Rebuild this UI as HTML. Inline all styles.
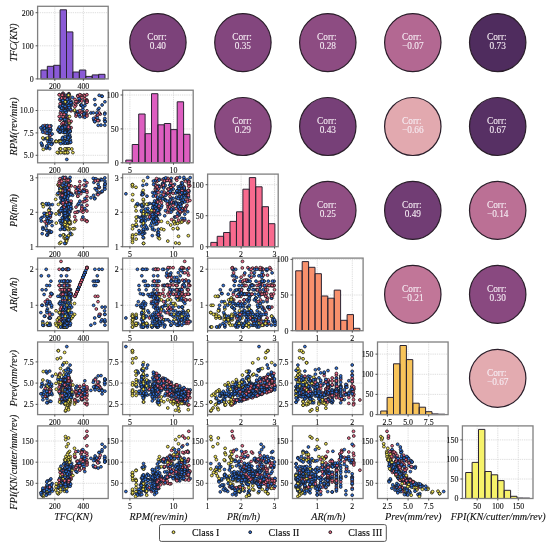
<!DOCTYPE html><html><head><meta charset="utf-8"><style>html,body{margin:0;padding:0;background:#fff}svg{display:block;will-change:transform}</style></head><body><svg width="550" height="548" viewBox="0 0 550 548">
<rect width="550" height="548" fill="#fff"/>
<defs><circle id="a" r="1.42" fill="#f2e655" stroke="#111" stroke-width="0.75"/><circle id="b" r="1.42" fill="#3272dc" stroke="#111" stroke-width="0.75"/><circle id="c" r="1.42" fill="#ec6a8a" stroke="#111" stroke-width="0.75"/></defs>
<style>text{font-family:"Liberation Serif",serif;fill:#111;stroke:#000;stroke-width:.1px}.t{font-size:7.9px}.l{font-size:9.6px;font-style:italic}.c{font-size:9.3px;fill:#f7eef5;stroke:#f7eef5;stroke-width:.08px}circle.p{stroke:#111;stroke-width:.75}</style>
<path d="M54.8 6.3v72.6M83.4 6.3v72.6M37.6 78.9h70.6M37.6 45.8h70.6M37.6 12.7h70.6" stroke="#d6d6d6" stroke-width=".8" stroke-dasharray="1.3 .9" fill="none"/>
<path d="M40.9 78.9h6.4v-8.9h-6.4zM47.3 78.9h6.4v-12.6h-6.4zM53.7 78.9h6.4v-13.6h-6.4zM60.1 78.9h6.4v-69.1h-6.4zM66.5 78.9h6.4v-47h-6.4zM72.9 78.9h6.4v-6.9h-6.4zM79.4 78.9h6.4v-8.9h-6.4zM85.8 78.9h6.4v-2.5h-6.4zM92.2 78.9h6.4v-4h-6.4zM98.6 78.9h6.4v-4.6h-6.4z" fill="#8a5ad6" stroke="#2b2433" stroke-width="1"/>
<rect x="37.6" y="6.3" width="70.6" height="72.6" fill="none" stroke="#808080" stroke-width="1.3"/>
<text class="t" x="54.8" y="89.4" text-anchor="middle">200</text>
<text class="t" x="83.4" y="89.4" text-anchor="middle">400</text>
<text class="t" x="33.6" y="81.7" text-anchor="end">0</text>
<text class="t" x="33.6" y="48.6" text-anchor="end">100</text>
<text class="t" x="33.6" y="15.5" text-anchor="end">200</text>
<path d="M54.8 78.9v2M83.4 78.9v2M37.6 78.9h-2M37.6 45.8h-2M37.6 12.7h-2" stroke="#444" stroke-width=".9"/>
<ellipse cx="157.9" cy="42.6" rx="28.2" ry="29" fill="#7c427a" stroke="#2a1e2a" stroke-width="1.2"/>
<text class="c" x="157" y="40.4" text-anchor="middle">Corr:</text>
<text class="c" x="157.9" y="49.2" text-anchor="middle">0.40</text>
<ellipse cx="242.9" cy="42.6" rx="28.2" ry="29" fill="#83467e" stroke="#2a1e2a" stroke-width="1.2"/>
<text class="c" x="242" y="40.4" text-anchor="middle">Corr:</text>
<text class="c" x="242.9" y="49.2" text-anchor="middle">0.35</text>
<ellipse cx="327.8" cy="42.6" rx="28.2" ry="29" fill="#8d4c82" stroke="#2a1e2a" stroke-width="1.2"/>
<text class="c" x="326.9" y="40.4" text-anchor="middle">Corr:</text>
<text class="c" x="327.8" y="49.2" text-anchor="middle">0.28</text>
<ellipse cx="412.8" cy="42.6" rx="28.2" ry="29" fill="#b36892" stroke="#2a1e2a" stroke-width="1.2"/>
<text class="c" x="411.9" y="40.4" text-anchor="middle">Corr:</text>
<text class="c" x="412.8" y="49.2" text-anchor="middle">−0.07</text>
<ellipse cx="497.7" cy="42.6" rx="28.2" ry="29" fill="#4f2c5e" stroke="#2a1e2a" stroke-width="1.2"/>
<text class="c" x="496.8" y="40.4" text-anchor="middle">Corr:</text>
<text class="c" x="497.7" y="49.2" text-anchor="middle">0.73</text>
<path d="M54.8 90.2v72.6M83.4 90.2v72.6M37.6 155.3h70.6M37.6 132.9h70.6M37.6 110.5h70.6" stroke="#d6d6d6" stroke-width=".8" stroke-dasharray="1.3 .9" fill="none"/>
<clipPath id="c10"><rect x="37.6" y="90.2" width="70.6" height="72.6"/></clipPath>
<g clip-path="url(#c10)"><g transform="translate(37.6 90.2)">
<use href=#b x=39.3 y=22.8 /><use href=#b x=28.2 y=15.6 /><use href=#b x=26.6 y=42.5 /><use href=#b x=57.1 y=9.3 /><use href=#b x=29.7 y=40.9 /><use href=#c x=22.4 y=30 /><use href=#b x=25.2 y=20.7 /><use href=#b x=40.3 y=21.3 /><use href=#b x=40.2 y=5.4 /><use href=#b x=23.3 y=20.6 /><use href=#b x=47.4 y=10.3 /><use href=#c x=11.8 y=36.9 /><use href=#b x=38.3 y=23.5 /><use href=#c x=38.4 y=25.9 /><use href=#a x=28.7 y=51.2 /><use href=#b x=26.4 y=32.3 /><use href=#b x=23.4 y=16.4 /><use href=#c x=46.3 y=4.9 /><use href=#b x=29.2 y=10.9 /><use href=#c x=58.7 y=26.1 /><use href=#b x=27.8 y=35.7 /><use href=#b x=29.2 y=52.6 /><use href=#c x=31.7 y=31.3 /><use href=#b x=32.5 y=41 /><use href=#c x=8.9 y=37.3 /><use href=#c x=62.7 y=23.9 /><use href=#a x=32.2 y=32.8 /><use href=#b x=61.6 y=5.1 /><use href=#a x=24.8 y=51 /><use href=#c x=27.3 y=39 /><use href=#a x=27.9 y=14.5 /><use href=#b x=31.8 y=9.6 /><use href=#b x=24.8 y=49.5 /><use href=#c x=21.6 y=37.9 /><use href=#c x=47.3 y=8.6 /><use href=#c x=21.1 y=38.6 /><use href=#b x=25.9 y=53.2 /><use href=#a x=32.8 y=19 /><use href=#b x=30 y=11.6 /><use href=#a x=29.6 y=58.6 /><use href=#c x=45.4 y=26.4 /><use href=#b x=27.4 y=15.1 /><use href=#a x=32.4 y=19.5 /><use href=#b x=32.5 y=41.5 /><use href=#a x=31.9 y=5.4 /><use href=#c x=41.4 y=11 /><use href=#c x=43.4 y=15 /><use href=#b x=26.8 y=38.8 /><use href=#c x=27.2 y=6.4 /><use href=#c x=30.5 y=36.7 /><use href=#b x=56.3 y=29.7 /><use href=#b x=26.7 y=15.5 /><use href=#b x=32.8 y=49.8 /><use href=#c x=45.4 y=22.3 /><use href=#c x=49.2 y=11.9 /><use href=#c x=49.2 y=9.7 /><use href=#b x=31.4 y=14.4 /><use href=#b x=60.5 y=19.3 /><use href=#a x=21.5 y=51 /><use href=#b x=67.3 y=22.9 /><use href=#b x=31.1 y=52.2 /><use href=#b x=43.4 y=15 /><use href=#b x=27 y=38.1 /><use href=#b x=22.8 y=50.8 /><use href=#b x=28.7 y=13.4 /><use href=#c x=61.7 y=22.8 /><use href=#a x=26.1 y=51.1 /><use href=#b x=10.2 y=51.3 /><use href=#b x=42.4 y=9.7 /><use href=#b x=22.6 y=42.1 /><use href=#b x=28.2 y=32.9 /><use href=#b x=29.2 y=14.6 /><use href=#c x=44.2 y=22.2 /><use href=#a x=27 y=62.4 /><use href=#a x=30.6 y=15.1 /><use href=#c x=30.1 y=36.4 /><use href=#a x=26.4 y=51 /><use href=#a x=28.3 y=59.1 /><use href=#b x=48.2 y=12.5 /><use href=#b x=25 y=14.6 /><use href=#b x=30.3 y=19.7 /><use href=#b x=23.7 y=10.8 /><use href=#b x=40.4 y=5.6 /><use href=#b x=9.4 y=56.5 /><use href=#b x=9.8 y=56.9 /><use href=#c x=33.5 y=31.1 /><use href=#b x=27 y=51.7 /><use href=#b x=26.1 y=29 /><use href=#b x=30.4 y=47.9 /><use href=#b x=27.4 y=38.1 /><use href=#a x=31.4 y=58.6 /><use href=#b x=30 y=44.1 /><use href=#c x=39.3 y=24.3 /><use href=#b x=34.1 y=11.7 /><use href=#b x=26 y=51 /><use href=#c x=42.2 y=23.2 /><use href=#c x=46.3 y=25.1 /><use href=#b x=35 y=7.3 /><use href=#a x=34.2 y=58.8 /><use href=#a x=26.4 y=51.2 /><use href=#b x=24.7 y=36.3 /><use href=#b x=12.2 y=51.2 /><use href=#b x=29.9 y=39.1 /><use href=#b x=26.4 y=28.7 /><use href=#b x=61.4 y=30.3 /><use href=#b x=25.5 y=38.8 /><use href=#b x=27.9 y=22.7 /><use href=#b x=58.2 y=30 /><use href=#b x=22 y=16.6 /><use href=#c x=33.5 y=20.6 /><use href=#b x=53.3 y=22.8 /><use href=#b x=12 y=49.2 /><use href=#b x=63.4 y=34.9 /><use href=#a x=20.6 y=62.5 /><use href=#b x=27.7 y=8.9 /><use href=#b x=30.6 y=41.7 /><use href=#b x=30.4 y=11.8 /><use href=#c x=25.3 y=38.9 /><use href=#b x=27.5 y=28.9 /><use href=#b x=27.3 y=15.6 /><use href=#b x=8.9 y=58 /><use href=#b x=29 y=34.5 /><use href=#b x=25.5 y=35.7 /><use href=#b x=26.6 y=51.2 /><use href=#c x=9.8 y=37 /><use href=#b x=29.3 y=39.6 /><use href=#b x=13.3 y=39.7 /><use href=#c x=31.3 y=7.3 /><use href=#b x=30.7 y=52.9 /><use href=#a x=36.9 y=20.6 /><use href=#c x=30.8 y=37.9 /><use href=#b x=27.6 y=14.6 /><use href=#b x=31.6 y=10.9 /><use href=#c x=46.4 y=25.5 /><use href=#b x=28.7 y=28.1 /><use href=#c x=22.4 y=37.6 /><use href=#c x=12.7 y=44 /><use href=#b x=28.6 y=13.5 /><use href=#a x=27.1 y=35.7 /><use href=#c x=49.4 y=23.9 /><use href=#b x=25.4 y=47.1 /><use href=#b x=26.6 y=33.4 /><use href=#b x=28.7 y=29.7 /><use href=#b x=28.6 y=32.4 /><use href=#c x=40.2 y=6 /><use href=#c x=23.4 y=8.7 /><use href=#a x=26.6 y=51 /><use href=#b x=55.7 y=22.6 /><use href=#b x=41.3 y=24.6 /><use href=#b x=30.3 y=46.1 /><use href=#a x=31.1 y=16 /><use href=#c x=28.1 y=38.7 /><use href=#a x=18.1 y=51.3 /><use href=#b x=12.3 y=36.3 /><use href=#b x=28.4 y=17.1 /><use href=#c x=49.3 y=10.7 /><use href=#b x=45.3 y=19.1 /><use href=#c x=31.4 y=3.5 /><use href=#a x=27.3 y=23.1 /><use href=#c x=46.3 y=23.3 /><use href=#b x=14.7 y=53 /><use href=#b x=12 y=45.7 /><use href=#b x=27.2 y=36.4 /><use href=#c x=57.7 y=29.6 /><use href=#b x=25.9 y=13.9 /><use href=#b x=13.3 y=35.7 /><use href=#b x=44.2 y=14.9 /><use href=#c x=24.2 y=33.6 /><use href=#b x=40.2 y=12.1 /><use href=#b x=32.4 y=38.3 /><use href=#a x=28.1 y=18.1 /><use href=#b x=26.5 y=36.4 /><use href=#c x=27.6 y=5.1 /><use href=#b x=29.4 y=51.7 /><use href=#b x=22.9 y=17.1 /><use href=#b x=27.6 y=37.6 /><use href=#a x=29 y=51.2 /><use href=#b x=28.8 y=20.8 /><use href=#b x=60.6 y=35.1 /><use href=#a x=20.8 y=62.5 /><use href=#b x=26.2 y=40.4 /><use href=#b x=33.4 y=15.6 /><use href=#c x=37.4 y=13.2 /><use href=#b x=27.4 y=12.6 /><use href=#b x=25.1 y=36.9 /><use href=#b x=25.2 y=10.4 /><use href=#b x=30.5 y=8.7 /><use href=#b x=25.4 y=24.9 /><use href=#b x=27.1 y=51.1 /><use href=#b x=29.6 y=5.4 /><use href=#b x=47.2 y=22.9 /><use href=#b x=30.4 y=4.3 /><use href=#c x=7.3 y=35.4 /><use href=#b x=29 y=52.6 /><use href=#c x=49.4 y=20.6 /><use href=#a x=31.4 y=51 /><use href=#b x=30.2 y=38.7 /><use href=#b x=25.9 y=37.5 /><use href=#c x=31.8 y=11.1 /><use href=#b x=27.6 y=41.8 /><use href=#a x=19.7 y=62.2 /><use href=#c x=26.9 y=39.9 /><use href=#b x=64.3 y=6 /><use href=#b x=23.3 y=28.5 /><use href=#b x=30.9 y=38.8 /><use href=#b x=32.5 y=46.8 /><use href=#b x=32.1 y=10.3 /><use href=#b x=26.3 y=41.9 /><use href=#b x=28.5 y=41.4 /><use href=#b x=4.6 y=39.7 /><use href=#b x=9.9 y=35.4 /><use href=#b x=27.4 y=38.5 /><use href=#b x=47.2 y=27.1 /><use href=#b x=26.8 y=39.6 /><use href=#b x=27 y=34.5 /><use href=#b x=28 y=52.8 /><use href=#c x=49.4 y=10.8 /><use href=#a x=30.5 y=15.8 /><use href=#c x=44.3 y=7.5 /><use href=#b x=27.5 y=18.2 /><use href=#c x=43.2 y=5 /><use href=#c x=39.4 y=11.4 /><use href=#b x=23.6 y=13.4 /><use href=#b x=67.1 y=24 /><use href=#c x=22.8 y=22.9 /><use href=#a x=11.2 y=42.8 /><use href=#b x=26.3 y=13.8 /><use href=#a x=27.3 y=58.7 /><use href=#b x=34 y=14 /><use href=#b x=29.8 y=49.3 /><use href=#a x=30.2 y=62.6 /><use href=#b x=67.5 y=31.3 /><use href=#b x=21.6 y=41.7 /><use href=#c x=44.2 y=10.8 /><use href=#c x=37.4 y=9.3 /><use href=#b x=32 y=44.8 /><use href=#a x=30.7 y=30.2 /><use href=#b x=25.3 y=9.9 /><use href=#b x=59.7 y=27.5 /><use href=#b x=28 y=37.4 /><use href=#b x=28.7 y=40.7 /><use href=#c x=38.2 y=15 /><use href=#b x=32.9 y=19.4 /><use href=#b x=28.2 y=51.2 /><use href=#c x=12.8 y=44.9 /><use href=#b x=28.7 y=14.1 /><use href=#c x=26.5 y=26.1 /><use href=#b x=27.7 y=51.8 /><use href=#b x=21.8 y=36.8 /><use href=#b x=29.3 y=11.6 /><use href=#c x=7.7 y=42.6 /><use href=#b x=25.2 y=11.8 /><use href=#a x=28.2 y=34.8 /><use href=#b x=61.4 y=18.1 /><use href=#c x=31.3 y=38.9 /><use href=#a x=29.8 y=16.1 /><use href=#a x=26.4 y=62.4 /><use href=#a x=28.6 y=62.4 /><use href=#b x=11.4 y=42.7 /><use href=#c x=26 y=17.5 /><use href=#c x=30.9 y=35.2 /><use href=#c x=25.2 y=6.1 /><use href=#b x=9.4 y=43 /><use href=#b x=22.8 y=15.7 /><use href=#b x=31.2 y=8.7 /><use href=#c x=29.1 y=13.2 /><use href=#b x=24.9 y=41.7 /><use href=#b x=31.2 y=41.7 /><use href=#b x=8.4 y=48.4 /><use href=#c x=27.6 y=36.7 /><use href=#a x=21.4 y=51.2 /><use href=#c x=47.2 y=5.6 /><use href=#b x=12.1 y=58.4 /><use href=#b x=42.3 y=26.5 /><use href=#b x=26.2 y=36.8 /><use href=#a x=31.5 y=32.7 /><use href=#b x=4.6 y=55.5 /><use href=#c x=22.5 y=13.6 /><use href=#b x=25.6 y=36.8 /><use href=#b x=31.4 y=4.3 /><use href=#c x=25.2 y=7 /><use href=#b x=25.3 y=3.1 /><use href=#b x=14 y=53.8 /><use href=#b x=31.9 y=46.5 /><use href=#b x=5.2 y=42 /><use href=#b x=24.2 y=8.5 /><use href=#c x=27.9 y=36 /><use href=#a x=22.3 y=58.7 /><use href=#b x=29.2 y=69.2 /><use href=#b x=29.3 y=15.1 /><use href=#b x=4.4 y=54.4 /><use href=#b x=67 y=30.4 /><use href=#b x=26.4 y=39.3 /><use href=#a x=29 y=26.1 /><use href=#b x=29.4 y=37.9 /><use href=#c x=23.9 y=24.2 /><use href=#b x=32.8 y=13 /><use href=#c x=27.1 y=35.6 /><use href=#b x=27.5 y=20.5 /><use href=#c x=25.6 y=3.4 /><use href=#b x=64.5 y=6.1 /><use href=#b x=26.9 y=38.3 /><use href=#b x=11 y=40.7 /><use href=#b x=30.1 y=26.3 /><use href=#b x=6 y=48.9 /><use href=#c x=49.4 y=12.1 /><use href=#a x=29 y=13.1 /><use href=#c x=21.6 y=26.3 /><use href=#c x=21.9 y=4.5 /><use href=#b x=6.5 y=38.7 /><use href=#b x=24.8 y=36.6 /><use href=#b x=26.4 y=11.4 /><use href=#b x=27.7 y=41 /><use href=#b x=27.1 y=29.3 /><use href=#b x=6.8 y=37.9 /><use href=#b x=8.6 y=57.4 /><use href=#b x=24.4 y=5.6 /><use href=#a x=5.7 y=59.2 /><use href=#b x=14.5 y=43.8 /><use href=#b x=31.6 y=37.6 /><use href=#b x=31.5 y=52.1 /><use href=#b x=29.6 y=26 /><use href=#b x=12.7 y=38.1 /><use href=#b x=25.3 y=15.4 /><use href=#b x=25 y=39.7 /><use href=#c x=42.2 y=4.5 /><use href=#a x=23 y=58.7 /><use href=#a x=23 y=58.8 /><use href=#b x=67.2 y=35 /><use href=#b x=23.8 y=38.2 /><use href=#b x=29.2 y=8.9 /><use href=#b x=41.4 y=8.5 /><use href=#b x=22.2 y=9.1 /><use href=#b x=67.3 y=11.6 /><use href=#b x=9.9 y=38.5 /><use href=#c x=28.1 y=33.7 /><use href=#c x=33.5 y=37.5 /><use href=#a x=30 y=62.2 /><use href=#b x=22.3 y=41.4 /><use href=#b x=32.6 y=52.4 /><use href=#b x=27.5 y=23.6 /><use href=#a x=20.8 y=51.4 /><use href=#c x=28.6 y=17.7 /><use href=#b x=28.2 y=18.2 /><use href=#c x=24 y=7.9 /><use href=#b x=27.7 y=41.7 /><use href=#b x=28.9 y=36 /><use href=#c x=28.9 y=16.9 /><use href=#b x=28 y=9.5 /><use href=#b x=20.3 y=39.9 /><use href=#b x=27.6 y=42.1 /><use href=#b x=32.5 y=40.9 /><use href=#b x=57.3 y=31.5 /><use href=#a x=5.3 y=47.8 /><use href=#a x=37 y=19.9 /><use href=#b x=29.9 y=52.4 /><use href=#c x=38.4 y=11.5 /><use href=#b x=29 y=8.6 /><use href=#b x=26.4 y=37.5 /><use href=#c x=28.9 y=36.5 /><use href=#b x=30.1 y=46.6 /><use href=#b x=12.4 y=40.7 /><use href=#b x=12.7 y=48.9 /><use href=#b x=64.5 y=14.8 /><use href=#b x=3.7 y=52.9 /><use href=#c x=27.5 y=8 /><use href=#b x=57.1 y=31.3 /><use href=#b x=29.2 y=34.4 /><use href=#b x=9.2 y=35.8 /><use href=#b x=30.3 y=12.1 /><use href=#b x=32.4 y=13.4 /><use href=#b x=14 y=49.4 /><use href=#b x=31.1 y=15.3 /><use href=#b x=27.5 y=46.6 /><use href=#b x=9.4 y=39.8 /><use href=#a x=22 y=51 /><use href=#c x=30.3 y=35.9 /><use href=#b x=24.6 y=37.7 /><use href=#b x=25.3 y=10.3 /><use href=#b x=27.8 y=51.1 /><use href=#b x=24.2 y=17.9 /><use href=#b x=28 y=51.8 /><use href=#b x=30.8 y=47.5 /><use href=#c x=42.2 y=20.5 /><use href=#b x=29.9 y=12.9 /><use href=#b x=57.5 y=14.6 /><use href=#c x=21.6 y=4.6 /><use href=#b x=56 y=28.2 /><use href=#c x=25.5 y=26.6 /><use href=#a x=35.3 y=62.4 /><use href=#b x=33.3 y=12.5 /><use href=#a x=9.7 y=47.9 /><use href=#b x=24.9 y=49.1 /><use href=#c x=60.2 y=24.7 /><use href=#b x=5.3 y=35.8 /><use href=#c x=25.5 y=32.6 /><use href=#c x=30.6 y=26.9 /><use href=#b x=47.3 y=15.4 /><use href=#b x=67.5 y=31.5 /><use href=#a x=18.4 y=51.2 /><use href=#b x=67.2 y=28.3 /><use href=#b x=26 y=4.8 /><use href=#c x=27 y=16.8 /><use href=#b x=26.9 y=51.1 /><use href=#a x=25.7 y=62.3 /><use href=#c x=25.2 y=5 /><use href=#b x=11.3 y=53.6 /><use href=#c x=49.4 y=25.8 /><use href=#c x=60.4 y=30.5 /><use href=#b x=13.9 y=54.3 /><use href=#b x=31.8 y=37.7 /><use href=#c x=26.7 y=24.2 /><use href=#b x=27.7 y=52.8 /><use href=#b x=24.8 y=48 /><use href=#b x=33.1 y=52 /><use href=#b x=29 y=36.4 /><use href=#b x=27.5 y=16.7 /><use href=#b x=3.3 y=37.6 /><use href=#a x=30.9 y=5 /><use href=#b x=27 y=12.1 /><use href=#a x=31.9 y=26.3 /><use href=#c x=30.9 y=37 /><use href=#b x=25.1 y=51.8 /><use href=#c x=12 y=36.1 /><use href=#a x=27.7 y=62.4 /><use href=#b x=59.2 y=22.7 /><use href=#b x=27.5 y=16.2 /><use href=#a x=22.9 y=51.4 /><use href=#b x=28.5 y=22.3 /><use href=#a x=18.7 y=51.2 /><use href=#b x=31.7 y=17.5 /><use href=#c x=49.3 y=4.5 /><use href=#a x=23.2 y=62.5 /><use href=#b x=30.9 y=11.7 /><use href=#b x=23.1 y=53.4 /><use href=#a x=27.7 y=11.6 /><use href=#b x=45.3 y=16.7 /><use href=#c x=37.2 y=16.5 /><use href=#b x=46.4 y=23.8 /><use href=#b x=9.2 y=55.7 /><use href=#b x=29.4 y=51.4 /><use href=#c x=24.6 y=5 /><use href=#c x=31.3 y=30.7 /><use href=#b x=27.4 y=36.7 /><use href=#b x=29.7 y=9.2 />
</g></g>
<rect x="37.6" y="90.2" width="70.6" height="72.6" fill="none" stroke="#808080" stroke-width="1.3"/>
<text class="t" x="54.8" y="173.3" text-anchor="middle">200</text>
<text class="t" x="83.4" y="173.3" text-anchor="middle">400</text>
<text class="t" x="33.6" y="158.1" text-anchor="end">5.0</text>
<text class="t" x="33.6" y="135.7" text-anchor="end">7.5</text>
<text class="t" x="33.6" y="113.3" text-anchor="end">10.0</text>
<path d="M54.8 162.8v2M83.4 162.8v2M37.6 155.3h-2M37.6 132.9h-2M37.6 110.5h-2" stroke="#444" stroke-width=".9"/>
<path d="M129.9 90.2v72.6M173.5 90.2v72.6M122.6 162.8h70.6M122.6 128.9h70.6M122.6 95h70.6" stroke="#d6d6d6" stroke-width=".8" stroke-dasharray="1.3 .9" fill="none"/>
<path d="M125.8 162.8h6.4v-2.7h-6.4zM132.2 162.8h6.4v-18.3h-6.4zM138.7 162.8h6.4v-48.8h-6.4zM145.1 162.8h6.4v-29.1h-6.4zM151.5 162.8h6.4v-69.1h-6.4zM157.9 162.8h6.4v-38h-6.4zM164.3 162.8h6.4v-39.3h-6.4zM170.7 162.8h6.4v-33.2h-6.4zM177.2 162.8h6.4v-61h-6.4zM183.6 162.8h6.4v-28.5h-6.4z" fill="#dd5ec0" stroke="#2b2433" stroke-width="1"/>
<rect x="122.6" y="90.2" width="70.6" height="72.6" fill="none" stroke="#808080" stroke-width="1.3"/>
<text class="t" x="129.9" y="173.3" text-anchor="middle">5</text>
<text class="t" x="173.5" y="173.3" text-anchor="middle">10</text>
<text class="t" x="118.6" y="165.6" text-anchor="end">0</text>
<text class="t" x="118.6" y="131.7" text-anchor="end">50</text>
<text class="t" x="118.6" y="97.8" text-anchor="end">100</text>
<path d="M129.9 162.8v2M173.5 162.8v2M122.6 162.8h-2M122.6 128.9h-2M122.6 95h-2" stroke="#444" stroke-width=".9"/>
<ellipse cx="242.9" cy="126.5" rx="28.2" ry="29" fill="#8a4a81" stroke="#2a1e2a" stroke-width="1.2"/>
<text class="c" x="242" y="124.3" text-anchor="middle">Corr:</text>
<text class="c" x="242.9" y="133.1" text-anchor="middle">0.29</text>
<ellipse cx="327.8" cy="126.5" rx="28.2" ry="29" fill="#774078" stroke="#2a1e2a" stroke-width="1.2"/>
<text class="c" x="326.9" y="124.3" text-anchor="middle">Corr:</text>
<text class="c" x="327.8" y="133.1" text-anchor="middle">0.43</text>
<ellipse cx="412.8" cy="126.5" rx="28.2" ry="29" fill="#e2a9af" stroke="#2a1e2a" stroke-width="1.2"/>
<text class="c" x="411.9" y="124.3" text-anchor="middle">Corr:</text>
<text class="c" x="412.8" y="133.1" text-anchor="middle">−0.66</text>
<ellipse cx="497.7" cy="126.5" rx="28.2" ry="29" fill="#573064" stroke="#2a1e2a" stroke-width="1.2"/>
<text class="c" x="496.8" y="124.3" text-anchor="middle">Corr:</text>
<text class="c" x="497.7" y="133.1" text-anchor="middle">0.67</text>
<path d="M54.8 174.1v72.6M83.4 174.1v72.6M37.6 246.7h70.6M37.6 212.3h70.6M37.6 177.8h70.6" stroke="#d6d6d6" stroke-width=".8" stroke-dasharray="1.3 .9" fill="none"/>
<clipPath id="c20"><rect x="37.6" y="174.1" width="70.6" height="72.6"/></clipPath>
<g clip-path="url(#c20)"><g transform="translate(37.6 174.1)">
<use href=#b x=39.3 y=13.5 /><use href=#b x=28.2 y=23.3 /><use href=#b x=26.6 y=36.5 /><use href=#b x=57.1 y=5.1 /><use href=#b x=29.7 y=43.7 /><use href=#c x=22.4 y=17.9 /><use href=#b x=25.2 y=24.3 /><use href=#b x=40.3 y=30.6 /><use href=#b x=40.2 y=22.1 /><use href=#b x=23.3 y=28.1 /><use href=#b x=47.4 y=16.4 /><use href=#c x=11.8 y=35.1 /><use href=#b x=38.3 y=18.8 /><use href=#c x=38.4 y=33 /><use href=#a x=28.7 y=50.3 /><use href=#b x=26.4 y=31.6 /><use href=#b x=23.4 y=49.1 /><use href=#c x=46.3 y=16 /><use href=#b x=29.2 y=28.4 /><use href=#c x=58.7 y=14.8 /><use href=#b x=27.8 y=11.5 /><use href=#b x=29.2 y=31.8 /><use href=#c x=31.7 y=5.6 /><use href=#b x=32.5 y=32.3 /><use href=#c x=8.9 y=49.9 /><use href=#c x=62.7 y=18.5 /><use href=#a x=32.2 y=54.8 /><use href=#b x=61.6 y=6.8 /><use href=#a x=24.8 y=46.5 /><use href=#c x=27.3 y=10.9 /><use href=#a x=27.9 y=69.3 /><use href=#b x=31.8 y=21 /><use href=#b x=24.8 y=51 /><use href=#c x=21.6 y=7.6 /><use href=#c x=47.3 y=45.9 /><use href=#c x=21.1 y=11.4 /><use href=#b x=25.9 y=52 /><use href=#a x=32.8 y=49.7 /><use href=#b x=30 y=44.2 /><use href=#a x=29.6 y=65 /><use href=#c x=45.4 y=38.2 /><use href=#b x=27.4 y=32.3 /><use href=#a x=32.4 y=47.1 /><use href=#b x=32.5 y=34.9 /><use href=#a x=31.9 y=48.6 /><use href=#c x=41.4 y=13.4 /><use href=#c x=43.4 y=36.7 /><use href=#b x=26.8 y=38.9 /><use href=#c x=27.2 y=31.3 /><use href=#c x=30.5 y=6.6 /><use href=#b x=56.3 y=8.3 /><use href=#b x=26.7 y=12.7 /><use href=#b x=32.8 y=59 /><use href=#c x=45.4 y=27.8 /><use href=#c x=49.2 y=16.8 /><use href=#c x=49.2 y=26.3 /><use href=#b x=31.4 y=41.1 /><use href=#b x=60.5 y=10.2 /><use href=#a x=21.5 y=37 /><use href=#b x=67.3 y=7 /><use href=#b x=31.1 y=18.4 /><use href=#b x=43.4 y=17.8 /><use href=#b x=27 y=47.9 /><use href=#b x=22.8 y=55.4 /><use href=#b x=28.7 y=11.9 /><use href=#c x=61.7 y=13.5 /><use href=#a x=26.1 y=26.2 /><use href=#b x=10.2 y=59.7 /><use href=#b x=42.4 y=18.2 /><use href=#b x=22.6 y=61.5 /><use href=#b x=28.2 y=33.4 /><use href=#b x=29.2 y=23.2 /><use href=#c x=44.2 y=45.5 /><use href=#a x=27 y=12.5 /><use href=#a x=30.6 y=62.2 /><use href=#c x=30.1 y=15.1 /><use href=#a x=26.4 y=19.8 /><use href=#a x=28.3 y=51.8 /><use href=#b x=48.2 y=11.8 /><use href=#b x=25 y=18.9 /><use href=#b x=30.3 y=28.8 /><use href=#b x=23.7 y=14.9 /><use href=#b x=40.4 y=37.6 /><use href=#b x=9.4 y=30.6 /><use href=#b x=9.8 y=42.8 /><use href=#c x=33.5 y=11.8 /><use href=#b x=27 y=32.5 /><use href=#b x=26.1 y=25.7 /><use href=#b x=30.4 y=10.3 /><use href=#b x=27.4 y=39.7 /><use href=#a x=31.4 y=43.1 /><use href=#b x=30 y=41.3 /><use href=#c x=39.3 y=38.1 /><use href=#b x=34.1 y=20.1 /><use href=#b x=26 y=30.6 /><use href=#c x=42.2 y=16.1 /><use href=#c x=46.3 y=15.2 /><use href=#b x=35 y=21.2 /><use href=#a x=34.2 y=60.3 /><use href=#a x=26.4 y=37.8 /><use href=#b x=24.7 y=24.3 /><use href=#b x=12.2 y=56.8 /><use href=#b x=29.9 y=6.5 /><use href=#b x=26.4 y=11.4 /><use href=#b x=61.4 y=12.9 /><use href=#b x=25.5 y=17.9 /><use href=#b x=27.9 y=38 /><use href=#b x=58.2 y=4.7 /><use href=#b x=22 y=18.4 /><use href=#c x=33.5 y=19.3 /><use href=#b x=53.3 y=23.7 /><use href=#b x=12 y=35 /><use href=#b x=63.4 y=5.2 /><use href=#a x=20.6 y=10.5 /><use href=#b x=27.7 y=44.4 /><use href=#b x=30.6 y=45.9 /><use href=#b x=30.4 y=28.3 /><use href=#c x=25.3 y=29.3 /><use href=#b x=27.5 y=25.5 /><use href=#b x=27.3 y=32.9 /><use href=#b x=8.9 y=52 /><use href=#b x=29 y=24.6 /><use href=#b x=25.5 y=38.2 /><use href=#b x=26.6 y=55.2 /><use href=#c x=9.8 y=45.7 /><use href=#b x=29.3 y=50.3 /><use href=#b x=13.3 y=39.1 /><use href=#c x=31.3 y=17.3 /><use href=#b x=30.7 y=20.7 /><use href=#a x=36.9 y=54.6 /><use href=#c x=30.8 y=16 /><use href=#b x=27.6 y=29.6 /><use href=#b x=31.6 y=10.9 /><use href=#c x=46.4 y=35.1 /><use href=#b x=28.7 y=26.7 /><use href=#c x=22.4 y=4.5 /><use href=#c x=12.7 y=41.9 /><use href=#b x=28.6 y=37.6 /><use href=#a x=27.1 y=63.6 /><use href=#c x=49.4 y=22.5 /><use href=#b x=25.4 y=54.8 /><use href=#b x=26.6 y=21.5 /><use href=#b x=28.7 y=21.7 /><use href=#b x=28.6 y=17.8 /><use href=#c x=40.2 y=22.1 /><use href=#c x=23.4 y=36.7 /><use href=#a x=26.6 y=63.9 /><use href=#b x=55.7 y=4.2 /><use href=#b x=41.3 y=29.3 /><use href=#b x=30.3 y=45.2 /><use href=#a x=31.1 y=49.4 /><use href=#c x=28.1 y=21.9 /><use href=#a x=18.1 y=25.2 /><use href=#b x=12.3 y=58.1 /><use href=#b x=28.4 y=24.1 /><use href=#c x=49.3 y=36.9 /><use href=#b x=45.3 y=42.9 /><use href=#c x=31.4 y=11.6 /><use href=#a x=27.3 y=50.9 /><use href=#c x=46.3 y=11 /><use href=#b x=14.7 y=30.5 /><use href=#b x=12 y=38.3 /><use href=#b x=27.2 y=32.9 /><use href=#c x=57.7 y=6.9 /><use href=#b x=25.9 y=3.3 /><use href=#b x=13.3 y=58.2 /><use href=#b x=44.2 y=31.4 /><use href=#c x=24.2 y=12.5 /><use href=#b x=40.2 y=15.3 /><use href=#b x=32.4 y=37.6 /><use href=#a x=28.1 y=68.9 /><use href=#b x=26.5 y=30.5 /><use href=#c x=27.6 y=9.6 /><use href=#b x=29.4 y=41.7 /><use href=#b x=22.9 y=23.1 /><use href=#b x=27.6 y=32.2 /><use href=#a x=29 y=6.7 /><use href=#b x=28.8 y=35.6 /><use href=#b x=60.6 y=6 /><use href=#a x=20.8 y=10.7 /><use href=#b x=26.2 y=39.3 /><use href=#b x=33.4 y=29.2 /><use href=#c x=37.4 y=38.4 /><use href=#b x=27.4 y=21.9 /><use href=#b x=25.1 y=26.9 /><use href=#b x=25.2 y=35.5 /><use href=#b x=30.5 y=40.2 /><use href=#b x=25.4 y=29.9 /><use href=#b x=27.1 y=69.3 /><use href=#b x=29.6 y=21.5 /><use href=#b x=47.2 y=34.4 /><use href=#b x=30.4 y=17.3 /><use href=#c x=7.3 y=47.6 /><use href=#b x=29 y=32.6 /><use href=#c x=49.4 y=31.2 /><use href=#a x=31.4 y=29.7 /><use href=#b x=30.2 y=32 /><use href=#b x=25.9 y=43.3 /><use href=#c x=31.8 y=35.1 /><use href=#b x=27.6 y=55.2 /><use href=#a x=19.7 y=20.5 /><use href=#c x=26.9 y=36.5 /><use href=#b x=64.3 y=5.7 /><use href=#b x=23.3 y=36.6 /><use href=#b x=30.9 y=14.5 /><use href=#b x=32.5 y=3.3 /><use href=#b x=32.1 y=19.1 /><use href=#b x=26.3 y=41.4 /><use href=#b x=28.5 y=40.3 /><use href=#b x=4.6 y=29.7 /><use href=#b x=9.9 y=61 /><use href=#b x=27.4 y=45 /><use href=#b x=47.2 y=6.3 /><use href=#b x=26.8 y=42 /><use href=#b x=27 y=35.7 /><use href=#b x=28 y=37.8 /><use href=#c x=49.4 y=46.9 /><use href=#a x=30.5 y=54.7 /><use href=#c x=44.3 y=33.1 /><use href=#b x=27.5 y=27.8 /><use href=#c x=43.2 y=19.6 /><use href=#c x=39.4 y=18.6 /><use href=#b x=23.6 y=24.8 /><use href=#b x=67.1 y=11.1 /><use href=#c x=22.8 y=9.1 /><use href=#a x=11.2 y=36.3 /><use href=#b x=26.3 y=24.4 /><use href=#a x=27.3 y=50.3 /><use href=#b x=34 y=34.7 /><use href=#b x=29.8 y=44.3 /><use href=#a x=30.2 y=63.8 /><use href=#b x=67.5 y=9.4 /><use href=#b x=21.6 y=18.5 /><use href=#c x=44.2 y=34.8 /><use href=#c x=37.4 y=12.7 /><use href=#b x=32 y=29.4 /><use href=#a x=30.7 y=55.6 /><use href=#b x=25.3 y=15.3 /><use href=#b x=59.7 y=19.9 /><use href=#b x=28 y=19 /><use href=#b x=28.7 y=10.4 /><use href=#c x=38.2 y=46.1 /><use href=#b x=32.9 y=34.7 /><use href=#b x=28.2 y=45.3 /><use href=#c x=12.8 y=42.9 /><use href=#b x=28.7 y=22.5 /><use href=#c x=26.5 y=4.3 /><use href=#b x=27.7 y=41.7 /><use href=#b x=21.8 y=40.3 /><use href=#b x=29.3 y=29 /><use href=#c x=7.7 y=39.5 /><use href=#b x=25.2 y=36.4 /><use href=#a x=28.2 y=64.6 /><use href=#b x=61.4 y=19 /><use href=#c x=31.3 y=15.6 /><use href=#a x=29.8 y=54.1 /><use href=#a x=26.4 y=26.2 /><use href=#a x=28.6 y=66.5 /><use href=#b x=11.4 y=48.9 /><use href=#c x=26 y=34.4 /><use href=#c x=30.9 y=32 /><use href=#c x=25.2 y=25.6 /><use href=#b x=9.4 y=44.7 /><use href=#b x=22.8 y=15.7 /><use href=#b x=31.2 y=19.2 /><use href=#c x=29.1 y=19.8 /><use href=#b x=24.9 y=33.5 /><use href=#b x=31.2 y=29.8 /><use href=#b x=8.4 y=39.6 /><use href=#c x=27.6 y=15.3 /><use href=#a x=21.4 y=37.3 /><use href=#c x=47.2 y=27.4 /><use href=#b x=12.1 y=30.9 /><use href=#b x=42.3 y=27.1 /><use href=#b x=26.2 y=60.7 /><use href=#a x=31.5 y=47.2 /><use href=#b x=4.6 y=59.6 /><use href=#c x=22.5 y=37.6 /><use href=#b x=25.6 y=16.1 /><use href=#b x=31.4 y=7.4 /><use href=#c x=25.2 y=18.2 /><use href=#b x=25.3 y=3.5 /><use href=#b x=14 y=47.4 /><use href=#b x=31.9 y=30.2 /><use href=#b x=5.2 y=53.5 /><use href=#b x=24.2 y=34 /><use href=#c x=27.9 y=35.1 /><use href=#a x=22.3 y=36.8 /><use href=#b x=29.2 y=19.7 /><use href=#b x=29.3 y=40.3 /><use href=#b x=4.4 y=43.4 /><use href=#b x=67 y=14 /><use href=#b x=26.4 y=32.8 /><use href=#a x=29 y=67 /><use href=#b x=29.4 y=30.7 /><use href=#c x=23.9 y=6.5 /><use href=#b x=32.8 y=30.3 /><use href=#c x=27.1 y=14.6 /><use href=#b x=27.5 y=15 /><use href=#c x=25.6 y=26.4 /><use href=#b x=64.5 y=17.6 /><use href=#b x=26.9 y=34.8 /><use href=#b x=11 y=29.6 /><use href=#b x=30.1 y=19.2 /><use href=#b x=6 y=54.8 /><use href=#c x=49.4 y=8.6 /><use href=#a x=29 y=48.3 /><use href=#c x=21.6 y=19.4 /><use href=#c x=21.9 y=12.2 /><use href=#b x=6.5 y=39.2 /><use href=#b x=24.8 y=23 /><use href=#b x=26.4 y=8.8 /><use href=#b x=27.7 y=22.1 /><use href=#b x=27.1 y=41.7 /><use href=#b x=6.8 y=41.9 /><use href=#b x=8.6 y=29.6 /><use href=#b x=24.4 y=21.4 /><use href=#a x=5.7 y=32.6 /><use href=#b x=14.5 y=51.5 /><use href=#b x=31.6 y=49.2 /><use href=#b x=31.5 y=47.6 /><use href=#b x=29.6 y=30.2 /><use href=#b x=12.7 y=40.2 /><use href=#b x=25.3 y=17.5 /><use href=#b x=25 y=26.9 /><use href=#c x=42.2 y=7.6 /><use href=#a x=23 y=46.8 /><use href=#a x=23 y=13.2 /><use href=#b x=67.2 y=12.5 /><use href=#b x=23.8 y=34.4 /><use href=#b x=29.2 y=23.3 /><use href=#b x=41.4 y=18.5 /><use href=#b x=22.2 y=14.8 /><use href=#b x=67.3 y=15.1 /><use href=#b x=9.9 y=47 /><use href=#c x=28.1 y=26.9 /><use href=#c x=33.5 y=27 /><use href=#a x=30 y=51.4 /><use href=#b x=22.3 y=46.6 /><use href=#b x=32.6 y=60.4 /><use href=#b x=27.5 y=25.9 /><use href=#a x=20.8 y=30.3 /><use href=#c x=28.6 y=4.8 /><use href=#b x=28.2 y=42.9 /><use href=#c x=24 y=7.2 /><use href=#b x=27.7 y=42.4 /><use href=#b x=28.9 y=36.2 /><use href=#c x=28.9 y=6.2 /><use href=#b x=28 y=3.3 /><use href=#b x=20.3 y=19.2 /><use href=#b x=27.6 y=40.3 /><use href=#b x=32.5 y=7 /><use href=#b x=57.3 y=24.1 /><use href=#a x=5.3 y=30.1 /><use href=#a x=37 y=47.7 /><use href=#b x=29.9 y=46.3 /><use href=#c x=38.4 y=16.6 /><use href=#b x=29 y=27.8 /><use href=#b x=26.4 y=27.2 /><use href=#c x=28.9 y=27.9 /><use href=#b x=30.1 y=34.3 /><use href=#b x=12.4 y=47.7 /><use href=#b x=12.7 y=41.2 /><use href=#b x=64.5 y=17.1 /><use href=#b x=3.7 y=47 /><use href=#c x=27.5 y=34.9 /><use href=#b x=57.1 y=24.7 /><use href=#b x=29.2 y=40.4 /><use href=#b x=9.2 y=60.9 /><use href=#b x=30.3 y=26 /><use href=#b x=32.4 y=30.1 /><use href=#b x=14 y=39 /><use href=#b x=31.1 y=32.9 /><use href=#b x=27.5 y=37.3 /><use href=#b x=9.4 y=56 /><use href=#a x=22 y=69.3 /><use href=#c x=30.3 y=18.4 /><use href=#b x=24.6 y=43.8 /><use href=#b x=25.3 y=25.9 /><use href=#b x=27.8 y=41.2 /><use href=#b x=24.2 y=28.9 /><use href=#b x=28 y=19.9 /><use href=#b x=30.8 y=22.1 /><use href=#c x=42.2 y=11.6 /><use href=#b x=29.9 y=24 /><use href=#b x=57.5 y=14.5 /><use href=#c x=21.6 y=9.3 /><use href=#b x=56 y=21.2 /><use href=#c x=25.5 y=30.1 /><use href=#a x=35.3 y=54.7 /><use href=#b x=33.3 y=32.2 /><use href=#a x=9.7 y=40.2 /><use href=#b x=24.9 y=46.9 /><use href=#c x=60.2 y=6.4 /><use href=#b x=5.3 y=55.1 /><use href=#c x=25.5 y=28.6 /><use href=#c x=30.6 y=6.3 /><use href=#b x=47.3 y=24.5 /><use href=#b x=67.5 y=9.9 /><use href=#a x=18.4 y=39.8 /><use href=#b x=67.2 y=3.8 /><use href=#b x=26 y=22.9 /><use href=#c x=27 y=3.8 /><use href=#b x=26.9 y=55.1 /><use href=#a x=25.7 y=60.9 /><use href=#c x=25.2 y=16.6 /><use href=#b x=11.3 y=44.2 /><use href=#c x=49.4 y=18.5 /><use href=#c x=60.4 y=20.6 /><use href=#b x=13.9 y=57.8 /><use href=#b x=31.8 y=37.9 /><use href=#c x=26.7 y=32.9 /><use href=#b x=27.7 y=31 /><use href=#b x=24.8 y=53 /><use href=#b x=33.1 y=20.5 /><use href=#b x=29 y=45.3 /><use href=#b x=27.5 y=17 /><use href=#b x=3.3 y=44.5 /><use href=#a x=30.9 y=61.6 /><use href=#b x=27 y=22.9 /><use href=#a x=31.9 y=48.4 /><use href=#c x=30.9 y=12.8 /><use href=#b x=25.1 y=11.3 /><use href=#c x=12 y=39.2 /><use href=#a x=27.7 y=62.5 /><use href=#b x=59.2 y=16.3 /><use href=#b x=27.5 y=39.1 /><use href=#a x=22.9 y=16.3 /><use href=#b x=28.5 y=34.9 /><use href=#a x=18.7 y=49 /><use href=#b x=31.7 y=30 /><use href=#c x=49.3 y=47.4 /><use href=#a x=23.2 y=68.3 /><use href=#b x=30.9 y=18.8 /><use href=#b x=23.1 y=36.5 /><use href=#a x=27.7 y=47.9 /><use href=#b x=45.3 y=16.7 /><use href=#c x=37.2 y=42.6 /><use href=#b x=46.4 y=17.3 /><use href=#b x=9.2 y=56.5 /><use href=#b x=29.4 y=63.4 /><use href=#c x=24.6 y=21.3 /><use href=#c x=31.3 y=11 /><use href=#b x=27.4 y=36.1 /><use href=#b x=29.7 y=13.9 />
</g></g>
<rect x="37.6" y="174.1" width="70.6" height="72.6" fill="none" stroke="#808080" stroke-width="1.3"/>
<text class="t" x="54.8" y="257.2" text-anchor="middle">200</text>
<text class="t" x="83.4" y="257.2" text-anchor="middle">400</text>
<text class="t" x="33.6" y="249.5" text-anchor="end">1</text>
<text class="t" x="33.6" y="215.1" text-anchor="end">2</text>
<text class="t" x="33.6" y="180.6" text-anchor="end">3</text>
<path d="M54.8 246.7v2M83.4 246.7v2M37.6 246.7h-2M37.6 212.3h-2M37.6 177.8h-2" stroke="#444" stroke-width=".9"/>
<path d="M129.9 174.1v72.6M173.5 174.1v72.6M122.6 246.7h70.6M122.6 212.3h70.6M122.6 177.8h70.6" stroke="#d6d6d6" stroke-width=".8" stroke-dasharray="1.3 .9" fill="none"/>
<clipPath id="c21"><rect x="122.6" y="174.1" width="70.6" height="72.6"/></clipPath>
<g clip-path="url(#c21)"><g transform="translate(122.6 174.1)">
<use href=#b x=48.4 y=13.5 /><use href=#b x=55.4 y=23.3 /><use href=#b x=29.3 y=36.5 /><use href=#b x=61.5 y=5.1 /><use href=#b x=30.9 y=43.7 /><use href=#c x=41.4 y=17.9 /><use href=#b x=50.5 y=24.3 /><use href=#b x=49.9 y=30.6 /><use href=#b x=65.4 y=22.1 /><use href=#b x=50.5 y=28.1 /><use href=#b x=60.6 y=16.4 /><use href=#c x=34.7 y=35.1 /><use href=#b x=47.7 y=18.8 /><use href=#c x=45.4 y=33 /><use href=#a x=20.8 y=50.3 /><use href=#b x=39.2 y=31.6 /><use href=#b x=54.6 y=49.1 /><use href=#c x=65.9 y=16 /><use href=#b x=60 y=28.4 /><use href=#c x=45.2 y=14.8 /><use href=#b x=35.9 y=11.5 /><use href=#b x=19.5 y=31.8 /><use href=#c x=40.1 y=5.6 /><use href=#b x=30.7 y=32.3 /><use href=#c x=34.3 y=49.9 /><use href=#c x=47.4 y=18.5 /><use href=#a x=38.7 y=54.8 /><use href=#b x=65.7 y=6.8 /><use href=#a x=21 y=46.5 /><use href=#c x=32.6 y=10.9 /><use href=#a x=56.5 y=69.3 /><use href=#b x=61.3 y=21 /><use href=#b x=22.5 y=51 /><use href=#c x=33.8 y=7.6 /><use href=#c x=62.2 y=45.9 /><use href=#c x=33 y=11.4 /><use href=#b x=18.9 y=52 /><use href=#a x=52.1 y=49.7 /><use href=#b x=59.3 y=44.2 /><use href=#a x=13.6 y=65 /><use href=#c x=44.9 y=38.2 /><use href=#b x=55.9 y=32.3 /><use href=#a x=51.6 y=47.1 /><use href=#b x=30.3 y=34.9 /><use href=#a x=65.3 y=48.6 /><use href=#c x=59.9 y=13.4 /><use href=#c x=56 y=36.7 /><use href=#b x=32.9 y=38.9 /><use href=#c x=64.4 y=31.3 /><use href=#c x=35 y=6.6 /><use href=#b x=41.7 y=8.3 /><use href=#b x=55.6 y=12.7 /><use href=#b x=22.1 y=59 /><use href=#c x=48.9 y=27.8 /><use href=#c x=59 y=16.8 /><use href=#c x=61.2 y=26.3 /><use href=#b x=56.6 y=41.1 /><use href=#b x=51.9 y=10.2 /><use href=#a x=21 y=37 /><use href=#b x=48.3 y=7 /><use href=#b x=19.8 y=18.4 /><use href=#b x=56 y=17.8 /><use href=#b x=33.6 y=47.9 /><use href=#b x=21.2 y=55.4 /><use href=#b x=57.6 y=11.9 /><use href=#c x=48.4 y=13.5 /><use href=#a x=20.9 y=26.2 /><use href=#b x=20.7 y=59.7 /><use href=#b x=61.1 y=18.2 /><use href=#b x=29.7 y=61.5 /><use href=#b x=38.6 y=33.4 /><use href=#b x=56.4 y=23.2 /><use href=#c x=49 y=45.5 /><use href=#a x=9.9 y=12.5 /><use href=#a x=55.9 y=62.2 /><use href=#c x=35.2 y=15.1 /><use href=#a x=21 y=19.8 /><use href=#a x=13.2 y=51.8 /><use href=#b x=58.5 y=11.8 /><use href=#b x=56.4 y=18.9 /><use href=#b x=51.4 y=28.8 /><use href=#b x=60.1 y=14.9 /><use href=#b x=65.1 y=37.6 /><use href=#b x=15.7 y=30.6 /><use href=#b x=15.2 y=42.8 /><use href=#c x=40.3 y=11.8 /><use href=#b x=20.3 y=32.5 /><use href=#b x=42.4 y=25.7 /><use href=#b x=24 y=10.3 /><use href=#b x=33.6 y=39.7 /><use href=#a x=13.6 y=43.1 /><use href=#b x=27.8 y=41.3 /><use href=#c x=47 y=38.1 /><use href=#b x=59.2 y=20.1 /><use href=#b x=21 y=30.6 /><use href=#c x=48.1 y=16.1 /><use href=#c x=46.2 y=15.2 /><use href=#b x=63.5 y=21.2 /><use href=#a x=13.4 y=60.3 /><use href=#a x=20.8 y=37.8 /><use href=#b x=35.3 y=24.3 /><use href=#b x=20.8 y=56.8 /><use href=#b x=32.5 y=6.5 /><use href=#b x=42.7 y=11.4 /><use href=#b x=41.2 y=12.9 /><use href=#b x=32.9 y=17.9 /><use href=#b x=48.5 y=38 /><use href=#b x=41.4 y=4.7 /><use href=#b x=54.5 y=18.4 /><use href=#c x=50.6 y=19.3 /><use href=#b x=48.4 y=23.7 /><use href=#b x=22.7 y=35 /><use href=#b x=36.6 y=5.2 /><use href=#a x=9.8 y=10.5 /><use href=#b x=61.9 y=44.4 /><use href=#b x=30.1 y=45.9 /><use href=#b x=59.2 y=28.3 /><use href=#c x=32.8 y=29.3 /><use href=#b x=42.5 y=25.5 /><use href=#b x=55.4 y=32.9 /><use href=#b x=14.2 y=52 /><use href=#b x=37.1 y=24.6 /><use href=#b x=35.9 y=38.2 /><use href=#b x=20.8 y=55.2 /><use href=#c x=34.6 y=45.7 /><use href=#b x=32.1 y=50.3 /><use href=#b x=32 y=39.1 /><use href=#c x=63.5 y=17.3 /><use href=#b x=19.2 y=20.7 /><use href=#a x=50.5 y=54.6 /><use href=#c x=33.8 y=16 /><use href=#b x=56.4 y=29.6 /><use href=#b x=60 y=10.9 /><use href=#c x=45.8 y=35.1 /><use href=#b x=43.2 y=26.7 /><use href=#c x=34 y=4.5 /><use href=#c x=27.8 y=41.9 /><use href=#b x=57.5 y=37.6 /><use href=#a x=35.8 y=63.6 /><use href=#c x=47.4 y=22.5 /><use href=#b x=24.8 y=54.8 /><use href=#b x=38.1 y=21.5 /><use href=#b x=41.8 y=21.7 /><use href=#b x=39.1 y=17.8 /><use href=#c x=64.8 y=22.1 /><use href=#c x=62.1 y=36.7 /><use href=#a x=21 y=63.9 /><use href=#b x=48.6 y=4.2 /><use href=#b x=46.7 y=29.3 /><use href=#b x=25.8 y=45.2 /><use href=#a x=55 y=49.4 /><use href=#c x=33 y=21.9 /><use href=#a x=20.7 y=25.2 /><use href=#b x=35.3 y=58.1 /><use href=#b x=54 y=24.1 /><use href=#c x=60.2 y=36.9 /><use href=#b x=52 y=42.9 /><use href=#c x=67.2 y=11.6 /><use href=#a x=48.1 y=50.9 /><use href=#c x=47.9 y=11 /><use href=#b x=19.1 y=30.5 /><use href=#b x=26.2 y=38.3 /><use href=#b x=35.2 y=32.9 /><use href=#c x=41.8 y=6.9 /><use href=#b x=57.1 y=3.3 /><use href=#b x=35.9 y=58.2 /><use href=#b x=56.1 y=31.4 /><use href=#c x=37.9 y=12.5 /><use href=#b x=58.8 y=15.3 /><use href=#b x=33.3 y=37.6 /><use href=#a x=53 y=68.9 /><use href=#b x=35.2 y=30.5 /><use href=#c x=65.7 y=9.6 /><use href=#b x=20.3 y=41.7 /><use href=#b x=54 y=23.1 /><use href=#b x=34 y=32.2 /><use href=#a x=20.8 y=6.7 /><use href=#b x=50.4 y=35.6 /><use href=#b x=36.5 y=6 /><use href=#a x=9.9 y=10.7 /><use href=#b x=31.3 y=39.3 /><use href=#b x=55.4 y=29.2 /><use href=#c x=57.8 y=38.4 /><use href=#b x=58.4 y=21.9 /><use href=#b x=34.7 y=26.9 /><use href=#b x=60.5 y=35.5 /><use href=#b x=62.2 y=40.2 /><use href=#b x=46.4 y=29.9 /><use href=#b x=20.9 y=69.3 /><use href=#b x=65.3 y=21.5 /><use href=#b x=48.3 y=34.4 /><use href=#b x=66.4 y=17.3 /><use href=#c x=36.2 y=47.6 /><use href=#b x=19.5 y=32.6 /><use href=#c x=50.5 y=31.2 /><use href=#a x=21 y=29.7 /><use href=#b x=33 y=32 /><use href=#b x=34.1 y=43.3 /><use href=#c x=59.8 y=35.1 /><use href=#b x=29.9 y=55.2 /><use href=#a x=10.1 y=20.5 /><use href=#c x=31.8 y=36.5 /><use href=#b x=64.8 y=5.7 /><use href=#b x=42.9 y=36.6 /><use href=#b x=32.9 y=14.5 /><use href=#b x=25.1 y=3.3 /><use href=#b x=60.6 y=19.1 /><use href=#b x=29.8 y=41.4 /><use href=#b x=30.3 y=40.3 /><use href=#b x=32 y=29.7 /><use href=#b x=36.2 y=61 /><use href=#b x=33.2 y=45 /><use href=#b x=44.2 y=6.3 /><use href=#b x=32.1 y=42 /><use href=#b x=37 y=35.7 /><use href=#b x=19.3 y=37.8 /><use href=#c x=60.1 y=46.9 /><use href=#a x=55.3 y=54.7 /><use href=#c x=63.3 y=33.1 /><use href=#b x=52.9 y=27.8 /><use href=#c x=65.7 y=19.6 /><use href=#c x=59.5 y=18.6 /><use href=#b x=57.6 y=24.8 /><use href=#b x=47.3 y=11.1 /><use href=#c x=48.3 y=9.1 /><use href=#a x=29 y=36.3 /><use href=#b x=57.2 y=24.4 /><use href=#a x=13.5 y=50.3 /><use href=#b x=57 y=34.7 /><use href=#b x=22.7 y=44.3 /><use href=#a x=9.8 y=63.8 /><use href=#b x=40.1 y=9.4 /><use href=#b x=30.1 y=18.5 /><use href=#c x=60.1 y=34.8 /><use href=#c x=61.6 y=12.7 /><use href=#b x=27.1 y=29.4 /><use href=#a x=41.2 y=55.6 /><use href=#b x=61 y=15.3 /><use href=#b x=43.8 y=19.9 /><use href=#b x=34.3 y=19 /><use href=#b x=31 y=10.4 /><use href=#c x=56 y=46.1 /><use href=#b x=51.7 y=34.7 /><use href=#b x=20.8 y=45.3 /><use href=#c x=26.9 y=42.9 /><use href=#b x=56.9 y=22.5 /><use href=#c x=45.3 y=4.3 /><use href=#b x=20.2 y=41.7 /><use href=#b x=34.8 y=40.3 /><use href=#b x=59.3 y=29 /><use href=#c x=29.1 y=39.5 /><use href=#b x=59.1 y=36.4 /><use href=#a x=36.8 y=64.6 /><use href=#b x=53 y=19 /><use href=#c x=32.8 y=15.6 /><use href=#a x=54.9 y=54.1 /><use href=#a x=9.9 y=26.2 /><use href=#a x=9.9 y=66.5 /><use href=#b x=29.1 y=48.9 /><use href=#c x=53.6 y=34.4 /><use href=#c x=36.4 y=32 /><use href=#c x=64.7 y=25.6 /><use href=#b x=28.8 y=44.7 /><use href=#b x=55.4 y=15.7 /><use href=#b x=62.2 y=19.2 /><use href=#c x=57.8 y=19.8 /><use href=#b x=30.1 y=33.5 /><use href=#b x=30 y=29.8 /><use href=#b x=23.6 y=39.6 /><use href=#c x=34.9 y=15.3 /><use href=#a x=20.8 y=37.3 /><use href=#c x=65.1 y=27.4 /><use href=#b x=13.8 y=30.9 /><use href=#b x=44.8 y=27.1 /><use href=#b x=34.8 y=60.7 /><use href=#a x=38.8 y=47.2 /><use href=#b x=16.6 y=59.6 /><use href=#c x=57.4 y=37.6 /><use href=#b x=34.8 y=16.1 /><use href=#b x=66.5 y=7.4 /><use href=#c x=63.8 y=18.2 /><use href=#b x=67.6 y=3.5 /><use href=#b x=18.3 y=47.4 /><use href=#b x=25.4 y=30.2 /><use href=#b x=29.8 y=53.5 /><use href=#b x=62.3 y=34 /><use href=#c x=35.6 y=35.1 /><use href=#a x=13.5 y=36.8 /><use href=#b x=3.3 y=19.7 /><use href=#b x=55.9 y=40.3 /><use href=#b x=17.7 y=43.4 /><use href=#b x=41.1 y=14 /><use href=#b x=32.4 y=32.8 /><use href=#a x=45.2 y=67 /><use href=#b x=33.7 y=30.7 /><use href=#c x=47.1 y=6.5 /><use href=#b x=57.9 y=30.3 /><use href=#c x=36 y=14.6 /><use href=#b x=50.6 y=15 /><use href=#c x=67.3 y=26.4 /><use href=#b x=64.7 y=17.6 /><use href=#b x=33.3 y=34.8 /><use href=#b x=31 y=29.6 /><use href=#b x=45 y=19.2 /><use href=#b x=23 y=54.8 /><use href=#c x=58.9 y=8.6 /><use href=#a x=57.9 y=48.3 /><use href=#c x=45 y=19.4 /><use href=#c x=66.2 y=12.2 /><use href=#b x=33 y=39.2 /><use href=#b x=35 y=23 /><use href=#b x=59.6 y=8.8 /><use href=#b x=30.7 y=22.1 /><use href=#b x=42.1 y=41.7 /><use href=#b x=33.7 y=41.9 /><use href=#b x=14.8 y=29.6 /><use href=#b x=65.1 y=21.4 /><use href=#a x=13 y=32.6 /><use href=#b x=28 y=51.5 /><use href=#b x=34 y=49.2 /><use href=#b x=19.9 y=47.6 /><use href=#b x=45.4 y=30.2 /><use href=#b x=33.6 y=40.2 /><use href=#b x=55.6 y=17.5 /><use href=#b x=32 y=26.9 /><use href=#c x=66.2 y=7.6 /><use href=#a x=13.6 y=46.8 /><use href=#a x=13.4 y=13.2 /><use href=#b x=36.5 y=12.5 /><use href=#b x=33.4 y=34.4 /><use href=#b x=61.9 y=23.3 /><use href=#b x=62.3 y=18.5 /><use href=#b x=61.7 y=14.8 /><use href=#b x=59.3 y=15.1 /><use href=#b x=33.1 y=47 /><use href=#c x=37.8 y=26.9 /><use href=#c x=34.2 y=27 /><use href=#a x=10.1 y=51.4 /><use href=#b x=30.4 y=46.6 /><use href=#b x=19.6 y=60.4 /><use href=#b x=47.6 y=25.9 /><use href=#a x=20.7 y=30.3 /><use href=#c x=53.4 y=4.8 /><use href=#b x=52.9 y=42.9 /><use href=#c x=62.9 y=7.2 /><use href=#b x=30.1 y=42.4 /><use href=#b x=35.6 y=36.2 /><use href=#c x=54.2 y=6.2 /><use href=#b x=61.3 y=3.3 /><use href=#b x=31.8 y=19.2 /><use href=#b x=29.7 y=40.3 /><use href=#b x=30.8 y=7 /><use href=#b x=40 y=24.1 /><use href=#a x=24.1 y=30.1 /><use href=#a x=51.2 y=47.7 /><use href=#b x=19.7 y=46.3 /><use href=#c x=59.4 y=16.6 /><use href=#b x=62.2 y=27.8 /><use href=#b x=34.1 y=27.2 /><use href=#c x=35.1 y=27.9 /><use href=#b x=25.2 y=34.3 /><use href=#b x=31 y=47.7 /><use href=#b x=23.1 y=41.2 /><use href=#b x=56.2 y=17.1 /><use href=#b x=19.2 y=47 /><use href=#c x=62.8 y=34.9 /><use href=#b x=40.2 y=24.7 /><use href=#b x=37.1 y=40.4 /><use href=#b x=35.8 y=60.9 /><use href=#b x=58.8 y=26 /><use href=#b x=57.6 y=30.1 /><use href=#b x=22.6 y=39 /><use href=#b x=55.7 y=32.9 /><use href=#b x=25.3 y=37.3 /><use href=#b x=31.9 y=56 /><use href=#a x=21 y=69.3 /><use href=#c x=35.7 y=18.4 /><use href=#b x=33.9 y=43.8 /><use href=#b x=60.6 y=25.9 /><use href=#b x=20.9 y=41.2 /><use href=#b x=53.2 y=28.9 /><use href=#b x=20.2 y=19.9 /><use href=#b x=24.4 y=22.1 /><use href=#c x=50.6 y=11.6 /><use href=#b x=58 y=24 /><use href=#b x=56.4 y=14.5 /><use href=#c x=66.1 y=9.3 /><use href=#b x=43.1 y=21.2 /><use href=#c x=44.7 y=30.1 /><use href=#a x=9.9 y=54.7 /><use href=#b x=58.4 y=32.2 /><use href=#a x=24 y=40.2 /><use href=#b x=22.8 y=46.9 /><use href=#c x=46.6 y=6.4 /><use href=#b x=35.7 y=55.1 /><use href=#c x=38.9 y=28.6 /><use href=#c x=44.5 y=6.3 /><use href=#b x=55.7 y=24.5 /><use href=#b x=40 y=9.9 /><use href=#a x=20.8 y=39.8 /><use href=#b x=43.1 y=3.8 /><use href=#b x=65.9 y=22.9 /><use href=#c x=54.3 y=3.8 /><use href=#b x=20.9 y=55.1 /><use href=#a x=10 y=60.9 /><use href=#c x=65.7 y=16.6 /><use href=#b x=18.5 y=44.2 /><use href=#c x=45.5 y=18.5 /><use href=#c x=41 y=20.6 /><use href=#b x=17.8 y=57.8 /><use href=#b x=34 y=37.9 /><use href=#c x=47.1 y=32.9 /><use href=#b x=19.3 y=31 /><use href=#b x=23.9 y=53 /><use href=#b x=20.1 y=20.5 /><use href=#b x=35.2 y=45.3 /><use href=#b x=54.3 y=17 /><use href=#b x=34 y=44.5 /><use href=#a x=65.7 y=61.6 /><use href=#b x=58.9 y=22.9 /><use href=#a x=45.1 y=48.4 /><use href=#c x=34.6 y=12.8 /><use href=#b x=20.3 y=11.3 /><use href=#c x=35.5 y=39.2 /><use href=#a x=9.9 y=62.5 /><use href=#b x=48.5 y=16.3 /><use href=#b x=54.9 y=39.1 /><use href=#a x=20.6 y=16.3 /><use href=#b x=48.9 y=34.9 /><use href=#a x=20.8 y=49 /><use href=#b x=53.6 y=30 /><use href=#c x=66.2 y=47.4 /><use href=#a x=9.9 y=68.3 /><use href=#b x=59.2 y=18.8 /><use href=#b x=18.7 y=36.5 /><use href=#a x=59.3 y=47.9 /><use href=#b x=54.3 y=16.7 /><use href=#c x=54.5 y=42.6 /><use href=#b x=47.5 y=17.3 /><use href=#b x=16.4 y=56.5 /><use href=#b x=20.6 y=63.4 /><use href=#c x=65.7 y=21.3 /><use href=#c x=40.8 y=11 /><use href=#b x=34.9 y=36.1 /><use href=#b x=61.7 y=13.9 />
</g></g>
<rect x="122.6" y="174.1" width="70.6" height="72.6" fill="none" stroke="#808080" stroke-width="1.3"/>
<text class="t" x="129.9" y="257.2" text-anchor="middle">5</text>
<text class="t" x="173.5" y="257.2" text-anchor="middle">10</text>
<text class="t" x="118.6" y="249.5" text-anchor="end">1</text>
<text class="t" x="118.6" y="215.1" text-anchor="end">2</text>
<text class="t" x="118.6" y="180.6" text-anchor="end">3</text>
<path d="M129.9 246.7v2M173.5 246.7v2M122.6 246.7h-2M122.6 212.3h-2M122.6 177.8h-2" stroke="#444" stroke-width=".9"/>
<path d="M207.6 174.1v72.6M241.1 174.1v72.6M274.6 174.1v72.6M207.6 246.7h70.6M207.6 215.7h70.6M207.6 184.7h70.6" stroke="#d6d6d6" stroke-width=".8" stroke-dasharray="1.3 .9" fill="none"/>
<path d="M210.8 246.7h6.4v-4.3h-6.4zM217.2 246.7h6.4v-10.4h-6.4zM223.6 246.7h6.4v-14.2h-6.4zM230 246.7h6.4v-25.3h-6.4zM236.5 246.7h6.4v-34.9h-6.4zM242.9 246.7h6.4v-57.5h-6.4zM249.3 246.7h6.4v-69.1h-6.4zM255.7 246.7h6.4v-59.9h-6.4zM262.1 246.7h6.4v-40h-6.4zM268.5 246.7h6.4v-23h-6.4z" fill="#f86a8e" stroke="#2b2433" stroke-width="1"/>
<rect x="207.6" y="174.1" width="70.6" height="72.6" fill="none" stroke="#808080" stroke-width="1.3"/>
<text class="t" x="207.6" y="257.2" text-anchor="middle">1</text>
<text class="t" x="241.1" y="257.2" text-anchor="middle">2</text>
<text class="t" x="274.6" y="257.2" text-anchor="middle">3</text>
<text class="t" x="203.6" y="249.5" text-anchor="end">0</text>
<text class="t" x="203.6" y="218.5" text-anchor="end">50</text>
<text class="t" x="203.6" y="187.5" text-anchor="end">100</text>
<path d="M207.6 246.7v2M241.1 246.7v2M274.6 246.7v2M207.6 246.7h-2M207.6 215.7h-2M207.6 184.7h-2" stroke="#444" stroke-width=".9"/>
<ellipse cx="327.8" cy="210.4" rx="28.2" ry="29" fill="#904e83" stroke="#2a1e2a" stroke-width="1.2"/>
<text class="c" x="326.9" y="208.2" text-anchor="middle">Corr:</text>
<text class="c" x="327.8" y="217" text-anchor="middle">0.25</text>
<ellipse cx="412.8" cy="210.4" rx="28.2" ry="29" fill="#713d74" stroke="#2a1e2a" stroke-width="1.2"/>
<text class="c" x="411.9" y="208.2" text-anchor="middle">Corr:</text>
<text class="c" x="412.8" y="217" text-anchor="middle">0.49</text>
<ellipse cx="497.7" cy="210.4" rx="28.2" ry="29" fill="#bb7095" stroke="#2a1e2a" stroke-width="1.2"/>
<text class="c" x="496.8" y="208.2" text-anchor="middle">Corr:</text>
<text class="c" x="497.7" y="217" text-anchor="middle">−0.14</text>
<path d="M54.8 258.1v72.6M83.4 258.1v72.6M37.6 305.3h70.6M37.6 269.2h70.6" stroke="#d6d6d6" stroke-width=".8" stroke-dasharray="1.3 .9" fill="none"/>
<clipPath id="c30"><rect x="37.6" y="258.1" width="70.6" height="72.6"/></clipPath>
<g clip-path="url(#c30)"><g transform="translate(37.6 258.1)">
<use href=#b x=39.3 y=33.8 /><use href=#b x=28.2 y=65.3 /><use href=#b x=26.6 y=68.9 /><use href=#b x=57.1 y=59.9 /><use href=#b x=29.7 y=11.2 /><use href=#c x=22.4 y=61.7 /><use href=#b x=25.2 y=58.1 /><use href=#b x=40.3 y=31.6 /><use href=#b x=40.2 y=31.7 /><use href=#b x=23.3 y=52.7 /><use href=#b x=47.4 y=14.4 /><use href=#c x=11.8 y=45.4 /><use href=#b x=38.3 y=36.3 /><use href=#c x=38.4 y=36 /><use href=#a x=28.7 y=65.3 /><use href=#b x=26.4 y=49 /><use href=#b x=23.4 y=31.7 /><use href=#c x=46.3 y=17.1 /><use href=#b x=29.2 y=27.4 /><use href=#c x=58.7 y=50.9 /><use href=#b x=27.8 y=67.1 /><use href=#b x=29.2 y=59.9 /><use href=#c x=31.7 y=27.4 /><use href=#b x=32.5 y=23.1 /><use href=#c x=8.9 y=45.4 /><use href=#c x=62.7 y=56.3 /><use href=#a x=32.2 y=50.9 /><use href=#b x=61.6 y=58.1 /><use href=#a x=24.8 y=58.1 /><use href=#c x=27.3 y=40 /><use href=#a x=27.9 y=54.5 /><use href=#b x=31.8 y=63.5 /><use href=#b x=24.8 y=58.1 /><use href=#c x=21.6 y=11.2 /><use href=#c x=47.3 y=14.7 /><use href=#c x=21.1 y=59.9 /><use href=#b x=25.9 y=61.7 /><use href=#a x=32.8 y=45.4 /><use href=#b x=30 y=32.4 /><use href=#a x=29.6 y=56.3 /><use href=#c x=45.4 y=19.1 /><use href=#b x=27.4 y=67.1 /><use href=#a x=32.4 y=61.7 /><use href=#b x=32.5 y=36.3 /><use href=#a x=31.9 y=61.7 /><use href=#c x=41.4 y=28.9 /><use href=#c x=43.4 y=23.9 /><use href=#b x=26.8 y=49 /><use href=#c x=27.2 y=36.1 /><use href=#c x=30.5 y=27.4 /><use href=#b x=56.3 y=27.4 /><use href=#b x=26.7 y=38.2 /><use href=#b x=32.8 y=59.9 /><use href=#c x=45.4 y=19.2 /><use href=#c x=49.2 y=10.1 /><use href=#c x=49.2 y=10 /><use href=#b x=31.4 y=31.7 /><use href=#b x=60.5 y=23.1 /><use href=#a x=21.5 y=54.5 /><use href=#b x=67.3 y=67.1 /><use href=#b x=31.1 y=45.4 /><use href=#b x=43.4 y=24.1 /><use href=#b x=27 y=40 /><use href=#b x=22.8 y=43.6 /><use href=#b x=28.7 y=11.2 /><use href=#c x=61.7 y=56.3 /><use href=#a x=26.1 y=67.1 /><use href=#b x=10.2 y=67.1 /><use href=#b x=42.4 y=26.4 /><use href=#b x=22.6 y=38.2 /><use href=#b x=28.2 y=63.5 /><use href=#b x=29.2 y=40 /><use href=#c x=44.2 y=22.1 /><use href=#a x=27 y=61.7 /><use href=#a x=30.6 y=38.2 /><use href=#c x=30.1 y=23.1 /><use href=#a x=26.4 y=65.3 /><use href=#a x=28.3 y=59.9 /><use href=#b x=48.2 y=12.4 /><use href=#b x=25 y=34.4 /><use href=#b x=30.3 y=36.4 /><use href=#b x=23.7 y=35.8 /><use href=#b x=40.4 y=31.1 /><use href=#b x=9.4 y=43.6 /><use href=#b x=9.8 y=65.3 /><use href=#c x=33.5 y=35.2 /><use href=#b x=27 y=63.5 /><use href=#b x=26.1 y=67.1 /><use href=#b x=30.4 y=27.4 /><use href=#b x=27.4 y=61.7 /><use href=#a x=31.4 y=58.1 /><use href=#b x=30 y=58.1 /><use href=#c x=39.3 y=33.8 /><use href=#b x=34.1 y=49 /><use href=#b x=26 y=23.1 /><use href=#c x=42.2 y=26.9 /><use href=#c x=46.3 y=17 /><use href=#b x=35 y=58.1 /><use href=#a x=34.2 y=59.9 /><use href=#a x=26.4 y=65.3 /><use href=#b x=24.7 y=61.7 /><use href=#b x=12.2 y=65.3 /><use href=#b x=29.9 y=40 /><use href=#b x=26.4 y=43.6 /><use href=#b x=61.4 y=11.2 /><use href=#b x=25.5 y=11.2 /><use href=#b x=27.9 y=45.4 /><use href=#b x=58.2 y=27.4 /><use href=#b x=22 y=27.4 /><use href=#c x=33.5 y=36.1 /><use href=#b x=53.3 y=67.1 /><use href=#b x=12 y=27.4 /><use href=#b x=63.4 y=63.5 /><use href=#a x=20.6 y=65.3 /><use href=#b x=27.7 y=23.1 /><use href=#b x=30.6 y=34.8 /><use href=#b x=30.4 y=67.1 /><use href=#c x=25.3 y=36.1 /><use href=#b x=27.5 y=27.4 /><use href=#b x=27.3 y=54.5 /><use href=#b x=8.9 y=47.2 /><use href=#b x=29 y=41.8 /><use href=#b x=25.5 y=65.3 /><use href=#b x=26.6 y=56.3 /><use href=#c x=9.8 y=41.8 /><use href=#b x=29.3 y=61.7 /><use href=#b x=13.3 y=23.1 /><use href=#c x=31.3 y=65.3 /><use href=#b x=30.7 y=49 /><use href=#a x=36.9 y=45.4 /><use href=#c x=30.8 y=49 /><use href=#b x=27.6 y=41.8 /><use href=#b x=31.6 y=49 /><use href=#c x=46.4 y=16.7 /><use href=#b x=28.7 y=54.5 /><use href=#c x=22.4 y=27.4 /><use href=#c x=12.7 y=38.2 /><use href=#b x=28.6 y=54.5 /><use href=#a x=27.1 y=56.3 /><use href=#c x=49.4 y=9.6 /><use href=#b x=25.4 y=68.9 /><use href=#b x=26.6 y=67.1 /><use href=#b x=28.7 y=68.9 /><use href=#b x=28.6 y=58.1 /><use href=#c x=40.2 y=31.7 /><use href=#c x=23.4 y=3.3 /><use href=#a x=26.6 y=59.9 /><use href=#b x=55.7 y=23.1 /><use href=#b x=41.3 y=29.1 /><use href=#b x=30.3 y=27.4 /><use href=#a x=31.1 y=41.8 /><use href=#c x=28.1 y=27.4 /><use href=#a x=18.1 y=65.3 /><use href=#b x=12.3 y=43.6 /><use href=#b x=28.4 y=36.1 /><use href=#c x=49.3 y=9.8 /><use href=#b x=45.3 y=19.3 /><use href=#c x=31.4 y=41.8 /><use href=#a x=27.3 y=41.8 /><use href=#c x=46.3 y=17.1 /><use href=#b x=14.7 y=56.3 /><use href=#b x=12 y=54.5 /><use href=#b x=27.2 y=58.1 /><use href=#c x=57.7 y=38.2 /><use href=#b x=25.9 y=63.5 /><use href=#b x=13.3 y=35.2 /><use href=#b x=44.2 y=22 /><use href=#c x=24.2 y=54.5 /><use href=#b x=40.2 y=31.7 /><use href=#b x=32.4 y=58.1 /><use href=#a x=28.1 y=47.2 /><use href=#b x=26.5 y=49 /><use href=#c x=27.6 y=65.3 /><use href=#b x=29.4 y=58.1 /><use href=#b x=22.9 y=56.3 /><use href=#b x=27.6 y=23.1 /><use href=#a x=29 y=58.1 /><use href=#b x=28.8 y=49 /><use href=#b x=60.6 y=23.1 /><use href=#a x=20.8 y=63.5 /><use href=#b x=26.2 y=31.7 /><use href=#b x=33.4 y=38.2 /><use href=#c x=37.4 y=38.2 /><use href=#b x=27.4 y=61.7 /><use href=#b x=25.1 y=59.9 /><use href=#b x=25.2 y=52.7 /><use href=#b x=30.5 y=54.5 /><use href=#b x=25.4 y=52.7 /><use href=#b x=27.1 y=68.9 /><use href=#b x=29.6 y=52.7 /><use href=#b x=47.2 y=14.9 /><use href=#b x=30.4 y=23.1 /><use href=#c x=7.3 y=58.1 /><use href=#b x=29 y=67.1 /><use href=#c x=49.4 y=9.6 /><use href=#a x=31.4 y=50.9 /><use href=#b x=30.2 y=36.4 /><use href=#b x=25.9 y=68.9 /><use href=#c x=31.8 y=41.8 /><use href=#b x=27.6 y=58.1 /><use href=#a x=19.7 y=61.7 /><use href=#c x=26.9 y=23.1 /><use href=#b x=64.3 y=61.7 /><use href=#b x=23.3 y=47.2 /><use href=#b x=30.9 y=63.5 /><use href=#b x=32.5 y=67.1 /><use href=#b x=32.1 y=54.5 /><use href=#b x=26.3 y=68.9 /><use href=#b x=28.5 y=36.1 /><use href=#b x=4.6 y=47.2 /><use href=#b x=9.9 y=50.9 /><use href=#b x=27.4 y=50.9 /><use href=#b x=47.2 y=14.8 /><use href=#b x=26.8 y=63.5 /><use href=#b x=27 y=36.1 /><use href=#b x=28 y=54.5 /><use href=#c x=49.4 y=9.6 /><use href=#a x=30.5 y=61.7 /><use href=#c x=44.3 y=21.9 /><use href=#b x=27.5 y=52.7 /><use href=#c x=43.2 y=24.3 /><use href=#c x=39.4 y=33.5 /><use href=#b x=23.6 y=17.7 /><use href=#b x=67.1 y=63.5 /><use href=#c x=22.8 y=50.9 /><use href=#a x=11.2 y=67.1 /><use href=#b x=26.3 y=31.7 /><use href=#a x=27.3 y=65.3 /><use href=#b x=34 y=54.5 /><use href=#b x=29.8 y=23.1 /><use href=#a x=30.2 y=58.1 /><use href=#b x=67.5 y=49 /><use href=#b x=21.6 y=45.4 /><use href=#c x=44.2 y=22.1 /><use href=#c x=37.4 y=38.2 /><use href=#b x=32 y=38.2 /><use href=#a x=30.7 y=61.7 /><use href=#b x=25.3 y=43.6 /><use href=#b x=59.7 y=17.7 /><use href=#b x=28 y=61.7 /><use href=#b x=28.7 y=49 /><use href=#c x=38.2 y=36.4 /><use href=#b x=32.9 y=65.3 /><use href=#b x=28.2 y=50.9 /><use href=#c x=12.8 y=59.9 /><use href=#b x=28.7 y=65.3 /><use href=#c x=26.5 y=27.4 /><use href=#b x=27.7 y=63.5 /><use href=#b x=21.8 y=38.2 /><use href=#b x=29.3 y=56.3 /><use href=#c x=7.7 y=43.6 /><use href=#b x=25.2 y=36.1 /><use href=#a x=28.2 y=38.2 /><use href=#b x=61.4 y=58.1 /><use href=#c x=31.3 y=11.2 /><use href=#a x=29.8 y=58.1 /><use href=#a x=26.4 y=58.1 /><use href=#a x=28.6 y=56.3 /><use href=#b x=11.4 y=59.9 /><use href=#c x=26 y=27.4 /><use href=#c x=30.9 y=35.7 /><use href=#c x=25.2 y=63.5 /><use href=#b x=9.4 y=45.4 /><use href=#b x=22.8 y=67.1 /><use href=#b x=31.2 y=59.9 /><use href=#c x=29.1 y=61.7 /><use href=#b x=24.9 y=56.3 /><use href=#b x=31.2 y=36.1 /><use href=#b x=8.4 y=31.7 /><use href=#c x=27.6 y=67.1 /><use href=#a x=21.4 y=59.9 /><use href=#c x=47.2 y=14.7 /><use href=#b x=12.1 y=59.9 /><use href=#b x=42.3 y=26.6 /><use href=#b x=26.2 y=68.9 /><use href=#a x=31.5 y=41.8 /><use href=#b x=4.6 y=31.7 /><use href=#c x=22.5 y=31.7 /><use href=#b x=25.6 y=50.9 /><use href=#b x=31.4 y=36.2 /><use href=#c x=25.2 y=41.8 /><use href=#b x=25.3 y=63.5 /><use href=#b x=14 y=49 /><use href=#b x=31.9 y=36.4 /><use href=#b x=5.2 y=63.5 /><use href=#b x=24.2 y=45.4 /><use href=#c x=27.9 y=27.4 /><use href=#a x=22.3 y=67.1 /><use href=#b x=29.2 y=59.9 /><use href=#b x=29.3 y=36.1 /><use href=#b x=4.4 y=47.2 /><use href=#b x=67 y=52.7 /><use href=#b x=26.4 y=67.1 /><use href=#a x=29 y=47.2 /><use href=#b x=29.4 y=56.3 /><use href=#c x=23.9 y=49 /><use href=#b x=32.8 y=31.7 /><use href=#c x=27.1 y=35.8 /><use href=#b x=27.5 y=63.5 /><use href=#c x=25.6 y=27.4 /><use href=#b x=64.5 y=11.2 /><use href=#b x=26.9 y=35.7 /><use href=#b x=11 y=17.7 /><use href=#b x=30.1 y=11.2 /><use href=#b x=6 y=67.1 /><use href=#c x=49.4 y=9.5 /><use href=#a x=29 y=40 /><use href=#c x=21.6 y=27.4 /><use href=#c x=21.9 y=63.5 /><use href=#b x=6.5 y=36.4 /><use href=#b x=24.8 y=40 /><use href=#b x=26.4 y=49 /><use href=#b x=27.7 y=43.6 /><use href=#b x=27.1 y=47.2 /><use href=#b x=6.8 y=58.1 /><use href=#b x=8.6 y=11.2 /><use href=#b x=24.4 y=56.3 /><use href=#a x=5.7 y=67.1 /><use href=#b x=14.5 y=36.1 /><use href=#b x=31.6 y=43.6 /><use href=#b x=31.5 y=49 /><use href=#b x=29.6 y=61.7 /><use href=#b x=12.7 y=67.1 /><use href=#b x=25.3 y=56.3 /><use href=#b x=25 y=27.4 /><use href=#c x=42.2 y=26.8 /><use href=#a x=23 y=67.1 /><use href=#a x=23 y=65.3 /><use href=#b x=67.2 y=56.3 /><use href=#b x=23.8 y=36.1 /><use href=#b x=29.2 y=61.7 /><use href=#b x=41.4 y=28.7 /><use href=#b x=22.2 y=23.1 /><use href=#b x=67.3 y=56.3 /><use href=#b x=9.9 y=43.6 /><use href=#c x=28.1 y=36.1 /><use href=#c x=33.5 y=36.1 /><use href=#a x=30 y=61.7 /><use href=#b x=22.3 y=45.4 /><use href=#b x=32.6 y=47.2 /><use href=#b x=27.5 y=31.7 /><use href=#a x=20.8 y=68.9 /><use href=#c x=28.6 y=35.8 /><use href=#b x=28.2 y=31.9 /><use href=#c x=24 y=36.4 /><use href=#b x=27.7 y=65.3 /><use href=#b x=28.9 y=68.9 /><use href=#c x=28.9 y=27.4 /><use href=#b x=28 y=65.3 /><use href=#b x=20.3 y=38.2 /><use href=#b x=27.6 y=27.4 /><use href=#b x=32.5 y=40 /><use href=#b x=57.3 y=11.2 /><use href=#a x=5.3 y=65.3 /><use href=#a x=37 y=56.3 /><use href=#b x=29.9 y=11.2 /><use href=#c x=38.4 y=35.9 /><use href=#b x=29 y=59.9 /><use href=#b x=26.4 y=61.7 /><use href=#c x=28.9 y=11.2 /><use href=#b x=30.1 y=52.7 /><use href=#b x=12.4 y=59.9 /><use href=#b x=12.7 y=45.4 /><use href=#b x=64.5 y=49 /><use href=#b x=3.7 y=17.7 /><use href=#c x=27.5 y=41.8 /><use href=#b x=57.1 y=65.3 /><use href=#b x=29.2 y=65.3 /><use href=#b x=9.2 y=52.7 /><use href=#b x=30.3 y=61.7 /><use href=#b x=32.4 y=31.3 /><use href=#b x=14 y=47.2 /><use href=#b x=31.1 y=61.7 /><use href=#b x=27.5 y=27.4 /><use href=#b x=9.4 y=54.5 /><use href=#a x=22 y=54.5 /><use href=#c x=30.3 y=11.2 /><use href=#b x=24.6 y=56.3 /><use href=#b x=25.3 y=56.3 /><use href=#b x=27.8 y=36.4 /><use href=#b x=24.2 y=23.1 /><use href=#b x=28 y=68.9 /><use href=#b x=30.8 y=11.2 /><use href=#c x=42.2 y=26.9 /><use href=#b x=29.9 y=58.1 /><use href=#b x=57.5 y=23.1 /><use href=#c x=21.6 y=27.4 /><use href=#b x=56 y=47.2 /><use href=#c x=25.5 y=54.5 /><use href=#a x=35.3 y=58.1 /><use href=#b x=33.3 y=41.8 /><use href=#a x=9.7 y=65.3 /><use href=#b x=24.9 y=11.2 /><use href=#c x=60.2 y=38.2 /><use href=#b x=5.3 y=67.1 /><use href=#c x=25.5 y=59.9 /><use href=#c x=30.6 y=27.4 /><use href=#b x=47.3 y=14.6 /><use href=#b x=67.5 y=63.5 /><use href=#a x=18.4 y=52.7 /><use href=#b x=67.2 y=61.7 /><use href=#b x=26 y=23.1 /><use href=#c x=27 y=31.7 /><use href=#b x=26.9 y=49 /><use href=#a x=25.7 y=58.1 /><use href=#c x=25.2 y=36.1 /><use href=#b x=11.3 y=67.1 /><use href=#c x=49.4 y=9.5 /><use href=#c x=60.4 y=43.6 /><use href=#b x=13.9 y=35.6 /><use href=#b x=31.8 y=35 /><use href=#c x=26.7 y=27.4 /><use href=#b x=27.7 y=54.5 /><use href=#b x=24.8 y=58.1 /><use href=#b x=33.1 y=36.1 /><use href=#b x=29 y=17.7 /><use href=#b x=27.5 y=67.1 /><use href=#b x=3.3 y=54.5 /><use href=#a x=30.9 y=52.7 /><use href=#b x=27 y=40 /><use href=#a x=31.9 y=41.8 /><use href=#c x=30.9 y=31.7 /><use href=#b x=25.1 y=11.2 /><use href=#c x=12 y=56.3 /><use href=#a x=27.7 y=68.9 /><use href=#b x=59.2 y=23.1 /><use href=#b x=27.5 y=59.9 /><use href=#a x=22.9 y=67.1 /><use href=#b x=28.5 y=56.3 /><use href=#a x=18.7 y=67.1 /><use href=#b x=31.7 y=40 /><use href=#c x=49.3 y=9.9 /><use href=#a x=23.2 y=68.9 /><use href=#b x=30.9 y=31.7 /><use href=#b x=23.1 y=68.9 /><use href=#a x=27.7 y=58.1 /><use href=#b x=45.3 y=19.3 /><use href=#c x=37.2 y=38.2 /><use href=#b x=46.4 y=16.8 /><use href=#b x=9.2 y=27.4 /><use href=#b x=29.4 y=68.9 /><use href=#c x=24.6 y=31.7 /><use href=#c x=31.3 y=31.7 /><use href=#b x=27.4 y=67.1 /><use href=#b x=29.7 y=27.4 />
</g></g>
<rect x="37.6" y="258.1" width="70.6" height="72.6" fill="none" stroke="#808080" stroke-width="1.3"/>
<text class="t" x="54.8" y="341.2" text-anchor="middle">200</text>
<text class="t" x="83.4" y="341.2" text-anchor="middle">400</text>
<text class="t" x="33.6" y="308.1" text-anchor="end">1</text>
<text class="t" x="33.6" y="272" text-anchor="end">2</text>
<path d="M54.8 330.7v2M83.4 330.7v2M37.6 305.3h-2M37.6 269.2h-2" stroke="#444" stroke-width=".9"/>
<path d="M129.9 258.1v72.6M173.5 258.1v72.6M122.6 305.3h70.6M122.6 269.2h70.6" stroke="#d6d6d6" stroke-width=".8" stroke-dasharray="1.3 .9" fill="none"/>
<clipPath id="c31"><rect x="122.6" y="258.1" width="70.6" height="72.6"/></clipPath>
<g clip-path="url(#c31)"><g transform="translate(122.6 258.1)">
<use href=#b x=48.4 y=33.8 /><use href=#b x=55.4 y=65.3 /><use href=#b x=29.3 y=68.9 /><use href=#b x=61.5 y=59.9 /><use href=#b x=30.9 y=11.2 /><use href=#c x=41.4 y=61.7 /><use href=#b x=50.5 y=58.1 /><use href=#b x=49.9 y=31.6 /><use href=#b x=65.4 y=31.7 /><use href=#b x=50.5 y=52.7 /><use href=#b x=60.6 y=14.4 /><use href=#c x=34.7 y=45.4 /><use href=#b x=47.7 y=36.3 /><use href=#c x=45.4 y=36 /><use href=#a x=20.8 y=65.3 /><use href=#b x=39.2 y=49 /><use href=#b x=54.6 y=31.7 /><use href=#c x=65.9 y=17.1 /><use href=#b x=60 y=27.4 /><use href=#c x=45.2 y=50.9 /><use href=#b x=35.9 y=67.1 /><use href=#b x=19.5 y=59.9 /><use href=#c x=40.1 y=27.4 /><use href=#b x=30.7 y=23.1 /><use href=#c x=34.3 y=45.4 /><use href=#c x=47.4 y=56.3 /><use href=#a x=38.7 y=50.9 /><use href=#b x=65.7 y=58.1 /><use href=#a x=21 y=58.1 /><use href=#c x=32.6 y=40 /><use href=#a x=56.5 y=54.5 /><use href=#b x=61.3 y=63.5 /><use href=#b x=22.5 y=58.1 /><use href=#c x=33.8 y=11.2 /><use href=#c x=62.2 y=14.7 /><use href=#c x=33 y=59.9 /><use href=#b x=18.9 y=61.7 /><use href=#a x=52.1 y=45.4 /><use href=#b x=59.3 y=32.4 /><use href=#a x=13.6 y=56.3 /><use href=#c x=44.9 y=19.1 /><use href=#b x=55.9 y=67.1 /><use href=#a x=51.6 y=61.7 /><use href=#b x=30.3 y=36.3 /><use href=#a x=65.3 y=61.7 /><use href=#c x=59.9 y=28.9 /><use href=#c x=56 y=23.9 /><use href=#b x=32.9 y=49 /><use href=#c x=64.4 y=36.1 /><use href=#c x=35 y=27.4 /><use href=#b x=41.7 y=27.4 /><use href=#b x=55.6 y=38.2 /><use href=#b x=22.1 y=59.9 /><use href=#c x=48.9 y=19.2 /><use href=#c x=59 y=10.1 /><use href=#c x=61.2 y=10 /><use href=#b x=56.6 y=31.7 /><use href=#b x=51.9 y=23.1 /><use href=#a x=21 y=54.5 /><use href=#b x=48.3 y=67.1 /><use href=#b x=19.8 y=45.4 /><use href=#b x=56 y=24.1 /><use href=#b x=33.6 y=40 /><use href=#b x=21.2 y=43.6 /><use href=#b x=57.6 y=11.2 /><use href=#c x=48.4 y=56.3 /><use href=#a x=20.9 y=67.1 /><use href=#b x=20.7 y=67.1 /><use href=#b x=61.1 y=26.4 /><use href=#b x=29.7 y=38.2 /><use href=#b x=38.6 y=63.5 /><use href=#b x=56.4 y=40 /><use href=#c x=49 y=22.1 /><use href=#a x=9.9 y=61.7 /><use href=#a x=55.9 y=38.2 /><use href=#c x=35.2 y=23.1 /><use href=#a x=21 y=65.3 /><use href=#a x=13.2 y=59.9 /><use href=#b x=58.5 y=12.4 /><use href=#b x=56.4 y=34.4 /><use href=#b x=51.4 y=36.4 /><use href=#b x=60.1 y=35.8 /><use href=#b x=65.1 y=31.1 /><use href=#b x=15.7 y=43.6 /><use href=#b x=15.2 y=65.3 /><use href=#c x=40.3 y=35.2 /><use href=#b x=20.3 y=63.5 /><use href=#b x=42.4 y=67.1 /><use href=#b x=24 y=27.4 /><use href=#b x=33.6 y=61.7 /><use href=#a x=13.6 y=58.1 /><use href=#b x=27.8 y=58.1 /><use href=#c x=47 y=33.8 /><use href=#b x=59.2 y=49 /><use href=#b x=21 y=23.1 /><use href=#c x=48.1 y=26.9 /><use href=#c x=46.2 y=17 /><use href=#b x=63.5 y=58.1 /><use href=#a x=13.4 y=59.9 /><use href=#a x=20.8 y=65.3 /><use href=#b x=35.3 y=61.7 /><use href=#b x=20.8 y=65.3 /><use href=#b x=32.5 y=40 /><use href=#b x=42.7 y=43.6 /><use href=#b x=41.2 y=11.2 /><use href=#b x=32.9 y=11.2 /><use href=#b x=48.5 y=45.4 /><use href=#b x=41.4 y=27.4 /><use href=#b x=54.5 y=27.4 /><use href=#c x=50.6 y=36.1 /><use href=#b x=48.4 y=67.1 /><use href=#b x=22.7 y=27.4 /><use href=#b x=36.6 y=63.5 /><use href=#a x=9.8 y=65.3 /><use href=#b x=61.9 y=23.1 /><use href=#b x=30.1 y=34.8 /><use href=#b x=59.2 y=67.1 /><use href=#c x=32.8 y=36.1 /><use href=#b x=42.5 y=27.4 /><use href=#b x=55.4 y=54.5 /><use href=#b x=14.2 y=47.2 /><use href=#b x=37.1 y=41.8 /><use href=#b x=35.9 y=65.3 /><use href=#b x=20.8 y=56.3 /><use href=#c x=34.6 y=41.8 /><use href=#b x=32.1 y=61.7 /><use href=#b x=32 y=23.1 /><use href=#c x=63.5 y=65.3 /><use href=#b x=19.2 y=49 /><use href=#a x=50.5 y=45.4 /><use href=#c x=33.8 y=49 /><use href=#b x=56.4 y=41.8 /><use href=#b x=60 y=49 /><use href=#c x=45.8 y=16.7 /><use href=#b x=43.2 y=54.5 /><use href=#c x=34 y=27.4 /><use href=#c x=27.8 y=38.2 /><use href=#b x=57.5 y=54.5 /><use href=#a x=35.8 y=56.3 /><use href=#c x=47.4 y=9.6 /><use href=#b x=24.8 y=68.9 /><use href=#b x=38.1 y=67.1 /><use href=#b x=41.8 y=68.9 /><use href=#b x=39.1 y=58.1 /><use href=#c x=64.8 y=31.7 /><use href=#c x=62.1 y=3.3 /><use href=#a x=21 y=59.9 /><use href=#b x=48.6 y=23.1 /><use href=#b x=46.7 y=29.1 /><use href=#b x=25.8 y=27.4 /><use href=#a x=55 y=41.8 /><use href=#c x=33 y=27.4 /><use href=#a x=20.7 y=65.3 /><use href=#b x=35.3 y=43.6 /><use href=#b x=54 y=36.1 /><use href=#c x=60.2 y=9.8 /><use href=#b x=52 y=19.3 /><use href=#c x=67.2 y=41.8 /><use href=#a x=48.1 y=41.8 /><use href=#c x=47.9 y=17.1 /><use href=#b x=19.1 y=56.3 /><use href=#b x=26.2 y=54.5 /><use href=#b x=35.2 y=58.1 /><use href=#c x=41.8 y=38.2 /><use href=#b x=57.1 y=63.5 /><use href=#b x=35.9 y=35.2 /><use href=#b x=56.1 y=22 /><use href=#c x=37.9 y=54.5 /><use href=#b x=58.8 y=31.7 /><use href=#b x=33.3 y=58.1 /><use href=#a x=53 y=47.2 /><use href=#b x=35.2 y=49 /><use href=#c x=65.7 y=65.3 /><use href=#b x=20.3 y=58.1 /><use href=#b x=54 y=56.3 /><use href=#b x=34 y=23.1 /><use href=#a x=20.8 y=58.1 /><use href=#b x=50.4 y=49 /><use href=#b x=36.5 y=23.1 /><use href=#a x=9.9 y=63.5 /><use href=#b x=31.3 y=31.7 /><use href=#b x=55.4 y=38.2 /><use href=#c x=57.8 y=38.2 /><use href=#b x=58.4 y=61.7 /><use href=#b x=34.7 y=59.9 /><use href=#b x=60.5 y=52.7 /><use href=#b x=62.2 y=54.5 /><use href=#b x=46.4 y=52.7 /><use href=#b x=20.9 y=68.9 /><use href=#b x=65.3 y=52.7 /><use href=#b x=48.3 y=14.9 /><use href=#b x=66.4 y=23.1 /><use href=#c x=36.2 y=58.1 /><use href=#b x=19.5 y=67.1 /><use href=#c x=50.5 y=9.6 /><use href=#a x=21 y=50.9 /><use href=#b x=33 y=36.4 /><use href=#b x=34.1 y=68.9 /><use href=#c x=59.8 y=41.8 /><use href=#b x=29.9 y=58.1 /><use href=#a x=10.1 y=61.7 /><use href=#c x=31.8 y=23.1 /><use href=#b x=64.8 y=61.7 /><use href=#b x=42.9 y=47.2 /><use href=#b x=32.9 y=63.5 /><use href=#b x=25.1 y=67.1 /><use href=#b x=60.6 y=54.5 /><use href=#b x=29.8 y=68.9 /><use href=#b x=30.3 y=36.1 /><use href=#b x=32 y=47.2 /><use href=#b x=36.2 y=50.9 /><use href=#b x=33.2 y=50.9 /><use href=#b x=44.2 y=14.8 /><use href=#b x=32.1 y=63.5 /><use href=#b x=37 y=36.1 /><use href=#b x=19.3 y=54.5 /><use href=#c x=60.1 y=9.6 /><use href=#a x=55.3 y=61.7 /><use href=#c x=63.3 y=21.9 /><use href=#b x=52.9 y=52.7 /><use href=#c x=65.7 y=24.3 /><use href=#c x=59.5 y=33.5 /><use href=#b x=57.6 y=17.7 /><use href=#b x=47.3 y=63.5 /><use href=#c x=48.3 y=50.9 /><use href=#a x=29 y=67.1 /><use href=#b x=57.2 y=31.7 /><use href=#a x=13.5 y=65.3 /><use href=#b x=57 y=54.5 /><use href=#b x=22.7 y=23.1 /><use href=#a x=9.8 y=58.1 /><use href=#b x=40.1 y=49 /><use href=#b x=30.1 y=45.4 /><use href=#c x=60.1 y=22.1 /><use href=#c x=61.6 y=38.2 /><use href=#b x=27.1 y=38.2 /><use href=#a x=41.2 y=61.7 /><use href=#b x=61 y=43.6 /><use href=#b x=43.8 y=17.7 /><use href=#b x=34.3 y=61.7 /><use href=#b x=31 y=49 /><use href=#c x=56 y=36.4 /><use href=#b x=51.7 y=65.3 /><use href=#b x=20.8 y=50.9 /><use href=#c x=26.9 y=59.9 /><use href=#b x=56.9 y=65.3 /><use href=#c x=45.3 y=27.4 /><use href=#b x=20.2 y=63.5 /><use href=#b x=34.8 y=38.2 /><use href=#b x=59.3 y=56.3 /><use href=#c x=29.1 y=43.6 /><use href=#b x=59.1 y=36.1 /><use href=#a x=36.8 y=38.2 /><use href=#b x=53 y=58.1 /><use href=#c x=32.8 y=11.2 /><use href=#a x=54.9 y=58.1 /><use href=#a x=9.9 y=58.1 /><use href=#a x=9.9 y=56.3 /><use href=#b x=29.1 y=59.9 /><use href=#c x=53.6 y=27.4 /><use href=#c x=36.4 y=35.7 /><use href=#c x=64.7 y=63.5 /><use href=#b x=28.8 y=45.4 /><use href=#b x=55.4 y=67.1 /><use href=#b x=62.2 y=59.9 /><use href=#c x=57.8 y=61.7 /><use href=#b x=30.1 y=56.3 /><use href=#b x=30 y=36.1 /><use href=#b x=23.6 y=31.7 /><use href=#c x=34.9 y=67.1 /><use href=#a x=20.8 y=59.9 /><use href=#c x=65.1 y=14.7 /><use href=#b x=13.8 y=59.9 /><use href=#b x=44.8 y=26.6 /><use href=#b x=34.8 y=68.9 /><use href=#a x=38.8 y=41.8 /><use href=#b x=16.6 y=31.7 /><use href=#c x=57.4 y=31.7 /><use href=#b x=34.8 y=50.9 /><use href=#b x=66.5 y=36.2 /><use href=#c x=63.8 y=41.8 /><use href=#b x=67.6 y=63.5 /><use href=#b x=18.3 y=49 /><use href=#b x=25.4 y=36.4 /><use href=#b x=29.8 y=63.5 /><use href=#b x=62.3 y=45.4 /><use href=#c x=35.6 y=27.4 /><use href=#a x=13.5 y=67.1 /><use href=#b x=3.3 y=59.9 /><use href=#b x=55.9 y=36.1 /><use href=#b x=17.7 y=47.2 /><use href=#b x=41.1 y=52.7 /><use href=#b x=32.4 y=67.1 /><use href=#a x=45.2 y=47.2 /><use href=#b x=33.7 y=56.3 /><use href=#c x=47.1 y=49 /><use href=#b x=57.9 y=31.7 /><use href=#c x=36 y=35.8 /><use href=#b x=50.6 y=63.5 /><use href=#c x=67.3 y=27.4 /><use href=#b x=64.7 y=11.2 /><use href=#b x=33.3 y=35.7 /><use href=#b x=31 y=17.7 /><use href=#b x=45 y=11.2 /><use href=#b x=23 y=67.1 /><use href=#c x=58.9 y=9.5 /><use href=#a x=57.9 y=40 /><use href=#c x=45 y=27.4 /><use href=#c x=66.2 y=63.5 /><use href=#b x=33 y=36.4 /><use href=#b x=35 y=40 /><use href=#b x=59.6 y=49 /><use href=#b x=30.7 y=43.6 /><use href=#b x=42.1 y=47.2 /><use href=#b x=33.7 y=58.1 /><use href=#b x=14.8 y=11.2 /><use href=#b x=65.1 y=56.3 /><use href=#a x=13 y=67.1 /><use href=#b x=28 y=36.1 /><use href=#b x=34 y=43.6 /><use href=#b x=19.9 y=49 /><use href=#b x=45.4 y=61.7 /><use href=#b x=33.6 y=67.1 /><use href=#b x=55.6 y=56.3 /><use href=#b x=32 y=27.4 /><use href=#c x=66.2 y=26.8 /><use href=#a x=13.6 y=67.1 /><use href=#a x=13.4 y=65.3 /><use href=#b x=36.5 y=56.3 /><use href=#b x=33.4 y=36.1 /><use href=#b x=61.9 y=61.7 /><use href=#b x=62.3 y=28.7 /><use href=#b x=61.7 y=23.1 /><use href=#b x=59.3 y=56.3 /><use href=#b x=33.1 y=43.6 /><use href=#c x=37.8 y=36.1 /><use href=#c x=34.2 y=36.1 /><use href=#a x=10.1 y=61.7 /><use href=#b x=30.4 y=45.4 /><use href=#b x=19.6 y=47.2 /><use href=#b x=47.6 y=31.7 /><use href=#a x=20.7 y=68.9 /><use href=#c x=53.4 y=35.8 /><use href=#b x=52.9 y=31.9 /><use href=#c x=62.9 y=36.4 /><use href=#b x=30.1 y=65.3 /><use href=#b x=35.6 y=68.9 /><use href=#c x=54.2 y=27.4 /><use href=#b x=61.3 y=65.3 /><use href=#b x=31.8 y=38.2 /><use href=#b x=29.7 y=27.4 /><use href=#b x=30.8 y=40 /><use href=#b x=40 y=11.2 /><use href=#a x=24.1 y=65.3 /><use href=#a x=51.2 y=56.3 /><use href=#b x=19.7 y=11.2 /><use href=#c x=59.4 y=35.9 /><use href=#b x=62.2 y=59.9 /><use href=#b x=34.1 y=61.7 /><use href=#c x=35.1 y=11.2 /><use href=#b x=25.2 y=52.7 /><use href=#b x=31 y=59.9 /><use href=#b x=23.1 y=45.4 /><use href=#b x=56.2 y=49 /><use href=#b x=19.2 y=17.7 /><use href=#c x=62.8 y=41.8 /><use href=#b x=40.2 y=65.3 /><use href=#b x=37.1 y=65.3 /><use href=#b x=35.8 y=52.7 /><use href=#b x=58.8 y=61.7 /><use href=#b x=57.6 y=31.3 /><use href=#b x=22.6 y=47.2 /><use href=#b x=55.7 y=61.7 /><use href=#b x=25.3 y=27.4 /><use href=#b x=31.9 y=54.5 /><use href=#a x=21 y=54.5 /><use href=#c x=35.7 y=11.2 /><use href=#b x=33.9 y=56.3 /><use href=#b x=60.6 y=56.3 /><use href=#b x=20.9 y=36.4 /><use href=#b x=53.2 y=23.1 /><use href=#b x=20.2 y=68.9 /><use href=#b x=24.4 y=11.2 /><use href=#c x=50.6 y=26.9 /><use href=#b x=58 y=58.1 /><use href=#b x=56.4 y=23.1 /><use href=#c x=66.1 y=27.4 /><use href=#b x=43.1 y=47.2 /><use href=#c x=44.7 y=54.5 /><use href=#a x=9.9 y=58.1 /><use href=#b x=58.4 y=41.8 /><use href=#a x=24 y=65.3 /><use href=#b x=22.8 y=11.2 /><use href=#c x=46.6 y=38.2 /><use href=#b x=35.7 y=67.1 /><use href=#c x=38.9 y=59.9 /><use href=#c x=44.5 y=27.4 /><use href=#b x=55.7 y=14.6 /><use href=#b x=40 y=63.5 /><use href=#a x=20.8 y=52.7 /><use href=#b x=43.1 y=61.7 /><use href=#b x=65.9 y=23.1 /><use href=#c x=54.3 y=31.7 /><use href=#b x=20.9 y=49 /><use href=#a x=10 y=58.1 /><use href=#c x=65.7 y=36.1 /><use href=#b x=18.5 y=67.1 /><use href=#c x=45.5 y=9.5 /><use href=#c x=41 y=43.6 /><use href=#b x=17.8 y=35.6 /><use href=#b x=34 y=35 /><use href=#c x=47.1 y=27.4 /><use href=#b x=19.3 y=54.5 /><use href=#b x=23.9 y=58.1 /><use href=#b x=20.1 y=36.1 /><use href=#b x=35.2 y=17.7 /><use href=#b x=54.3 y=67.1 /><use href=#b x=34 y=54.5 /><use href=#a x=65.7 y=52.7 /><use href=#b x=58.9 y=40 /><use href=#a x=45.1 y=41.8 /><use href=#c x=34.6 y=31.7 /><use href=#b x=20.3 y=11.2 /><use href=#c x=35.5 y=56.3 /><use href=#a x=9.9 y=68.9 /><use href=#b x=48.5 y=23.1 /><use href=#b x=54.9 y=59.9 /><use href=#a x=20.6 y=67.1 /><use href=#b x=48.9 y=56.3 /><use href=#a x=20.8 y=67.1 /><use href=#b x=53.6 y=40 /><use href=#c x=66.2 y=9.9 /><use href=#a x=9.9 y=68.9 /><use href=#b x=59.2 y=31.7 /><use href=#b x=18.7 y=68.9 /><use href=#a x=59.3 y=58.1 /><use href=#b x=54.3 y=19.3 /><use href=#c x=54.5 y=38.2 /><use href=#b x=47.5 y=16.8 /><use href=#b x=16.4 y=27.4 /><use href=#b x=20.6 y=68.9 /><use href=#c x=65.7 y=31.7 /><use href=#c x=40.8 y=31.7 /><use href=#b x=34.9 y=67.1 /><use href=#b x=61.7 y=27.4 />
</g></g>
<rect x="122.6" y="258.1" width="70.6" height="72.6" fill="none" stroke="#808080" stroke-width="1.3"/>
<text class="t" x="129.9" y="341.2" text-anchor="middle">5</text>
<text class="t" x="173.5" y="341.2" text-anchor="middle">10</text>
<text class="t" x="118.6" y="308.1" text-anchor="end">1</text>
<text class="t" x="118.6" y="272" text-anchor="end">2</text>
<path d="M129.9 330.7v2M173.5 330.7v2M122.6 305.3h-2M122.6 269.2h-2" stroke="#444" stroke-width=".9"/>
<path d="M207.6 258.1v72.6M241.1 258.1v72.6M274.6 258.1v72.6M207.6 305.3h70.6M207.6 269.2h70.6" stroke="#d6d6d6" stroke-width=".8" stroke-dasharray="1.3 .9" fill="none"/>
<clipPath id="c32"><rect x="207.6" y="258.1" width="70.6" height="72.6"/></clipPath>
<g clip-path="url(#c32)"><g transform="translate(207.6 258.1)">
<use href=#b x=57.5 y=33.8 /><use href=#b x=47.9 y=65.3 /><use href=#b x=35.1 y=68.9 /><use href=#b x=65.6 y=59.9 /><use href=#b x=28.1 y=11.2 /><use href=#c x=53.2 y=61.7 /><use href=#b x=46.9 y=58.1 /><use href=#b x=40.9 y=31.6 /><use href=#b x=49.1 y=31.7 /><use href=#b x=43.3 y=52.7 /><use href=#b x=54.7 y=14.4 /><use href=#c x=36.5 y=45.4 /><use href=#b x=52.4 y=36.3 /><use href=#c x=38.5 y=36 /><use href=#a x=21.7 y=65.3 /><use href=#b x=39.8 y=49 /><use href=#b x=22.9 y=31.7 /><use href=#c x=55.1 y=17.1 /><use href=#b x=42.9 y=27.4 /><use href=#c x=56.2 y=50.9 /><use href=#b x=59.4 y=67.1 /><use href=#b x=39.7 y=59.9 /><use href=#c x=65.1 y=27.4 /><use href=#b x=39.2 y=23.1 /><use href=#c x=22 y=45.4 /><use href=#c x=52.6 y=56.3 /><use href=#a x=17.3 y=50.9 /><use href=#b x=64 y=58.1 /><use href=#a x=25.3 y=58.1 /><use href=#c x=60 y=40 /><use href=#a x=3.2 y=54.5 /><use href=#b x=50.2 y=63.5 /><use href=#b x=21 y=58.1 /><use href=#c x=63.2 y=11.2 /><use href=#c x=26 y=14.7 /><use href=#c x=59.5 y=59.9 /><use href=#b x=20 y=61.7 /><use href=#a x=22.3 y=45.4 /><use href=#b x=27.6 y=32.4 /><use href=#a x=7.4 y=56.3 /><use href=#c x=33.5 y=19.1 /><use href=#b x=39.2 y=67.1 /><use href=#a x=24.8 y=61.7 /><use href=#b x=36.7 y=36.3 /><use href=#a x=23.3 y=61.7 /><use href=#c x=57.6 y=28.9 /><use href=#c x=34.9 y=23.9 /><use href=#b x=32.8 y=49 /><use href=#c x=40.2 y=36.1 /><use href=#c x=64.1 y=27.4 /><use href=#b x=62.6 y=27.4 /><use href=#b x=58.3 y=38.2 /><use href=#b x=13.2 y=59.9 /><use href=#c x=43.5 y=19.2 /><use href=#c x=54.3 y=10.1 /><use href=#c x=45 y=10 /><use href=#b x=30.6 y=31.7 /><use href=#b x=60.7 y=23.1 /><use href=#a x=34.7 y=54.5 /><use href=#b x=63.8 y=67.1 /><use href=#b x=52.7 y=45.4 /><use href=#b x=53.3 y=24.1 /><use href=#b x=24 y=40 /><use href=#b x=16.7 y=43.6 /><use href=#b x=59 y=11.2 /><use href=#c x=57.4 y=56.3 /><use href=#a x=45.1 y=67.1 /><use href=#b x=12.5 y=67.1 /><use href=#b x=52.9 y=26.4 /><use href=#b x=10.8 y=38.2 /><use href=#b x=38.1 y=63.5 /><use href=#b x=48.1 y=40 /><use href=#c x=26.3 y=22.1 /><use href=#a x=58.4 y=61.7 /><use href=#a x=10.1 y=38.2 /><use href=#c x=55.9 y=23.1 /><use href=#a x=51.3 y=65.3 /><use href=#a x=20.2 y=59.9 /><use href=#b x=59.2 y=12.4 /><use href=#b x=52.2 y=34.4 /><use href=#b x=42.6 y=36.4 /><use href=#b x=56.2 y=35.8 /><use href=#b x=34 y=31.1 /><use href=#b x=40.8 y=43.6 /><use href=#b x=29 y=65.3 /><use href=#c x=59.1 y=35.2 /><use href=#b x=39 y=63.5 /><use href=#b x=45.6 y=67.1 /><use href=#b x=60.6 y=27.4 /><use href=#b x=32 y=61.7 /><use href=#a x=28.7 y=58.1 /><use href=#b x=30.4 y=58.1 /><use href=#c x=33.5 y=33.8 /><use href=#b x=51 y=49 /><use href=#b x=40.8 y=23.1 /><use href=#c x=54.9 y=26.9 /><use href=#c x=55.8 y=17 /><use href=#b x=50 y=58.1 /><use href=#a x=12 y=59.9 /><use href=#a x=33.8 y=65.3 /><use href=#b x=47 y=61.7 /><use href=#b x=15.4 y=65.3 /><use href=#b x=64.2 y=40 /><use href=#b x=59.5 y=43.6 /><use href=#b x=58.1 y=11.2 /><use href=#b x=53.2 y=11.2 /><use href=#b x=33.6 y=45.4 /><use href=#b x=66.1 y=27.4 /><use href=#b x=52.7 y=27.4 /><use href=#c x=51.8 y=36.1 /><use href=#b x=47.6 y=67.1 /><use href=#b x=36.5 y=27.4 /><use href=#b x=65.6 y=63.5 /><use href=#a x=60.4 y=65.3 /><use href=#b x=27.4 y=23.1 /><use href=#b x=25.9 y=34.8 /><use href=#b x=43.1 y=67.1 /><use href=#c x=42.1 y=36.1 /><use href=#b x=45.8 y=27.4 /><use href=#b x=38.6 y=54.5 /><use href=#b x=20.1 y=47.2 /><use href=#b x=46.7 y=41.8 /><use href=#b x=33.5 y=65.3 /><use href=#b x=16.9 y=56.3 /><use href=#c x=26.1 y=41.8 /><use href=#b x=21.7 y=61.7 /><use href=#b x=32.6 y=23.1 /><use href=#c x=53.8 y=65.3 /><use href=#b x=50.5 y=49 /><use href=#a x=17.5 y=45.4 /><use href=#c x=55 y=49 /><use href=#b x=41.8 y=41.8 /><use href=#b x=60 y=49 /><use href=#c x=36.5 y=16.7 /><use href=#b x=44.6 y=54.5 /><use href=#c x=66.3 y=27.4 /><use href=#c x=29.8 y=38.2 /><use href=#b x=34 y=54.5 /><use href=#a x=8.8 y=56.3 /><use href=#c x=48.7 y=9.6 /><use href=#b x=17.3 y=68.9 /><use href=#b x=49.7 y=67.1 /><use href=#b x=49.5 y=68.9 /><use href=#b x=53.3 y=58.1 /><use href=#c x=49.1 y=31.7 /><use href=#c x=34.9 y=3.3 /><use href=#a x=8.4 y=59.9 /><use href=#b x=66.5 y=23.1 /><use href=#b x=42.1 y=29.1 /><use href=#b x=26.6 y=27.4 /><use href=#a x=22.6 y=41.8 /><use href=#c x=49.3 y=27.4 /><use href=#a x=46.1 y=65.3 /><use href=#b x=14.1 y=43.6 /><use href=#b x=47.2 y=36.1 /><use href=#c x=34.7 y=9.8 /><use href=#b x=28.9 y=19.3 /><use href=#c x=59.4 y=41.8 /><use href=#a x=21.1 y=41.8 /><use href=#c x=59.9 y=17.1 /><use href=#b x=41 y=56.3 /><use href=#b x=33.3 y=54.5 /><use href=#b x=38.6 y=58.1 /><use href=#c x=63.9 y=38.2 /><use href=#b x=67.4 y=63.5 /><use href=#b x=14 y=35.2 /><use href=#b x=40.1 y=22 /><use href=#c x=58.4 y=54.5 /><use href=#b x=55.7 y=31.7 /><use href=#b x=34.1 y=58.1 /><use href=#a x=3.6 y=47.2 /><use href=#b x=40.9 y=49 /><use href=#c x=61.3 y=65.3 /><use href=#b x=30 y=58.1 /><use href=#b x=48.1 y=56.3 /><use href=#b x=39.3 y=23.1 /><use href=#a x=64.1 y=58.1 /><use href=#b x=36 y=49 /><use href=#b x=64.8 y=23.1 /><use href=#a x=60.2 y=63.5 /><use href=#b x=32.4 y=31.7 /><use href=#b x=42.2 y=38.2 /><use href=#c x=33.3 y=38.2 /><use href=#b x=49.3 y=61.7 /><use href=#b x=44.4 y=59.9 /><use href=#b x=36 y=52.7 /><use href=#b x=31.5 y=54.5 /><use href=#b x=41.5 y=52.7 /><use href=#b x=3.2 y=68.9 /><use href=#b x=49.6 y=52.7 /><use href=#b x=37.2 y=14.9 /><use href=#b x=53.8 y=23.1 /><use href=#c x=24.3 y=58.1 /><use href=#b x=38.9 y=67.1 /><use href=#c x=40.3 y=9.6 /><use href=#a x=41.7 y=50.9 /><use href=#b x=39.5 y=36.4 /><use href=#b x=28.5 y=68.9 /><use href=#c x=36.5 y=41.8 /><use href=#b x=16.9 y=58.1 /><use href=#a x=50.7 y=61.7 /><use href=#c x=35.1 y=23.1 /><use href=#b x=65.1 y=61.7 /><use href=#b x=35 y=47.2 /><use href=#b x=56.5 y=63.5 /><use href=#b x=67.4 y=67.1 /><use href=#b x=52 y=54.5 /><use href=#b x=30.3 y=68.9 /><use href=#b x=31.4 y=36.1 /><use href=#b x=41.7 y=47.2 /><use href=#b x=11.3 y=50.9 /><use href=#b x=26.9 y=50.9 /><use href=#b x=64.5 y=14.8 /><use href=#b x=29.8 y=63.5 /><use href=#b x=35.9 y=36.1 /><use href=#b x=33.9 y=54.5 /><use href=#c x=24.9 y=9.6 /><use href=#a x=17.4 y=61.7 /><use href=#c x=38.4 y=21.9 /><use href=#b x=43.5 y=52.7 /><use href=#c x=51.5 y=24.3 /><use href=#c x=52.5 y=33.5 /><use href=#b x=46.5 y=17.7 /><use href=#b x=59.8 y=63.5 /><use href=#c x=61.7 y=50.9 /><use href=#a x=35.3 y=67.1 /><use href=#b x=46.9 y=31.7 /><use href=#a x=21.7 y=65.3 /><use href=#b x=36.8 y=54.5 /><use href=#b x=27.5 y=23.1 /><use href=#a x=8.5 y=58.1 /><use href=#b x=61.5 y=49 /><use href=#b x=52.6 y=45.4 /><use href=#c x=36.7 y=22.1 /><use href=#c x=58.2 y=38.2 /><use href=#b x=42 y=38.2 /><use href=#a x=16.6 y=61.7 /><use href=#b x=55.7 y=43.6 /><use href=#b x=51.3 y=17.7 /><use href=#b x=52.1 y=61.7 /><use href=#b x=60.5 y=49 /><use href=#c x=25.7 y=36.4 /><use href=#b x=36.9 y=65.3 /><use href=#b x=26.5 y=50.9 /><use href=#c x=28.9 y=59.9 /><use href=#b x=48.7 y=65.3 /><use href=#c x=66.4 y=27.4 /><use href=#b x=30.1 y=63.5 /><use href=#b x=31.4 y=38.2 /><use href=#b x=42.4 y=56.3 /><use href=#c x=32.2 y=43.6 /><use href=#b x=35.2 y=36.1 /><use href=#a x=7.8 y=38.2 /><use href=#b x=52.1 y=58.1 /><use href=#c x=55.5 y=11.2 /><use href=#a x=18 y=58.1 /><use href=#a x=45.1 y=58.1 /><use href=#a x=5.9 y=56.3 /><use href=#b x=23 y=59.9 /><use href=#c x=37.2 y=27.4 /><use href=#c x=39.5 y=35.7 /><use href=#c x=45.7 y=63.5 /><use href=#b x=27.1 y=45.4 /><use href=#b x=55.4 y=67.1 /><use href=#b x=51.9 y=59.9 /><use href=#c x=51.3 y=61.7 /><use href=#b x=38.1 y=56.3 /><use href=#b x=41.6 y=36.1 /><use href=#b x=32.1 y=31.7 /><use href=#c x=55.7 y=67.1 /><use href=#a x=34.3 y=59.9 /><use href=#c x=43.9 y=14.7 /><use href=#b x=40.6 y=59.9 /><use href=#b x=44.3 y=26.6 /><use href=#b x=11.6 y=68.9 /><use href=#a x=24.7 y=41.8 /><use href=#b x=12.7 y=31.7 /><use href=#c x=34 y=31.7 /><use href=#b x=54.9 y=50.9 /><use href=#b x=63.4 y=36.2 /><use href=#c x=52.9 y=41.8 /><use href=#b x=67.2 y=63.5 /><use href=#b x=24.5 y=49 /><use href=#b x=41.3 y=36.4 /><use href=#b x=18.5 y=63.5 /><use href=#b x=37.5 y=45.4 /><use href=#c x=36.5 y=27.4 /><use href=#a x=34.8 y=67.1 /><use href=#b x=51.4 y=59.9 /><use href=#b x=31.4 y=36.1 /><use href=#b x=28.4 y=47.2 /><use href=#b x=57 y=52.7 /><use href=#b x=38.7 y=67.1 /><use href=#a x=5.4 y=47.2 /><use href=#b x=40.7 y=56.3 /><use href=#c x=64.3 y=49 /><use href=#b x=41.1 y=31.7 /><use href=#c x=56.4 y=35.8 /><use href=#b x=56 y=63.5 /><use href=#c x=44.9 y=27.4 /><use href=#b x=53.5 y=11.2 /><use href=#b x=36.8 y=35.7 /><use href=#b x=41.8 y=17.7 /><use href=#b x=51.9 y=11.2 /><use href=#b x=17.3 y=67.1 /><use href=#c x=62.2 y=9.5 /><use href=#a x=23.6 y=40 /><use href=#c x=51.8 y=27.4 /><use href=#c x=58.7 y=63.5 /><use href=#b x=32.5 y=36.4 /><use href=#b x=48.3 y=40 /><use href=#b x=62.1 y=49 /><use href=#b x=49.1 y=43.6 /><use href=#b x=30 y=47.2 /><use href=#b x=29.8 y=58.1 /><use href=#b x=41.8 y=11.2 /><use href=#b x=49.8 y=56.3 /><use href=#a x=38.9 y=67.1 /><use href=#b x=20.6 y=36.1 /><use href=#b x=22.8 y=43.6 /><use href=#b x=24.3 y=49 /><use href=#b x=41.2 y=61.7 /><use href=#b x=31.5 y=67.1 /><use href=#b x=53.6 y=56.3 /><use href=#b x=44.5 y=27.4 /><use href=#c x=63.3 y=26.8 /><use href=#a x=25.1 y=67.1 /><use href=#a x=57.8 y=65.3 /><use href=#b x=58.5 y=56.3 /><use href=#b x=37.1 y=36.1 /><use href=#b x=48 y=61.7 /><use href=#b x=52.6 y=28.7 /><use href=#b x=56.2 y=23.1 /><use href=#b x=55.9 y=56.3 /><use href=#b x=24.9 y=43.6 /><use href=#c x=44.4 y=36.1 /><use href=#c x=44.4 y=36.1 /><use href=#a x=20.6 y=61.7 /><use href=#b x=25.3 y=45.4 /><use href=#b x=11.9 y=47.2 /><use href=#b x=45.4 y=31.7 /><use href=#a x=41.1 y=68.9 /><use href=#c x=66 y=35.8 /><use href=#b x=28.9 y=31.9 /><use href=#c x=63.6 y=36.4 /><use href=#b x=29.4 y=65.3 /><use href=#b x=35.4 y=68.9 /><use href=#c x=64.6 y=27.4 /><use href=#b x=67.4 y=65.3 /><use href=#b x=51.9 y=38.2 /><use href=#b x=31.4 y=27.4 /><use href=#b x=63.8 y=40 /><use href=#b x=47.2 y=11.2 /><use href=#a x=41.3 y=65.3 /><use href=#a x=24.2 y=56.3 /><use href=#b x=25.6 y=11.2 /><use href=#c x=54.4 y=35.9 /><use href=#b x=43.5 y=59.9 /><use href=#b x=44.2 y=61.7 /><use href=#c x=43.5 y=11.2 /><use href=#b x=37.2 y=52.7 /><use href=#b x=24.2 y=59.9 /><use href=#b x=30.5 y=45.4 /><use href=#b x=54 y=49 /><use href=#b x=24.9 y=17.7 /><use href=#c x=36.6 y=41.8 /><use href=#b x=46.6 y=65.3 /><use href=#b x=31.3 y=65.3 /><use href=#b x=11.4 y=52.7 /><use href=#b x=45.3 y=61.7 /><use href=#b x=41.3 y=31.3 /><use href=#b x=32.7 y=47.2 /><use href=#b x=38.6 y=61.7 /><use href=#b x=34.3 y=27.4 /><use href=#b x=16.1 y=54.5 /><use href=#a x=3.2 y=54.5 /><use href=#c x=52.7 y=11.2 /><use href=#b x=28 y=56.3 /><use href=#b x=45.4 y=56.3 /><use href=#b x=30.5 y=36.4 /><use href=#b x=42.5 y=23.1 /><use href=#b x=51.3 y=68.9 /><use href=#b x=49.2 y=11.2 /><use href=#c x=59.3 y=26.9 /><use href=#b x=47.3 y=58.1 /><use href=#b x=56.5 y=23.1 /><use href=#c x=61.5 y=27.4 /><use href=#b x=49.9 y=47.2 /><use href=#c x=41.3 y=54.5 /><use href=#a x=17.4 y=58.1 /><use href=#b x=39.3 y=41.8 /><use href=#a x=31.5 y=65.3 /><use href=#b x=25 y=11.2 /><use href=#c x=64.4 y=38.2 /><use href=#b x=17 y=67.1 /><use href=#c x=42.8 y=59.9 /><use href=#c x=64.5 y=27.4 /><use href=#b x=46.8 y=14.6 /><use href=#b x=60.9 y=63.5 /><use href=#a x=31.9 y=52.7 /><use href=#b x=66.9 y=61.7 /><use href=#b x=48.4 y=23.1 /><use href=#c x=66.9 y=31.7 /><use href=#b x=17 y=49 /><use href=#a x=11.4 y=58.1 /><use href=#c x=54.4 y=36.1 /><use href=#b x=27.6 y=67.1 /><use href=#c x=52.6 y=9.5 /><use href=#c x=50.6 y=43.6 /><use href=#b x=14.4 y=35.6 /><use href=#b x=33.8 y=35 /><use href=#c x=38.6 y=27.4 /><use href=#b x=40.4 y=54.5 /><use href=#b x=19 y=58.1 /><use href=#b x=50.6 y=36.1 /><use href=#b x=26.6 y=17.7 /><use href=#b x=54 y=67.1 /><use href=#b x=27.3 y=54.5 /><use href=#a x=10.7 y=52.7 /><use href=#b x=48.4 y=40 /><use href=#a x=23.5 y=41.8 /><use href=#c x=58.2 y=31.7 /><use href=#b x=59.6 y=11.2 /><use href=#c x=32.5 y=56.3 /><use href=#a x=9.8 y=68.9 /><use href=#b x=54.7 y=23.1 /><use href=#b x=32.6 y=59.9 /><use href=#a x=54.7 y=67.1 /><use href=#b x=36.7 y=56.3 /><use href=#a x=22.9 y=67.1 /><use href=#b x=41.4 y=40 /><use href=#c x=24.5 y=9.9 /><use href=#a x=4.2 y=68.9 /><use href=#b x=52.3 y=31.7 /><use href=#b x=35.1 y=68.9 /><use href=#a x=24 y=58.1 /><use href=#b x=54.3 y=19.3 /><use href=#c x=29.2 y=38.2 /><use href=#b x=53.8 y=16.8 /><use href=#b x=15.7 y=27.4 /><use href=#b x=9 y=68.9 /><use href=#c x=49.9 y=31.7 /><use href=#c x=59.9 y=31.7 /><use href=#b x=35.5 y=67.1 /><use href=#b x=57 y=27.4 />
</g></g>
<rect x="207.6" y="258.1" width="70.6" height="72.6" fill="none" stroke="#808080" stroke-width="1.3"/>
<text class="t" x="207.6" y="341.2" text-anchor="middle">1</text>
<text class="t" x="241.1" y="341.2" text-anchor="middle">2</text>
<text class="t" x="274.6" y="341.2" text-anchor="middle">3</text>
<text class="t" x="203.6" y="308.1" text-anchor="end">1</text>
<text class="t" x="203.6" y="272" text-anchor="end">2</text>
<path d="M207.6 330.7v2M241.1 330.7v2M274.6 330.7v2M207.6 305.3h-2M207.6 269.2h-2" stroke="#444" stroke-width=".9"/>
<path d="M317.2 258.1v72.6M352.3 258.1v72.6M292.5 330.7h70.6M292.5 295h70.6M292.5 259.4h70.6" stroke="#d6d6d6" stroke-width=".8" stroke-dasharray="1.3 .9" fill="none"/>
<path d="M295.7 330.7h6.4v-59.9h-6.4zM302.2 330.7h6.4v-69.1h-6.4zM308.6 330.7h6.4v-63.4h-6.4zM315 330.7h6.4v-57h-6.4zM321.4 330.7h6.4v-34.7h-6.4zM327.8 330.7h6.4v-32.5h-6.4zM334.2 330.7h6.4v-40.6h-6.4zM340.7 330.7h6.4v-10.4h-6.4zM347.1 330.7h6.4v-16.1h-6.4zM353.5 330.7h6.4v-2.4h-6.4z" fill="#f8906c" stroke="#2b2433" stroke-width="1"/>
<rect x="292.5" y="258.1" width="70.6" height="72.6" fill="none" stroke="#808080" stroke-width="1.3"/>
<text class="t" x="317.2" y="341.2" text-anchor="middle">1</text>
<text class="t" x="352.3" y="341.2" text-anchor="middle">2</text>
<text class="t" x="288.5" y="333.5" text-anchor="end">0</text>
<text class="t" x="288.5" y="297.8" text-anchor="end">50</text>
<text class="t" x="288.5" y="262.2" text-anchor="end">100</text>
<path d="M317.2 330.7v2M352.3 330.7v2M292.5 330.7h-2M292.5 295h-2M292.5 259.4h-2" stroke="#444" stroke-width=".9"/>
<ellipse cx="412.8" cy="294.4" rx="28.2" ry="29" fill="#c17698" stroke="#2a1e2a" stroke-width="1.2"/>
<text class="c" x="411.9" y="292.2" text-anchor="middle">Corr:</text>
<text class="c" x="412.8" y="301" text-anchor="middle">−0.21</text>
<ellipse cx="497.7" cy="294.4" rx="28.2" ry="29" fill="#894980" stroke="#2a1e2a" stroke-width="1.2"/>
<text class="c" x="496.8" y="292.2" text-anchor="middle">Corr:</text>
<text class="c" x="497.7" y="301" text-anchor="middle">0.30</text>
<path d="M54.8 342v72.6M83.4 342v72.6M37.6 404.4h70.6M37.6 383.1h70.6M37.6 361.9h70.6" stroke="#d6d6d6" stroke-width=".8" stroke-dasharray="1.3 .9" fill="none"/>
<clipPath id="c40"><rect x="37.6" y="342" width="70.6" height="72.6"/></clipPath>
<g clip-path="url(#c40)"><g transform="translate(37.6 342)">
<use href=#b x=39.3 y=44.1 /><use href=#b x=28.2 y=50.9 /><use href=#b x=26.6 y=45.1 /><use href=#b x=57.1 y=46.3 /><use href=#b x=29.7 y=49.9 /><use href=#c x=22.4 y=42.5 /><use href=#b x=25.2 y=49.5 /><use href=#b x=40.3 y=51.9 /><use href=#b x=40.2 y=53.7 /><use href=#b x=23.3 y=51 /><use href=#b x=47.4 y=50.1 /><use href=#c x=11.8 y=47.3 /><use href=#b x=38.3 y=46 /><use href=#c x=38.4 y=51.2 /><use href=#a x=28.7 y=48 /><use href=#b x=26.4 y=47.9 /><use href=#b x=23.4 y=60.8 /><use href=#c x=46.3 y=51.7 /><use href=#b x=29.2 y=54.4 /><use href=#c x=58.7 y=43.1 /><use href=#b x=27.8 y=36.2 /><use href=#b x=29.2 y=35.3 /><use href=#c x=31.7 y=36.1 /><use href=#b x=32.5 y=43.7 /><use href=#c x=8.9 y=54.6 /><use href=#c x=62.7 y=45.7 /><use href=#a x=32.2 y=58.7 /><use href=#b x=61.6 y=48.4 /><use href=#a x=24.8 y=45.8 /><use href=#c x=27.3 y=33.6 /><use href=#a x=27.9 y=69.1 /><use href=#b x=31.8 y=52 /><use href=#b x=24.8 y=49.5 /><use href=#c x=21.6 y=32.8 /><use href=#c x=47.3 y=61.4 /><use href=#c x=21.1 y=34.2 /><use href=#b x=25.9 y=47.9 /><use href=#a x=32.8 y=60.4 /><use href=#b x=30 y=60.1 /><use href=#a x=29.6 y=53.4 /><use href=#c x=45.4 y=53.3 /><use href=#b x=27.4 y=54.6 /><use href=#a x=32.4 y=59.2 /><use href=#b x=32.5 y=44.8 /><use href=#a x=31.9 y=63 /><use href=#c x=41.4 y=48.7 /><use href=#c x=43.4 y=56.3 /><use href=#b x=26.8 y=48.3 /><use href=#c x=27.2 y=56.7 /><use href=#c x=30.5 y=33.2 /><use href=#b x=56.3 y=38.3 /><use href=#b x=26.7 y=46.8 /><use href=#b x=32.8 y=54.2 /><use href=#c x=45.4 y=50.3 /><use href=#c x=49.2 y=49.7 /><use href=#c x=49.2 y=54 /><use href=#b x=31.4 y=58.2 /><use href=#b x=60.5 y=44.3 /><use href=#a x=21.5 y=39.8 /><use href=#b x=67.3 y=41.3 /><use href=#b x=31.1 y=27 /><use href=#b x=43.4 y=49 /><use href=#b x=27 y=53.3 /><use href=#b x=22.8 y=51.5 /><use href=#b x=28.7 y=47.3 /><use href=#c x=61.7 y=44.1 /><use href=#a x=26.1 y=33 /><use href=#b x=10.2 y=53.9 /><use href=#b x=42.4 y=51 /><use href=#b x=22.6 y=58.9 /><use href=#b x=28.2 y=48.4 /><use href=#b x=29.2 y=51.2 /><use href=#c x=44.2 y=57.8 /><use href=#a x=27 y=10.4 /><use href=#a x=30.6 y=66.2 /><use href=#c x=30.1 y=37.5 /><use href=#a x=26.4 y=29.1 /><use href=#a x=28.3 y=43.6 /><use href=#b x=48.2 y=47.6 /><use href=#b x=25 y=49.6 /><use href=#b x=30.3 y=51.7 /><use href=#b x=23.7 y=49.4 /><use href=#b x=40.4 y=59.1 /><use href=#b x=9.4 y=30.9 /><use href=#b x=9.8 y=39 /><use href=#c x=33.5 y=39.1 /><use href=#b x=27 y=36.4 /><use href=#b x=26.1 y=46.6 /><use href=#b x=30.4 y=26.2 /><use href=#b x=27.4 y=49.1 /><use href=#a x=31.4 y=37.7 /><use href=#b x=30 y=46.9 /><use href=#c x=39.3 y=54 /><use href=#b x=34.1 y=51 /><use href=#b x=26 y=35.9 /><use href=#c x=42.2 y=45 /><use href=#c x=46.3 y=43.7 /><use href=#b x=35 y=52.8 /><use href=#a x=34.2 y=49.9 /><use href=#a x=26.4 y=40.2 /><use href=#b x=24.7 y=42.2 /><use href=#b x=12.2 y=52.1 /><use href=#b x=29.9 y=31.3 /><use href=#b x=26.4 y=40.2 /><use href=#b x=61.4 y=40.1 /><use href=#b x=25.5 y=37.5 /><use href=#b x=27.9 y=54.5 /><use href=#b x=58.2 y=36.4 /><use href=#b x=22 y=48.7 /><use href=#c x=33.5 y=47.5 /><use href=#b x=53.3 y=48.4 /><use href=#b x=12 y=39.9 /><use href=#b x=63.4 y=33.6 /><use href=#a x=20.6 y=8.6 /><use href=#b x=27.7 y=60.8 /><use href=#b x=30.6 y=50.6 /><use href=#b x=30.4 y=54.1 /><use href=#c x=25.3 y=43.3 /><use href=#b x=27.5 y=46.6 /><use href=#b x=27.3 y=54.7 /><use href=#b x=8.9 y=44.6 /><use href=#b x=29 y=43.4 /><use href=#b x=25.5 y=49.5 /><use href=#b x=26.6 y=51.1 /><use href=#c x=9.8 y=52.7 /><use href=#b x=29.3 y=53.9 /><use href=#b x=13.3 y=48 /><use href=#c x=31.3 y=51.4 /><use href=#b x=30.7 y=27.8 /><use href=#a x=36.9 y=62 /><use href=#c x=30.8 y=37.1 /><use href=#b x=27.6 y=53.7 /><use href=#b x=31.6 y=47.9 /><use href=#c x=46.4 y=52.2 /><use href=#b x=28.7 y=47.5 /><use href=#c x=22.4 y=31.4 /><use href=#c x=12.7 y=47.2 /><use href=#b x=28.6 y=57.1 /><use href=#a x=27.1 y=62 /><use href=#c x=49.4 y=47.4 /><use href=#b x=25.4 y=53 /><use href=#b x=26.6 y=42.4 /><use href=#b x=28.7 y=44.4 /><use href=#b x=28.6 y=41.2 /><use href=#c x=40.2 y=53.5 /><use href=#c x=23.4 y=58 /><use href=#a x=26.6 y=56.6 /><use href=#b x=55.7 y=40.3 /><use href=#b x=41.3 y=50 /><use href=#b x=30.3 y=48 /><use href=#a x=31.1 y=61 /><use href=#c x=28.1 y=39.6 /><use href=#a x=18.1 y=32.2 /><use href=#b x=12.3 y=59.2 /><use href=#b x=28.4 y=50.7 /><use href=#c x=49.3 y=57.6 /><use href=#b x=45.3 y=57.6 /><use href=#c x=31.4 y=50.6 /><use href=#a x=27.3 y=59.8 /><use href=#c x=46.3 y=42.8 /><use href=#b x=14.7 y=34.1 /><use href=#b x=12 y=44.2 /><use href=#b x=27.2 y=46.5 /><use href=#c x=57.7 y=37.7 /><use href=#b x=25.9 y=43.9 /><use href=#b x=13.3 y=59.4 /><use href=#b x=44.2 y=54.3 /><use href=#c x=24.2 y=38 /><use href=#b x=40.2 y=49.1 /><use href=#b x=32.4 y=47.9 /><use href=#a x=28.1 y=68.3 /><use href=#b x=26.5 y=45.3 /><use href=#c x=27.6 y=49.4 /><use href=#b x=29.4 y=42.3 /><use href=#b x=22.9 y=50.3 /><use href=#b x=27.6 y=45.5 /><use href=#a x=29 y=20.6 /><use href=#b x=28.8 y=54.1 /><use href=#b x=60.6 y=33.9 /><use href=#a x=20.8 y=8.8 /><use href=#b x=26.2 y=47.7 /><use href=#b x=33.4 y=53.2 /><use href=#c x=37.4 y=57.5 /><use href=#b x=27.4 y=51.4 /><use href=#b x=25.1 y=43.2 /><use href=#b x=25.2 y=57.2 /><use href=#b x=30.5 y=59.3 /><use href=#b x=25.4 y=50.2 /><use href=#b x=27.1 y=60 /><use href=#b x=29.6 y=53.5 /><use href=#b x=47.2 y=52.9 /><use href=#b x=30.4 y=52.3 /><use href=#c x=7.3 y=54.3 /><use href=#b x=29 y=35.8 /><use href=#c x=49.4 y=52.3 /><use href=#a x=31.4 y=35.3 /><use href=#b x=30.2 y=44.8 /><use href=#b x=25.9 y=51.2 /><use href=#c x=31.8 y=56.8 /><use href=#b x=27.6 y=55.6 /><use href=#a x=19.7 y=16.8 /><use href=#c x=26.9 y=46.5 /><use href=#b x=64.3 y=47.7 /><use href=#b x=23.3 y=51.8 /><use href=#b x=30.9 y=35.7 /><use href=#b x=32.5 y=23.1 /><use href=#b x=32.1 y=51.1 /><use href=#b x=26.3 y=48.1 /><use href=#b x=28.5 y=47.7 /><use href=#b x=4.6 y=43.1 /><use href=#b x=9.9 y=60.8 /><use href=#b x=27.4 y=51.6 /><use href=#b x=47.2 y=38.8 /><use href=#b x=26.8 y=49.5 /><use href=#b x=27 y=48.8 /><use href=#b x=28 y=39 /><use href=#c x=49.4 y=61.3 /><use href=#a x=30.5 y=63.2 /><use href=#c x=44.3 y=57.1 /><use href=#b x=27.5 y=51.8 /><use href=#c x=43.2 y=52.9 /><use href=#c x=39.4 y=50.6 /><use href=#b x=23.6 y=52.3 /><use href=#b x=67.1 y=42.5 /><use href=#c x=22.8 y=42.2 /><use href=#a x=11.2 y=44.8 /><use href=#b x=26.3 y=52 /><use href=#a x=27.3 y=42.8 /><use href=#b x=34 y=55.9 /><use href=#b x=29.8 y=45.5 /><use href=#a x=30.2 y=50 /><use href=#b x=67.5 y=37.8 /><use href=#b x=21.6 y=35.8 /><use href=#c x=44.2 y=56.8 /><use href=#c x=37.4 y=49.1 /><use href=#b x=32 y=39.7 /><use href=#a x=30.7 y=59.8 /><use href=#b x=25.3 y=49.9 /><use href=#b x=59.7 y=44.7 /><use href=#b x=28 y=38.9 /><use href=#b x=28.7 y=32.2 /><use href=#c x=38.2 y=60 /><use href=#b x=32.9 y=54.2 /><use href=#b x=28.2 y=44.9 /><use href=#c x=12.8 y=47.3 /><use href=#b x=28.7 y=51.2 /><use href=#c x=26.5 y=38.5 /><use href=#b x=27.7 y=42.2 /><use href=#b x=21.8 y=50 /><use href=#b x=29.3 y=54.4 /><use href=#c x=7.7 y=46.6 /><use href=#b x=25.2 y=57.1 /><use href=#a x=28.2 y=62.8 /><use href=#b x=61.4 y=48.3 /><use href=#c x=31.3 y=36.2 /><use href=#a x=29.8 y=62.8 /><use href=#a x=26.4 y=20.9 /><use href=#a x=28.6 y=52.1 /><use href=#b x=11.4 y=51.8 /><use href=#c x=26 y=54.7 /><use href=#c x=30.9 y=46.6 /><use href=#c x=25.2 y=54.7 /><use href=#b x=9.4 y=49.3 /><use href=#b x=22.8 y=47.9 /><use href=#b x=31.2 y=51.7 /><use href=#c x=29.1 y=50.4 /><use href=#b x=24.9 y=43.9 /><use href=#b x=31.2 y=41.9 /><use href=#b x=8.4 y=43.2 /><use href=#c x=27.6 y=37.5 /><use href=#a x=21.4 y=39.9 /><use href=#c x=47.2 y=55.5 /><use href=#b x=12.1 y=29.1 /><use href=#b x=42.3 y=48.3 /><use href=#b x=26.2 y=60.3 /><use href=#a x=31.5 y=55 /><use href=#b x=4.6 y=51.5 /><use href=#c x=22.5 y=57.1 /><use href=#b x=25.6 y=37.8 /><use href=#b x=31.4 y=48.9 /><use href=#c x=25.2 y=51.9 /><use href=#b x=25.3 y=47.9 /><use href=#b x=14 y=44.4 /><use href=#b x=31.9 y=39 /><use href=#b x=5.2 y=54.6 /><use href=#b x=24.2 y=57.1 /><use href=#c x=27.9 y=47.8 /><use href=#a x=22.3 y=33.1 /><use href=#b x=29.2 y=4.6 /><use href=#b x=29.3 y=57.7 /><use href=#b x=4.4 y=41.4 /><use href=#b x=67 y=40.5 /><use href=#b x=26.4 y=44.9 /><use href=#a x=29 y=66 /><use href=#b x=29.4 y=44.6 /><use href=#c x=23.9 y=40.4 /><use href=#b x=32.8 y=54.5 /><use href=#c x=27.1 y=37.8 /><use href=#b x=27.5 y=45.7 /><use href=#c x=25.6 y=55.7 /><use href=#b x=64.5 y=51.9 /><use href=#b x=26.9 y=46.4 /><use href=#b x=11 y=42.4 /><use href=#b x=30.1 y=44.9 /><use href=#b x=6 y=52.1 /><use href=#c x=49.4 y=46.6 /><use href=#a x=29 y=61.3 /><use href=#c x=21.6 y=45 /><use href=#c x=21.9 y=50.5 /><use href=#b x=6.5 y=48.6 /><use href=#b x=24.8 y=41.4 /><use href=#b x=26.4 y=46.9 /><use href=#b x=27.7 y=38.2 /><use href=#b x=27.1 y=53.8 /><use href=#b x=6.8 y=50.3 /><use href=#b x=8.6 y=29.3 /><use href=#b x=24.4 y=53.4 /><use href=#a x=5.7 y=29.5 /><use href=#b x=14.5 y=52.6 /><use href=#b x=31.6 y=54.2 /><use href=#b x=31.5 y=45.7 /><use href=#b x=29.6 y=49.9 /><use href=#b x=12.7 y=49.3 /><use href=#b x=25.3 y=48.7 /><use href=#b x=25 y=41.6 /><use href=#c x=42.2 y=48.9 /><use href=#a x=23 y=40.3 /><use href=#a x=23 y=15.9 /><use href=#b x=67.2 y=37.1 /><use href=#b x=23.8 y=46.3 /><use href=#b x=29.2 y=53.1 /><use href=#b x=41.4 y=51.5 /><use href=#b x=22.2 y=49.9 /><use href=#b x=67.3 y=49.2 /><use href=#b x=9.9 y=52.6 /><use href=#c x=28.1 y=44.9 /><use href=#c x=33.5 y=42.9 /><use href=#a x=30 y=40.7 /><use href=#b x=22.3 y=51.2 /><use href=#b x=32.6 y=53.7 /><use href=#b x=27.5 y=49 /><use href=#a x=20.8 y=35.4 /><use href=#c x=28.6 y=42.8 /><use href=#b x=28.2 y=57.9 /><use href=#c x=24 y=47.6 /><use href=#b x=27.7 y=48.7 /><use href=#b x=28.9 y=48.3 /><use href=#c x=28.9 y=43.7 /><use href=#b x=28 y=45.6 /><use href=#b x=20.3 y=37.4 /><use href=#b x=27.6 y=47.4 /><use href=#b x=32.5 y=30.2 /><use href=#b x=57.3 y=44.7 /><use href=#a x=5.3 y=38 /><use href=#a x=37 y=59.3 /><use href=#b x=29.9 y=44.7 /><use href=#c x=38.4 y=49.8 /><use href=#b x=29 y=54.8 /><use href=#b x=26.4 y=43 /><use href=#c x=28.9 y=43.9 /><use href=#b x=30.1 y=41.3 /><use href=#b x=12.4 y=52 /><use href=#b x=12.7 y=43.9 /><use href=#b x=64.5 y=48.8 /><use href=#b x=3.7 y=44.9 /><use href=#c x=27.5 y=57.6 /><use href=#b x=57.1 y=45.1 /><use href=#b x=29.2 y=51.1 /><use href=#b x=9.2 y=60.7 /><use href=#b x=30.3 y=53.1 /><use href=#b x=32.4 y=54.3 /><use href=#b x=14 y=42.2 /><use href=#b x=31.1 y=54.8 /><use href=#b x=27.5 y=43.1 /><use href=#b x=9.4 y=56.8 /><use href=#a x=22 y=60 /><use href=#c x=30.3 y=39.5 /><use href=#b x=24.6 y=51.4 /><use href=#b x=25.3 y=53.6 /><use href=#b x=27.8 y=42.4 /><use href=#b x=24.2 y=52.3 /><use href=#b x=28 y=28.3 /><use href=#b x=30.8 y=33.5 /><use href=#c x=42.2 y=44.3 /><use href=#b x=29.9 y=52.1 /><use href=#b x=57.5 y=47.9 /><use href=#c x=21.6 y=49.5 /><use href=#b x=56 y=44.9 /><use href=#c x=25.5 y=49.6 /><use href=#a x=35.3 y=43 /><use href=#b x=33.3 y=55.3 /><use href=#a x=9.7 y=43.9 /><use href=#b x=24.9 y=47.2 /><use href=#c x=60.2 y=40.1 /><use href=#b x=5.3 y=57.8 /><use href=#c x=25.5 y=46.3 /><use href=#c x=30.6 y=38.9 /><use href=#b x=47.3 y=51.5 /><use href=#b x=67.5 y=38 /><use href=#a x=18.4 y=41.4 /><use href=#b x=67.2 y=37 /><use href=#b x=26 y=54.1 /><use href=#c x=27 y=42.8 /><use href=#b x=26.9 y=51.1 /><use href=#a x=25.7 y=47.9 /><use href=#c x=25.2 y=51.9 /><use href=#b x=11.3 y=42.5 /><use href=#c x=49.4 y=44.9 /><use href=#c x=60.4 y=43.5 /><use href=#b x=13.9 y=51 /><use href=#b x=31.8 y=48.4 /><use href=#c x=26.7 y=51.8 /><use href=#b x=27.7 y=34.6 /><use href=#b x=24.8 y=51.5 /><use href=#b x=33.1 y=28.6 /><use href=#b x=29 y=52.7 /><use href=#b x=27.5 y=48.1 /><use href=#b x=3.3 y=51.8 /><use href=#a x=30.9 y=67.7 /><use href=#b x=27 y=51.9 /><use href=#a x=31.9 y=57.8 /><use href=#c x=30.9 y=36 /><use href=#b x=25.1 y=23 /><use href=#c x=12 y=49.8 /><use href=#a x=27.7 y=49.1 /><use href=#b x=59.2 y=45.3 /><use href=#b x=27.5 y=56.9 /><use href=#a x=22.9 y=26.5 /><use href=#b x=28.5 y=53.3 /><use href=#a x=18.7 y=47.2 /><use href=#b x=31.7 y=52.9 /><use href=#c x=49.3 y=62.8 /><use href=#a x=23.2 y=53.6 /><use href=#b x=30.9 y=50.6 /><use href=#b x=23.1 y=37.7 /><use href=#a x=27.7 y=61.5 /><use href=#b x=45.3 y=47.9 /><use href=#c x=37.2 y=58.2 /><use href=#b x=46.4 y=45.3 /><use href=#b x=9.2 y=49.3 /><use href=#b x=29.4 y=56.1 /><use href=#c x=24.6 y=53.5 /><use href=#c x=31.3 y=39 /><use href=#b x=27.4 y=47.9 /><use href=#b x=29.7 y=49.6 />
</g></g>
<rect x="37.6" y="342" width="70.6" height="72.6" fill="none" stroke="#808080" stroke-width="1.3"/>
<text class="t" x="54.8" y="425.1" text-anchor="middle">200</text>
<text class="t" x="83.4" y="425.1" text-anchor="middle">400</text>
<text class="t" x="33.6" y="407.2" text-anchor="end">2.5</text>
<text class="t" x="33.6" y="385.9" text-anchor="end">5.0</text>
<text class="t" x="33.6" y="364.7" text-anchor="end">7.5</text>
<path d="M54.8 414.6v2M83.4 414.6v2M37.6 404.4h-2M37.6 383.1h-2M37.6 361.9h-2" stroke="#444" stroke-width=".9"/>
<path d="M129.9 342v72.6M173.5 342v72.6M122.6 404.4h70.6M122.6 383.1h70.6M122.6 361.9h70.6" stroke="#d6d6d6" stroke-width=".8" stroke-dasharray="1.3 .9" fill="none"/>
<clipPath id="c41"><rect x="122.6" y="342" width="70.6" height="72.6"/></clipPath>
<g clip-path="url(#c41)"><g transform="translate(122.6 342)">
<use href=#b x=48.4 y=44.1 /><use href=#b x=55.4 y=50.9 /><use href=#b x=29.3 y=45.1 /><use href=#b x=61.5 y=46.3 /><use href=#b x=30.9 y=49.9 /><use href=#c x=41.4 y=42.5 /><use href=#b x=50.5 y=49.5 /><use href=#b x=49.9 y=51.9 /><use href=#b x=65.4 y=53.7 /><use href=#b x=50.5 y=51 /><use href=#b x=60.6 y=50.1 /><use href=#c x=34.7 y=47.3 /><use href=#b x=47.7 y=46 /><use href=#c x=45.4 y=51.2 /><use href=#a x=20.8 y=48 /><use href=#b x=39.2 y=47.9 /><use href=#b x=54.6 y=60.8 /><use href=#c x=65.9 y=51.7 /><use href=#b x=60 y=54.4 /><use href=#c x=45.2 y=43.1 /><use href=#b x=35.9 y=36.2 /><use href=#b x=19.5 y=35.3 /><use href=#c x=40.1 y=36.1 /><use href=#b x=30.7 y=43.7 /><use href=#c x=34.3 y=54.6 /><use href=#c x=47.4 y=45.7 /><use href=#a x=38.7 y=58.7 /><use href=#b x=65.7 y=48.4 /><use href=#a x=21 y=45.8 /><use href=#c x=32.6 y=33.6 /><use href=#a x=56.5 y=69.1 /><use href=#b x=61.3 y=52 /><use href=#b x=22.5 y=49.5 /><use href=#c x=33.8 y=32.8 /><use href=#c x=62.2 y=61.4 /><use href=#c x=33 y=34.2 /><use href=#b x=18.9 y=47.9 /><use href=#a x=52.1 y=60.4 /><use href=#b x=59.3 y=60.1 /><use href=#a x=13.6 y=53.4 /><use href=#c x=44.9 y=53.3 /><use href=#b x=55.9 y=54.6 /><use href=#a x=51.6 y=59.2 /><use href=#b x=30.3 y=44.8 /><use href=#a x=65.3 y=63 /><use href=#c x=59.9 y=48.7 /><use href=#c x=56 y=56.3 /><use href=#b x=32.9 y=48.3 /><use href=#c x=64.4 y=56.7 /><use href=#c x=35 y=33.2 /><use href=#b x=41.7 y=38.3 /><use href=#b x=55.6 y=46.8 /><use href=#b x=22.1 y=54.2 /><use href=#c x=48.9 y=50.3 /><use href=#c x=59 y=49.7 /><use href=#c x=61.2 y=54 /><use href=#b x=56.6 y=58.2 /><use href=#b x=51.9 y=44.3 /><use href=#a x=21 y=39.8 /><use href=#b x=48.3 y=41.3 /><use href=#b x=19.8 y=27 /><use href=#b x=56 y=49 /><use href=#b x=33.6 y=53.3 /><use href=#b x=21.2 y=51.5 /><use href=#b x=57.6 y=47.3 /><use href=#c x=48.4 y=44.1 /><use href=#a x=20.9 y=33 /><use href=#b x=20.7 y=53.9 /><use href=#b x=61.1 y=51 /><use href=#b x=29.7 y=58.9 /><use href=#b x=38.6 y=48.4 /><use href=#b x=56.4 y=51.2 /><use href=#c x=49 y=57.8 /><use href=#a x=9.9 y=10.4 /><use href=#a x=55.9 y=66.2 /><use href=#c x=35.2 y=37.5 /><use href=#a x=21 y=29.1 /><use href=#a x=13.2 y=43.6 /><use href=#b x=58.5 y=47.6 /><use href=#b x=56.4 y=49.6 /><use href=#b x=51.4 y=51.7 /><use href=#b x=60.1 y=49.4 /><use href=#b x=65.1 y=59.1 /><use href=#b x=15.7 y=30.9 /><use href=#b x=15.2 y=39 /><use href=#c x=40.3 y=39.1 /><use href=#b x=20.3 y=36.4 /><use href=#b x=42.4 y=46.6 /><use href=#b x=24 y=26.2 /><use href=#b x=33.6 y=49.1 /><use href=#a x=13.6 y=37.7 /><use href=#b x=27.8 y=46.9 /><use href=#c x=47 y=54 /><use href=#b x=59.2 y=51 /><use href=#b x=21 y=35.9 /><use href=#c x=48.1 y=45 /><use href=#c x=46.2 y=43.7 /><use href=#b x=63.5 y=52.8 /><use href=#a x=13.4 y=49.9 /><use href=#a x=20.8 y=40.2 /><use href=#b x=35.3 y=42.2 /><use href=#b x=20.8 y=52.1 /><use href=#b x=32.5 y=31.3 /><use href=#b x=42.7 y=40.2 /><use href=#b x=41.2 y=40.1 /><use href=#b x=32.9 y=37.5 /><use href=#b x=48.5 y=54.5 /><use href=#b x=41.4 y=36.4 /><use href=#b x=54.5 y=48.7 /><use href=#c x=50.6 y=47.5 /><use href=#b x=48.4 y=48.4 /><use href=#b x=22.7 y=39.9 /><use href=#b x=36.6 y=33.6 /><use href=#a x=9.8 y=8.6 /><use href=#b x=61.9 y=60.8 /><use href=#b x=30.1 y=50.6 /><use href=#b x=59.2 y=54.1 /><use href=#c x=32.8 y=43.3 /><use href=#b x=42.5 y=46.6 /><use href=#b x=55.4 y=54.7 /><use href=#b x=14.2 y=44.6 /><use href=#b x=37.1 y=43.4 /><use href=#b x=35.9 y=49.5 /><use href=#b x=20.8 y=51.1 /><use href=#c x=34.6 y=52.7 /><use href=#b x=32.1 y=53.9 /><use href=#b x=32 y=48 /><use href=#c x=63.5 y=51.4 /><use href=#b x=19.2 y=27.8 /><use href=#a x=50.5 y=62 /><use href=#c x=33.8 y=37.1 /><use href=#b x=56.4 y=53.7 /><use href=#b x=60 y=47.9 /><use href=#c x=45.8 y=52.2 /><use href=#b x=43.2 y=47.5 /><use href=#c x=34 y=31.4 /><use href=#c x=27.8 y=47.2 /><use href=#b x=57.5 y=57.1 /><use href=#a x=35.8 y=62 /><use href=#c x=47.4 y=47.4 /><use href=#b x=24.8 y=53 /><use href=#b x=38.1 y=42.4 /><use href=#b x=41.8 y=44.4 /><use href=#b x=39.1 y=41.2 /><use href=#c x=64.8 y=53.5 /><use href=#c x=62.1 y=58 /><use href=#a x=21 y=56.6 /><use href=#b x=48.6 y=40.3 /><use href=#b x=46.7 y=50 /><use href=#b x=25.8 y=48 /><use href=#a x=55 y=61 /><use href=#c x=33 y=39.6 /><use href=#a x=20.7 y=32.2 /><use href=#b x=35.3 y=59.2 /><use href=#b x=54 y=50.7 /><use href=#c x=60.2 y=57.6 /><use href=#b x=52 y=57.6 /><use href=#c x=67.2 y=50.6 /><use href=#a x=48.1 y=59.8 /><use href=#c x=47.9 y=42.8 /><use href=#b x=19.1 y=34.1 /><use href=#b x=26.2 y=44.2 /><use href=#b x=35.2 y=46.5 /><use href=#c x=41.8 y=37.7 /><use href=#b x=57.1 y=43.9 /><use href=#b x=35.9 y=59.4 /><use href=#b x=56.1 y=54.3 /><use href=#c x=37.9 y=38 /><use href=#b x=58.8 y=49.1 /><use href=#b x=33.3 y=47.9 /><use href=#a x=53 y=68.3 /><use href=#b x=35.2 y=45.3 /><use href=#c x=65.7 y=49.4 /><use href=#b x=20.3 y=42.3 /><use href=#b x=54 y=50.3 /><use href=#b x=34 y=45.5 /><use href=#a x=20.8 y=20.6 /><use href=#b x=50.4 y=54.1 /><use href=#b x=36.5 y=33.9 /><use href=#a x=9.9 y=8.8 /><use href=#b x=31.3 y=47.7 /><use href=#b x=55.4 y=53.2 /><use href=#c x=57.8 y=57.5 /><use href=#b x=58.4 y=51.4 /><use href=#b x=34.7 y=43.2 /><use href=#b x=60.5 y=57.2 /><use href=#b x=62.2 y=59.3 /><use href=#b x=46.4 y=50.2 /><use href=#b x=20.9 y=60 /><use href=#b x=65.3 y=53.5 /><use href=#b x=48.3 y=52.9 /><use href=#b x=66.4 y=52.3 /><use href=#c x=36.2 y=54.3 /><use href=#b x=19.5 y=35.8 /><use href=#c x=50.5 y=52.3 /><use href=#a x=21 y=35.3 /><use href=#b x=33 y=44.8 /><use href=#b x=34.1 y=51.2 /><use href=#c x=59.8 y=56.8 /><use href=#b x=29.9 y=55.6 /><use href=#a x=10.1 y=16.8 /><use href=#c x=31.8 y=46.5 /><use href=#b x=64.8 y=47.7 /><use href=#b x=42.9 y=51.8 /><use href=#b x=32.9 y=35.7 /><use href=#b x=25.1 y=23.1 /><use href=#b x=60.6 y=51.1 /><use href=#b x=29.8 y=48.1 /><use href=#b x=30.3 y=47.7 /><use href=#b x=32 y=43.1 /><use href=#b x=36.2 y=60.8 /><use href=#b x=33.2 y=51.6 /><use href=#b x=44.2 y=38.8 /><use href=#b x=32.1 y=49.5 /><use href=#b x=37 y=48.8 /><use href=#b x=19.3 y=39 /><use href=#c x=60.1 y=61.3 /><use href=#a x=55.3 y=63.2 /><use href=#c x=63.3 y=57.1 /><use href=#b x=52.9 y=51.8 /><use href=#c x=65.7 y=52.9 /><use href=#c x=59.5 y=50.6 /><use href=#b x=57.6 y=52.3 /><use href=#b x=47.3 y=42.5 /><use href=#c x=48.3 y=42.2 /><use href=#a x=29 y=44.8 /><use href=#b x=57.2 y=52 /><use href=#a x=13.5 y=42.8 /><use href=#b x=57 y=55.9 /><use href=#b x=22.7 y=45.5 /><use href=#a x=9.8 y=50 /><use href=#b x=40.1 y=37.8 /><use href=#b x=30.1 y=35.8 /><use href=#c x=60.1 y=56.8 /><use href=#c x=61.6 y=49.1 /><use href=#b x=27.1 y=39.7 /><use href=#a x=41.2 y=59.8 /><use href=#b x=61 y=49.9 /><use href=#b x=43.8 y=44.7 /><use href=#b x=34.3 y=38.9 /><use href=#b x=31 y=32.2 /><use href=#c x=56 y=60 /><use href=#b x=51.7 y=54.2 /><use href=#b x=20.8 y=44.9 /><use href=#c x=26.9 y=47.3 /><use href=#b x=56.9 y=51.2 /><use href=#c x=45.3 y=38.5 /><use href=#b x=20.2 y=42.2 /><use href=#b x=34.8 y=50 /><use href=#b x=59.3 y=54.4 /><use href=#c x=29.1 y=46.6 /><use href=#b x=59.1 y=57.1 /><use href=#a x=36.8 y=62.8 /><use href=#b x=53 y=48.3 /><use href=#c x=32.8 y=36.2 /><use href=#a x=54.9 y=62.8 /><use href=#a x=9.9 y=20.9 /><use href=#a x=9.9 y=52.1 /><use href=#b x=29.1 y=51.8 /><use href=#c x=53.6 y=54.7 /><use href=#c x=36.4 y=46.6 /><use href=#c x=64.7 y=54.7 /><use href=#b x=28.8 y=49.3 /><use href=#b x=55.4 y=47.9 /><use href=#b x=62.2 y=51.7 /><use href=#c x=57.8 y=50.4 /><use href=#b x=30.1 y=43.9 /><use href=#b x=30 y=41.9 /><use href=#b x=23.6 y=43.2 /><use href=#c x=34.9 y=37.5 /><use href=#a x=20.8 y=39.9 /><use href=#c x=65.1 y=55.5 /><use href=#b x=13.8 y=29.1 /><use href=#b x=44.8 y=48.3 /><use href=#b x=34.8 y=60.3 /><use href=#a x=38.8 y=55 /><use href=#b x=16.6 y=51.5 /><use href=#c x=57.4 y=57.1 /><use href=#b x=34.8 y=37.8 /><use href=#b x=66.5 y=48.9 /><use href=#c x=63.8 y=51.9 /><use href=#b x=67.6 y=47.9 /><use href=#b x=18.3 y=44.4 /><use href=#b x=25.4 y=39 /><use href=#b x=29.8 y=54.6 /><use href=#b x=62.3 y=57.1 /><use href=#c x=35.6 y=47.8 /><use href=#a x=13.5 y=33.1 /><use href=#b x=3.3 y=4.6 /><use href=#b x=55.9 y=57.7 /><use href=#b x=17.7 y=41.4 /><use href=#b x=41.1 y=40.5 /><use href=#b x=32.4 y=44.9 /><use href=#a x=45.2 y=66 /><use href=#b x=33.7 y=44.6 /><use href=#c x=47.1 y=40.4 /><use href=#b x=57.9 y=54.5 /><use href=#c x=36 y=37.8 /><use href=#b x=50.6 y=45.7 /><use href=#c x=67.3 y=55.7 /><use href=#b x=64.7 y=51.9 /><use href=#b x=33.3 y=46.4 /><use href=#b x=31 y=42.4 /><use href=#b x=45 y=44.9 /><use href=#b x=23 y=52.1 /><use href=#c x=58.9 y=46.6 /><use href=#a x=57.9 y=61.3 /><use href=#c x=45 y=45 /><use href=#c x=66.2 y=50.5 /><use href=#b x=33 y=48.6 /><use href=#b x=35 y=41.4 /><use href=#b x=59.6 y=46.9 /><use href=#b x=30.7 y=38.2 /><use href=#b x=42.1 y=53.8 /><use href=#b x=33.7 y=50.3 /><use href=#b x=14.8 y=29.3 /><use href=#b x=65.1 y=53.4 /><use href=#a x=13 y=29.5 /><use href=#b x=28 y=52.6 /><use href=#b x=34 y=54.2 /><use href=#b x=19.9 y=45.7 /><use href=#b x=45.4 y=49.9 /><use href=#b x=33.6 y=49.3 /><use href=#b x=55.6 y=48.7 /><use href=#b x=32 y=41.6 /><use href=#c x=66.2 y=48.9 /><use href=#a x=13.6 y=40.3 /><use href=#a x=13.4 y=15.9 /><use href=#b x=36.5 y=37.1 /><use href=#b x=33.4 y=46.3 /><use href=#b x=61.9 y=53.1 /><use href=#b x=62.3 y=51.5 /><use href=#b x=61.7 y=49.9 /><use href=#b x=59.3 y=49.2 /><use href=#b x=33.1 y=52.6 /><use href=#c x=37.8 y=44.9 /><use href=#c x=34.2 y=42.9 /><use href=#a x=10.1 y=40.7 /><use href=#b x=30.4 y=51.2 /><use href=#b x=19.6 y=53.7 /><use href=#b x=47.6 y=49 /><use href=#a x=20.7 y=35.4 /><use href=#c x=53.4 y=42.8 /><use href=#b x=52.9 y=57.9 /><use href=#c x=62.9 y=47.6 /><use href=#b x=30.1 y=48.7 /><use href=#b x=35.6 y=48.3 /><use href=#c x=54.2 y=43.7 /><use href=#b x=61.3 y=45.6 /><use href=#b x=31.8 y=37.4 /><use href=#b x=29.7 y=47.4 /><use href=#b x=30.8 y=30.2 /><use href=#b x=40 y=44.7 /><use href=#a x=24.1 y=38 /><use href=#a x=51.2 y=59.3 /><use href=#b x=19.7 y=44.7 /><use href=#c x=59.4 y=49.8 /><use href=#b x=62.2 y=54.8 /><use href=#b x=34.1 y=43 /><use href=#c x=35.1 y=43.9 /><use href=#b x=25.2 y=41.3 /><use href=#b x=31 y=52 /><use href=#b x=23.1 y=43.9 /><use href=#b x=56.2 y=48.8 /><use href=#b x=19.2 y=44.9 /><use href=#c x=62.8 y=57.6 /><use href=#b x=40.2 y=45.1 /><use href=#b x=37.1 y=51.1 /><use href=#b x=35.8 y=60.7 /><use href=#b x=58.8 y=53.1 /><use href=#b x=57.6 y=54.3 /><use href=#b x=22.6 y=42.2 /><use href=#b x=55.7 y=54.8 /><use href=#b x=25.3 y=43.1 /><use href=#b x=31.9 y=56.8 /><use href=#a x=21 y=60 /><use href=#c x=35.7 y=39.5 /><use href=#b x=33.9 y=51.4 /><use href=#b x=60.6 y=53.6 /><use href=#b x=20.9 y=42.4 /><use href=#b x=53.2 y=52.3 /><use href=#b x=20.2 y=28.3 /><use href=#b x=24.4 y=33.5 /><use href=#c x=50.6 y=44.3 /><use href=#b x=58 y=52.1 /><use href=#b x=56.4 y=47.9 /><use href=#c x=66.1 y=49.5 /><use href=#b x=43.1 y=44.9 /><use href=#c x=44.7 y=49.6 /><use href=#a x=9.9 y=43 /><use href=#b x=58.4 y=55.3 /><use href=#a x=24 y=43.9 /><use href=#b x=22.8 y=47.2 /><use href=#c x=46.6 y=40.1 /><use href=#b x=35.7 y=57.8 /><use href=#c x=38.9 y=46.3 /><use href=#c x=44.5 y=38.9 /><use href=#b x=55.7 y=51.5 /><use href=#b x=40 y=38 /><use href=#a x=20.8 y=41.4 /><use href=#b x=43.1 y=37 /><use href=#b x=65.9 y=54.1 /><use href=#c x=54.3 y=42.8 /><use href=#b x=20.9 y=51.1 /><use href=#a x=10 y=47.9 /><use href=#c x=65.7 y=51.9 /><use href=#b x=18.5 y=42.5 /><use href=#c x=45.5 y=44.9 /><use href=#c x=41 y=43.5 /><use href=#b x=17.8 y=51 /><use href=#b x=34 y=48.4 /><use href=#c x=47.1 y=51.8 /><use href=#b x=19.3 y=34.6 /><use href=#b x=23.9 y=51.5 /><use href=#b x=20.1 y=28.6 /><use href=#b x=35.2 y=52.7 /><use href=#b x=54.3 y=48.1 /><use href=#b x=34 y=51.8 /><use href=#a x=65.7 y=67.7 /><use href=#b x=58.9 y=51.9 /><use href=#a x=45.1 y=57.8 /><use href=#c x=34.6 y=36 /><use href=#b x=20.3 y=23 /><use href=#c x=35.5 y=49.8 /><use href=#a x=9.9 y=49.1 /><use href=#b x=48.5 y=45.3 /><use href=#b x=54.9 y=56.9 /><use href=#a x=20.6 y=26.5 /><use href=#b x=48.9 y=53.3 /><use href=#a x=20.8 y=47.2 /><use href=#b x=53.6 y=52.9 /><use href=#c x=66.2 y=62.8 /><use href=#a x=9.9 y=53.6 /><use href=#b x=59.2 y=50.6 /><use href=#b x=18.7 y=37.7 /><use href=#a x=59.3 y=61.5 /><use href=#b x=54.3 y=47.9 /><use href=#c x=54.5 y=58.2 /><use href=#b x=47.5 y=45.3 /><use href=#b x=16.4 y=49.3 /><use href=#b x=20.6 y=56.1 /><use href=#c x=65.7 y=53.5 /><use href=#c x=40.8 y=39 /><use href=#b x=34.9 y=47.9 /><use href=#b x=61.7 y=49.6 />
</g></g>
<rect x="122.6" y="342" width="70.6" height="72.6" fill="none" stroke="#808080" stroke-width="1.3"/>
<text class="t" x="129.9" y="425.1" text-anchor="middle">5</text>
<text class="t" x="173.5" y="425.1" text-anchor="middle">10</text>
<text class="t" x="118.6" y="407.2" text-anchor="end">2.5</text>
<text class="t" x="118.6" y="385.9" text-anchor="end">5.0</text>
<text class="t" x="118.6" y="364.7" text-anchor="end">7.5</text>
<path d="M129.9 414.6v2M173.5 414.6v2M122.6 404.4h-2M122.6 383.1h-2M122.6 361.9h-2" stroke="#444" stroke-width=".9"/>
<path d="M207.6 342v72.6M241.1 342v72.6M274.6 342v72.6M207.6 404.4h70.6M207.6 383.1h70.6M207.6 361.9h70.6" stroke="#d6d6d6" stroke-width=".8" stroke-dasharray="1.3 .9" fill="none"/>
<clipPath id="c42"><rect x="207.6" y="342" width="70.6" height="72.6"/></clipPath>
<g clip-path="url(#c42)"><g transform="translate(207.6 342)">
<use href=#b x=57.5 y=44.1 /><use href=#b x=47.9 y=50.9 /><use href=#b x=35.1 y=45.1 /><use href=#b x=65.6 y=46.3 /><use href=#b x=28.1 y=49.9 /><use href=#c x=53.2 y=42.5 /><use href=#b x=46.9 y=49.5 /><use href=#b x=40.9 y=51.9 /><use href=#b x=49.1 y=53.7 /><use href=#b x=43.3 y=51 /><use href=#b x=54.7 y=50.1 /><use href=#c x=36.5 y=47.3 /><use href=#b x=52.4 y=46 /><use href=#c x=38.5 y=51.2 /><use href=#a x=21.7 y=48 /><use href=#b x=39.8 y=47.9 /><use href=#b x=22.9 y=60.8 /><use href=#c x=55.1 y=51.7 /><use href=#b x=42.9 y=54.4 /><use href=#c x=56.2 y=43.1 /><use href=#b x=59.4 y=36.2 /><use href=#b x=39.7 y=35.3 /><use href=#c x=65.1 y=36.1 /><use href=#b x=39.2 y=43.7 /><use href=#c x=22 y=54.6 /><use href=#c x=52.6 y=45.7 /><use href=#a x=17.3 y=58.7 /><use href=#b x=64 y=48.4 /><use href=#a x=25.3 y=45.8 /><use href=#c x=60 y=33.6 /><use href=#a x=3.2 y=69.1 /><use href=#b x=50.2 y=52 /><use href=#b x=21 y=49.5 /><use href=#c x=63.2 y=32.8 /><use href=#c x=26 y=61.4 /><use href=#c x=59.5 y=34.2 /><use href=#b x=20 y=47.9 /><use href=#a x=22.3 y=60.4 /><use href=#b x=27.6 y=60.1 /><use href=#a x=7.4 y=53.4 /><use href=#c x=33.5 y=53.3 /><use href=#b x=39.2 y=54.6 /><use href=#a x=24.8 y=59.2 /><use href=#b x=36.7 y=44.8 /><use href=#a x=23.3 y=63 /><use href=#c x=57.6 y=48.7 /><use href=#c x=34.9 y=56.3 /><use href=#b x=32.8 y=48.3 /><use href=#c x=40.2 y=56.7 /><use href=#c x=64.1 y=33.2 /><use href=#b x=62.6 y=38.3 /><use href=#b x=58.3 y=46.8 /><use href=#b x=13.2 y=54.2 /><use href=#c x=43.5 y=50.3 /><use href=#c x=54.3 y=49.7 /><use href=#c x=45 y=54 /><use href=#b x=30.6 y=58.2 /><use href=#b x=60.7 y=44.3 /><use href=#a x=34.7 y=39.8 /><use href=#b x=63.8 y=41.3 /><use href=#b x=52.7 y=27 /><use href=#b x=53.3 y=49 /><use href=#b x=24 y=53.3 /><use href=#b x=16.7 y=51.5 /><use href=#b x=59 y=47.3 /><use href=#c x=57.4 y=44.1 /><use href=#a x=45.1 y=33 /><use href=#b x=12.5 y=53.9 /><use href=#b x=52.9 y=51 /><use href=#b x=10.8 y=58.9 /><use href=#b x=38.1 y=48.4 /><use href=#b x=48.1 y=51.2 /><use href=#c x=26.3 y=57.8 /><use href=#a x=58.4 y=10.4 /><use href=#a x=10.1 y=66.2 /><use href=#c x=55.9 y=37.5 /><use href=#a x=51.3 y=29.1 /><use href=#a x=20.2 y=43.6 /><use href=#b x=59.2 y=47.6 /><use href=#b x=52.2 y=49.6 /><use href=#b x=42.6 y=51.7 /><use href=#b x=56.2 y=49.4 /><use href=#b x=34 y=59.1 /><use href=#b x=40.8 y=30.9 /><use href=#b x=29 y=39 /><use href=#c x=59.1 y=39.1 /><use href=#b x=39 y=36.4 /><use href=#b x=45.6 y=46.6 /><use href=#b x=60.6 y=26.2 /><use href=#b x=32 y=49.1 /><use href=#a x=28.7 y=37.7 /><use href=#b x=30.4 y=46.9 /><use href=#c x=33.5 y=54 /><use href=#b x=51 y=51 /><use href=#b x=40.8 y=35.9 /><use href=#c x=54.9 y=45 /><use href=#c x=55.8 y=43.7 /><use href=#b x=50 y=52.8 /><use href=#a x=12 y=49.9 /><use href=#a x=33.8 y=40.2 /><use href=#b x=47 y=42.2 /><use href=#b x=15.4 y=52.1 /><use href=#b x=64.2 y=31.3 /><use href=#b x=59.5 y=40.2 /><use href=#b x=58.1 y=40.1 /><use href=#b x=53.2 y=37.5 /><use href=#b x=33.6 y=54.5 /><use href=#b x=66.1 y=36.4 /><use href=#b x=52.7 y=48.7 /><use href=#c x=51.8 y=47.5 /><use href=#b x=47.6 y=48.4 /><use href=#b x=36.5 y=39.9 /><use href=#b x=65.6 y=33.6 /><use href=#a x=60.4 y=8.6 /><use href=#b x=27.4 y=60.8 /><use href=#b x=25.9 y=50.6 /><use href=#b x=43.1 y=54.1 /><use href=#c x=42.1 y=43.3 /><use href=#b x=45.8 y=46.6 /><use href=#b x=38.6 y=54.7 /><use href=#b x=20.1 y=44.6 /><use href=#b x=46.7 y=43.4 /><use href=#b x=33.5 y=49.5 /><use href=#b x=16.9 y=51.1 /><use href=#c x=26.1 y=52.7 /><use href=#b x=21.7 y=53.9 /><use href=#b x=32.6 y=48 /><use href=#c x=53.8 y=51.4 /><use href=#b x=50.5 y=27.8 /><use href=#a x=17.5 y=62 /><use href=#c x=55 y=37.1 /><use href=#b x=41.8 y=53.7 /><use href=#b x=60 y=47.9 /><use href=#c x=36.5 y=52.2 /><use href=#b x=44.6 y=47.5 /><use href=#c x=66.3 y=31.4 /><use href=#c x=29.8 y=47.2 /><use href=#b x=34 y=57.1 /><use href=#a x=8.8 y=62 /><use href=#c x=48.7 y=47.4 /><use href=#b x=17.3 y=53 /><use href=#b x=49.7 y=42.4 /><use href=#b x=49.5 y=44.4 /><use href=#b x=53.3 y=41.2 /><use href=#c x=49.1 y=53.5 /><use href=#c x=34.9 y=58 /><use href=#a x=8.4 y=56.6 /><use href=#b x=66.5 y=40.3 /><use href=#b x=42.1 y=50 /><use href=#b x=26.6 y=48 /><use href=#a x=22.6 y=61 /><use href=#c x=49.3 y=39.6 /><use href=#a x=46.1 y=32.2 /><use href=#b x=14.1 y=59.2 /><use href=#b x=47.2 y=50.7 /><use href=#c x=34.7 y=57.6 /><use href=#b x=28.9 y=57.6 /><use href=#c x=59.4 y=50.6 /><use href=#a x=21.1 y=59.8 /><use href=#c x=59.9 y=42.8 /><use href=#b x=41 y=34.1 /><use href=#b x=33.3 y=44.2 /><use href=#b x=38.6 y=46.5 /><use href=#c x=63.9 y=37.7 /><use href=#b x=67.4 y=43.9 /><use href=#b x=14 y=59.4 /><use href=#b x=40.1 y=54.3 /><use href=#c x=58.4 y=38 /><use href=#b x=55.7 y=49.1 /><use href=#b x=34.1 y=47.9 /><use href=#a x=3.6 y=68.3 /><use href=#b x=40.9 y=45.3 /><use href=#c x=61.3 y=49.4 /><use href=#b x=30 y=42.3 /><use href=#b x=48.1 y=50.3 /><use href=#b x=39.3 y=45.5 /><use href=#a x=64.1 y=20.6 /><use href=#b x=36 y=54.1 /><use href=#b x=64.8 y=33.9 /><use href=#a x=60.2 y=8.8 /><use href=#b x=32.4 y=47.7 /><use href=#b x=42.2 y=53.2 /><use href=#c x=33.3 y=57.5 /><use href=#b x=49.3 y=51.4 /><use href=#b x=44.4 y=43.2 /><use href=#b x=36 y=57.2 /><use href=#b x=31.5 y=59.3 /><use href=#b x=41.5 y=50.2 /><use href=#b x=3.2 y=60 /><use href=#b x=49.6 y=53.5 /><use href=#b x=37.2 y=52.9 /><use href=#b x=53.8 y=52.3 /><use href=#c x=24.3 y=54.3 /><use href=#b x=38.9 y=35.8 /><use href=#c x=40.3 y=52.3 /><use href=#a x=41.7 y=35.3 /><use href=#b x=39.5 y=44.8 /><use href=#b x=28.5 y=51.2 /><use href=#c x=36.5 y=56.8 /><use href=#b x=16.9 y=55.6 /><use href=#a x=50.7 y=16.8 /><use href=#c x=35.1 y=46.5 /><use href=#b x=65.1 y=47.7 /><use href=#b x=35 y=51.8 /><use href=#b x=56.5 y=35.7 /><use href=#b x=67.4 y=23.1 /><use href=#b x=52 y=51.1 /><use href=#b x=30.3 y=48.1 /><use href=#b x=31.4 y=47.7 /><use href=#b x=41.7 y=43.1 /><use href=#b x=11.3 y=60.8 /><use href=#b x=26.9 y=51.6 /><use href=#b x=64.5 y=38.8 /><use href=#b x=29.8 y=49.5 /><use href=#b x=35.9 y=48.8 /><use href=#b x=33.9 y=39 /><use href=#c x=24.9 y=61.3 /><use href=#a x=17.4 y=63.2 /><use href=#c x=38.4 y=57.1 /><use href=#b x=43.5 y=51.8 /><use href=#c x=51.5 y=52.9 /><use href=#c x=52.5 y=50.6 /><use href=#b x=46.5 y=52.3 /><use href=#b x=59.8 y=42.5 /><use href=#c x=61.7 y=42.2 /><use href=#a x=35.3 y=44.8 /><use href=#b x=46.9 y=52 /><use href=#a x=21.7 y=42.8 /><use href=#b x=36.8 y=55.9 /><use href=#b x=27.5 y=45.5 /><use href=#a x=8.5 y=50 /><use href=#b x=61.5 y=37.8 /><use href=#b x=52.6 y=35.8 /><use href=#c x=36.7 y=56.8 /><use href=#c x=58.2 y=49.1 /><use href=#b x=42 y=39.7 /><use href=#a x=16.6 y=59.8 /><use href=#b x=55.7 y=49.9 /><use href=#b x=51.3 y=44.7 /><use href=#b x=52.1 y=38.9 /><use href=#b x=60.5 y=32.2 /><use href=#c x=25.7 y=60 /><use href=#b x=36.9 y=54.2 /><use href=#b x=26.5 y=44.9 /><use href=#c x=28.9 y=47.3 /><use href=#b x=48.7 y=51.2 /><use href=#c x=66.4 y=38.5 /><use href=#b x=30.1 y=42.2 /><use href=#b x=31.4 y=50 /><use href=#b x=42.4 y=54.4 /><use href=#c x=32.2 y=46.6 /><use href=#b x=35.2 y=57.1 /><use href=#a x=7.8 y=62.8 /><use href=#b x=52.1 y=48.3 /><use href=#c x=55.5 y=36.2 /><use href=#a x=18 y=62.8 /><use href=#a x=45.1 y=20.9 /><use href=#a x=5.9 y=52.1 /><use href=#b x=23 y=51.8 /><use href=#c x=37.2 y=54.7 /><use href=#c x=39.5 y=46.6 /><use href=#c x=45.7 y=54.7 /><use href=#b x=27.1 y=49.3 /><use href=#b x=55.4 y=47.9 /><use href=#b x=51.9 y=51.7 /><use href=#c x=51.3 y=50.4 /><use href=#b x=38.1 y=43.9 /><use href=#b x=41.6 y=41.9 /><use href=#b x=32.1 y=43.2 /><use href=#c x=55.7 y=37.5 /><use href=#a x=34.3 y=39.9 /><use href=#c x=43.9 y=55.5 /><use href=#b x=40.6 y=29.1 /><use href=#b x=44.3 y=48.3 /><use href=#b x=11.6 y=60.3 /><use href=#a x=24.7 y=55 /><use href=#b x=12.7 y=51.5 /><use href=#c x=34 y=57.1 /><use href=#b x=54.9 y=37.8 /><use href=#b x=63.4 y=48.9 /><use href=#c x=52.9 y=51.9 /><use href=#b x=67.2 y=47.9 /><use href=#b x=24.5 y=44.4 /><use href=#b x=41.3 y=39 /><use href=#b x=18.5 y=54.6 /><use href=#b x=37.5 y=57.1 /><use href=#c x=36.5 y=47.8 /><use href=#a x=34.8 y=33.1 /><use href=#b x=51.4 y=4.6 /><use href=#b x=31.4 y=57.7 /><use href=#b x=28.4 y=41.4 /><use href=#b x=57 y=40.5 /><use href=#b x=38.7 y=44.9 /><use href=#a x=5.4 y=66 /><use href=#b x=40.7 y=44.6 /><use href=#c x=64.3 y=40.4 /><use href=#b x=41.1 y=54.5 /><use href=#c x=56.4 y=37.8 /><use href=#b x=56 y=45.7 /><use href=#c x=44.9 y=55.7 /><use href=#b x=53.5 y=51.9 /><use href=#b x=36.8 y=46.4 /><use href=#b x=41.8 y=42.4 /><use href=#b x=51.9 y=44.9 /><use href=#b x=17.3 y=52.1 /><use href=#c x=62.2 y=46.6 /><use href=#a x=23.6 y=61.3 /><use href=#c x=51.8 y=45 /><use href=#c x=58.7 y=50.5 /><use href=#b x=32.5 y=48.6 /><use href=#b x=48.3 y=41.4 /><use href=#b x=62.1 y=46.9 /><use href=#b x=49.1 y=38.2 /><use href=#b x=30 y=53.8 /><use href=#b x=29.8 y=50.3 /><use href=#b x=41.8 y=29.3 /><use href=#b x=49.8 y=53.4 /><use href=#a x=38.9 y=29.5 /><use href=#b x=20.6 y=52.6 /><use href=#b x=22.8 y=54.2 /><use href=#b x=24.3 y=45.7 /><use href=#b x=41.2 y=49.9 /><use href=#b x=31.5 y=49.3 /><use href=#b x=53.6 y=48.7 /><use href=#b x=44.5 y=41.6 /><use href=#c x=63.3 y=48.9 /><use href=#a x=25.1 y=40.3 /><use href=#a x=57.8 y=15.9 /><use href=#b x=58.5 y=37.1 /><use href=#b x=37.1 y=46.3 /><use href=#b x=48 y=53.1 /><use href=#b x=52.6 y=51.5 /><use href=#b x=56.2 y=49.9 /><use href=#b x=55.9 y=49.2 /><use href=#b x=24.9 y=52.6 /><use href=#c x=44.4 y=44.9 /><use href=#c x=44.4 y=42.9 /><use href=#a x=20.6 y=40.7 /><use href=#b x=25.3 y=51.2 /><use href=#b x=11.9 y=53.7 /><use href=#b x=45.4 y=49 /><use href=#a x=41.1 y=35.4 /><use href=#c x=66 y=42.8 /><use href=#b x=28.9 y=57.9 /><use href=#c x=63.6 y=47.6 /><use href=#b x=29.4 y=48.7 /><use href=#b x=35.4 y=48.3 /><use href=#c x=64.6 y=43.7 /><use href=#b x=67.4 y=45.6 /><use href=#b x=51.9 y=37.4 /><use href=#b x=31.4 y=47.4 /><use href=#b x=63.8 y=30.2 /><use href=#b x=47.2 y=44.7 /><use href=#a x=41.3 y=38 /><use href=#a x=24.2 y=59.3 /><use href=#b x=25.6 y=44.7 /><use href=#c x=54.4 y=49.8 /><use href=#b x=43.5 y=54.8 /><use href=#b x=44.2 y=43 /><use href=#c x=43.5 y=43.9 /><use href=#b x=37.2 y=41.3 /><use href=#b x=24.2 y=52 /><use href=#b x=30.5 y=43.9 /><use href=#b x=54 y=48.8 /><use href=#b x=24.9 y=44.9 /><use href=#c x=36.6 y=57.6 /><use href=#b x=46.6 y=45.1 /><use href=#b x=31.3 y=51.1 /><use href=#b x=11.4 y=60.7 /><use href=#b x=45.3 y=53.1 /><use href=#b x=41.3 y=54.3 /><use href=#b x=32.7 y=42.2 /><use href=#b x=38.6 y=54.8 /><use href=#b x=34.3 y=43.1 /><use href=#b x=16.1 y=56.8 /><use href=#a x=3.2 y=60 /><use href=#c x=52.7 y=39.5 /><use href=#b x=28 y=51.4 /><use href=#b x=45.4 y=53.6 /><use href=#b x=30.5 y=42.4 /><use href=#b x=42.5 y=52.3 /><use href=#b x=51.3 y=28.3 /><use href=#b x=49.2 y=33.5 /><use href=#c x=59.3 y=44.3 /><use href=#b x=47.3 y=52.1 /><use href=#b x=56.5 y=47.9 /><use href=#c x=61.5 y=49.5 /><use href=#b x=49.9 y=44.9 /><use href=#c x=41.3 y=49.6 /><use href=#a x=17.4 y=43 /><use href=#b x=39.3 y=55.3 /><use href=#a x=31.5 y=43.9 /><use href=#b x=25 y=47.2 /><use href=#c x=64.4 y=40.1 /><use href=#b x=17 y=57.8 /><use href=#c x=42.8 y=46.3 /><use href=#c x=64.5 y=38.9 /><use href=#b x=46.8 y=51.5 /><use href=#b x=60.9 y=38 /><use href=#a x=31.9 y=41.4 /><use href=#b x=66.9 y=37 /><use href=#b x=48.4 y=54.1 /><use href=#c x=66.9 y=42.8 /><use href=#b x=17 y=51.1 /><use href=#a x=11.4 y=47.9 /><use href=#c x=54.4 y=51.9 /><use href=#b x=27.6 y=42.5 /><use href=#c x=52.6 y=44.9 /><use href=#c x=50.6 y=43.5 /><use href=#b x=14.4 y=51 /><use href=#b x=33.8 y=48.4 /><use href=#c x=38.6 y=51.8 /><use href=#b x=40.4 y=34.6 /><use href=#b x=19 y=51.5 /><use href=#b x=50.6 y=28.6 /><use href=#b x=26.6 y=52.7 /><use href=#b x=54 y=48.1 /><use href=#b x=27.3 y=51.8 /><use href=#a x=10.7 y=67.7 /><use href=#b x=48.4 y=51.9 /><use href=#a x=23.5 y=57.8 /><use href=#c x=58.2 y=36 /><use href=#b x=59.6 y=23 /><use href=#c x=32.5 y=49.8 /><use href=#a x=9.8 y=49.1 /><use href=#b x=54.7 y=45.3 /><use href=#b x=32.6 y=56.9 /><use href=#a x=54.7 y=26.5 /><use href=#b x=36.7 y=53.3 /><use href=#a x=22.9 y=47.2 /><use href=#b x=41.4 y=52.9 /><use href=#c x=24.5 y=62.8 /><use href=#a x=4.2 y=53.6 /><use href=#b x=52.3 y=50.6 /><use href=#b x=35.1 y=37.7 /><use href=#a x=24 y=61.5 /><use href=#b x=54.3 y=47.9 /><use href=#c x=29.2 y=58.2 /><use href=#b x=53.8 y=45.3 /><use href=#b x=15.7 y=49.3 /><use href=#b x=9 y=56.1 /><use href=#c x=49.9 y=53.5 /><use href=#c x=59.9 y=39 /><use href=#b x=35.5 y=47.9 /><use href=#b x=57 y=49.6 />
</g></g>
<rect x="207.6" y="342" width="70.6" height="72.6" fill="none" stroke="#808080" stroke-width="1.3"/>
<text class="t" x="207.6" y="425.1" text-anchor="middle">1</text>
<text class="t" x="241.1" y="425.1" text-anchor="middle">2</text>
<text class="t" x="274.6" y="425.1" text-anchor="middle">3</text>
<text class="t" x="203.6" y="407.2" text-anchor="end">2.5</text>
<text class="t" x="203.6" y="385.9" text-anchor="end">5.0</text>
<text class="t" x="203.6" y="364.7" text-anchor="end">7.5</text>
<path d="M207.6 414.6v2M241.1 414.6v2M274.6 414.6v2M207.6 404.4h-2M207.6 383.1h-2M207.6 361.9h-2" stroke="#444" stroke-width=".9"/>
<path d="M317.2 342v72.6M352.3 342v72.6M292.5 404.4h70.6M292.5 383.1h70.6M292.5 361.9h70.6" stroke="#d6d6d6" stroke-width=".8" stroke-dasharray="1.3 .9" fill="none"/>
<clipPath id="c43"><rect x="292.5" y="342" width="70.6" height="72.6"/></clipPath>
<g clip-path="url(#c43)"><g transform="translate(292.5 342)">
<use href=#b x=37.7 y=44.1 /><use href=#b x=7.1 y=50.9 /><use href=#b x=3.6 y=45.1 /><use href=#b x=12.4 y=46.3 /><use href=#b x=59.7 y=49.9 /><use href=#c x=10.6 y=42.5 /><use href=#b x=14.1 y=49.5 /><use href=#b x=39.9 y=51.9 /><use href=#b x=39.8 y=53.7 /><use href=#b x=19.4 y=51 /><use href=#b x=56.6 y=50.1 /><use href=#c x=26.4 y=47.3 /><use href=#b x=35.3 y=46 /><use href=#c x=35.6 y=51.2 /><use href=#a x=7.1 y=48 /><use href=#b x=22.9 y=47.9 /><use href=#b x=39.7 y=60.8 /><use href=#c x=54 y=51.7 /><use href=#b x=43.9 y=54.4 /><use href=#c x=21.1 y=43.1 /><use href=#b x=5.4 y=36.2 /><use href=#b x=12.4 y=35.3 /><use href=#c x=43.9 y=36.1 /><use href=#b x=48.2 y=43.7 /><use href=#c x=26.4 y=54.6 /><use href=#c x=15.9 y=45.7 /><use href=#a x=21.1 y=58.7 /><use href=#b x=14.1 y=48.4 /><use href=#a x=14.1 y=45.8 /><use href=#c x=31.7 y=33.6 /><use href=#a x=17.6 y=69.1 /><use href=#b x=8.9 y=52 /><use href=#b x=14.1 y=49.5 /><use href=#c x=59.7 y=32.8 /><use href=#c x=56.3 y=61.4 /><use href=#c x=12.4 y=34.2 /><use href=#b x=10.6 y=47.9 /><use href=#a x=26.4 y=60.4 /><use href=#b x=39 y=60.1 /><use href=#a x=15.9 y=53.4 /><use href=#c x=52 y=53.3 /><use href=#b x=5.4 y=54.6 /><use href=#a x=10.6 y=59.2 /><use href=#b x=35.3 y=44.8 /><use href=#a x=10.6 y=63 /><use href=#c x=42.5 y=48.7 /><use href=#c x=47.3 y=56.3 /><use href=#b x=22.9 y=48.3 /><use href=#c x=35.5 y=56.7 /><use href=#c x=43.9 y=33.2 /><use href=#b x=43.9 y=38.3 /><use href=#b x=33.4 y=46.8 /><use href=#b x=12.4 y=54.2 /><use href=#c x=51.9 y=50.3 /><use href=#c x=60.8 y=49.7 /><use href=#c x=60.9 y=54 /><use href=#b x=39.7 y=58.2 /><use href=#b x=48.2 y=44.3 /><use href=#a x=17.6 y=39.8 /><use href=#b x=5.4 y=41.3 /><use href=#b x=26.4 y=27 /><use href=#b x=47.2 y=49 /><use href=#b x=31.7 y=53.3 /><use href=#b x=28.2 y=51.5 /><use href=#b x=59.7 y=47.3 /><use href=#c x=15.9 y=44.1 /><use href=#a x=5.4 y=33 /><use href=#b x=5.4 y=53.9 /><use href=#b x=45 y=51 /><use href=#b x=33.4 y=58.9 /><use href=#b x=8.9 y=48.4 /><use href=#b x=31.7 y=51.2 /><use href=#c x=49.1 y=57.8 /><use href=#a x=10.6 y=10.4 /><use href=#a x=33.4 y=66.2 /><use href=#c x=48.2 y=37.5 /><use href=#a x=7.1 y=29.1 /><use href=#a x=12.4 y=43.6 /><use href=#b x=58.5 y=47.6 /><use href=#b x=37.1 y=49.6 /><use href=#b x=35.2 y=51.7 /><use href=#b x=35.8 y=49.4 /><use href=#b x=40.4 y=59.1 /><use href=#b x=28.2 y=30.9 /><use href=#b x=7.1 y=39 /><use href=#c x=36.4 y=39.1 /><use href=#b x=8.9 y=36.4 /><use href=#b x=5.4 y=46.6 /><use href=#b x=43.9 y=26.2 /><use href=#b x=10.6 y=49.1 /><use href=#a x=14.1 y=37.7 /><use href=#b x=14.1 y=46.9 /><use href=#c x=37.7 y=54 /><use href=#b x=22.9 y=51 /><use href=#b x=48.2 y=35.9 /><use href=#c x=44.4 y=45 /><use href=#c x=54.1 y=43.7 /><use href=#b x=14.1 y=52.8 /><use href=#a x=12.4 y=49.9 /><use href=#a x=7.1 y=40.2 /><use href=#b x=10.6 y=42.2 /><use href=#b x=7.1 y=52.1 /><use href=#b x=31.7 y=31.3 /><use href=#b x=28.2 y=40.2 /><use href=#b x=59.7 y=40.1 /><use href=#b x=59.7 y=37.5 /><use href=#b x=26.4 y=54.5 /><use href=#b x=43.9 y=36.4 /><use href=#b x=43.9 y=48.7 /><use href=#c x=35.5 y=47.5 /><use href=#b x=5.4 y=48.4 /><use href=#b x=43.9 y=39.9 /><use href=#b x=8.9 y=33.6 /><use href=#a x=7.1 y=8.6 /><use href=#b x=48.2 y=60.8 /><use href=#b x=36.8 y=50.6 /><use href=#b x=5.4 y=54.1 /><use href=#c x=35.5 y=43.3 /><use href=#b x=43.9 y=46.6 /><use href=#b x=17.6 y=54.7 /><use href=#b x=24.7 y=44.6 /><use href=#b x=29.9 y=43.4 /><use href=#b x=7.1 y=49.5 /><use href=#b x=15.9 y=51.1 /><use href=#c x=29.9 y=52.7 /><use href=#b x=10.6 y=53.9 /><use href=#b x=48.2 y=48 /><use href=#c x=7.1 y=51.4 /><use href=#b x=22.9 y=27.8 /><use href=#a x=26.4 y=62 /><use href=#c x=22.9 y=37.1 /><use href=#b x=29.9 y=53.7 /><use href=#b x=22.9 y=47.9 /><use href=#c x=54.4 y=52.2 /><use href=#b x=17.6 y=47.5 /><use href=#c x=43.9 y=31.4 /><use href=#c x=33.4 y=47.2 /><use href=#b x=17.6 y=57.1 /><use href=#a x=15.9 y=62 /><use href=#c x=61.2 y=47.4 /><use href=#b x=3.6 y=53 /><use href=#b x=5.4 y=42.4 /><use href=#b x=3.6 y=44.4 /><use href=#b x=14.1 y=41.2 /><use href=#c x=39.8 y=53.5 /><use href=#c x=67.4 y=58 /><use href=#a x=12.4 y=56.6 /><use href=#b x=48.2 y=40.3 /><use href=#b x=42.3 y=50 /><use href=#b x=43.9 y=48 /><use href=#a x=29.9 y=61 /><use href=#c x=43.9 y=39.6 /><use href=#a x=7.1 y=32.2 /><use href=#b x=28.2 y=59.2 /><use href=#b x=35.5 y=50.7 /><use href=#c x=61 y=57.6 /><use href=#b x=51.8 y=57.6 /><use href=#c x=29.9 y=50.6 /><use href=#a x=29.9 y=59.8 /><use href=#c x=54 y=42.8 /><use href=#b x=15.9 y=34.1 /><use href=#b x=17.6 y=44.2 /><use href=#b x=14.1 y=46.5 /><use href=#c x=33.4 y=37.7 /><use href=#b x=8.9 y=43.9 /><use href=#b x=36.3 y=59.4 /><use href=#b x=49.2 y=54.3 /><use href=#c x=17.6 y=38 /><use href=#b x=39.8 y=49.1 /><use href=#b x=14.1 y=47.9 /><use href=#a x=24.7 y=68.3 /><use href=#b x=22.9 y=45.3 /><use href=#c x=7.1 y=49.4 /><use href=#b x=14.1 y=42.3 /><use href=#b x=15.9 y=50.3 /><use href=#b x=48.2 y=45.5 /><use href=#a x=14.1 y=20.6 /><use href=#b x=22.9 y=54.1 /><use href=#b x=48.2 y=33.9 /><use href=#a x=8.9 y=8.8 /><use href=#b x=39.7 y=47.7 /><use href=#b x=33.4 y=53.2 /><use href=#c x=33.4 y=57.5 /><use href=#b x=10.6 y=51.4 /><use href=#b x=12.4 y=43.2 /><use href=#b x=19.4 y=57.2 /><use href=#b x=17.6 y=59.3 /><use href=#b x=19.4 y=50.2 /><use href=#b x=3.6 y=60 /><use href=#b x=19.4 y=53.5 /><use href=#b x=56.1 y=52.9 /><use href=#b x=48.2 y=52.3 /><use href=#c x=14.1 y=54.3 /><use href=#b x=5.4 y=35.8 /><use href=#c x=61.3 y=52.3 /><use href=#a x=21.1 y=35.3 /><use href=#b x=35.2 y=44.8 /><use href=#b x=3.6 y=51.2 /><use href=#c x=29.9 y=56.8 /><use href=#b x=14.1 y=55.6 /><use href=#a x=10.6 y=16.8 /><use href=#c x=48.2 y=46.5 /><use href=#b x=10.6 y=47.7 /><use href=#b x=24.7 y=51.8 /><use href=#b x=8.9 y=35.7 /><use href=#b x=5.4 y=23.1 /><use href=#b x=17.6 y=51.1 /><use href=#b x=3.6 y=48.1 /><use href=#b x=35.5 y=47.7 /><use href=#b x=24.7 y=43.1 /><use href=#b x=21.1 y=60.8 /><use href=#b x=21.1 y=51.6 /><use href=#b x=56.3 y=38.8 /><use href=#b x=8.9 y=49.5 /><use href=#b x=35.5 y=48.8 /><use href=#b x=17.6 y=39 /><use href=#c x=61.3 y=61.3 /><use href=#a x=10.6 y=63.2 /><use href=#c x=49.3 y=57.1 /><use href=#b x=19.4 y=51.8 /><use href=#c x=46.9 y=52.9 /><use href=#c x=38 y=50.6 /><use href=#b x=53.4 y=52.3 /><use href=#b x=8.9 y=42.5 /><use href=#c x=21.1 y=42.2 /><use href=#a x=5.4 y=44.8 /><use href=#b x=39.7 y=52 /><use href=#a x=7.1 y=42.8 /><use href=#b x=17.6 y=55.9 /><use href=#b x=48.2 y=45.5 /><use href=#a x=14.1 y=50 /><use href=#b x=22.9 y=37.8 /><use href=#b x=26.4 y=35.8 /><use href=#c x=49.1 y=56.8 /><use href=#c x=33.4 y=49.1 /><use href=#b x=33.4 y=39.7 /><use href=#a x=10.6 y=59.8 /><use href=#b x=28.2 y=49.9 /><use href=#b x=53.4 y=44.7 /><use href=#b x=10.6 y=38.9 /><use href=#b x=22.9 y=32.2 /><use href=#c x=35.2 y=60 /><use href=#b x=7.1 y=54.2 /><use href=#b x=21.1 y=44.9 /><use href=#c x=12.4 y=47.3 /><use href=#b x=7.1 y=51.2 /><use href=#c x=43.9 y=38.5 /><use href=#b x=8.9 y=42.2 /><use href=#b x=33.4 y=50 /><use href=#b x=15.9 y=54.4 /><use href=#c x=28.2 y=46.6 /><use href=#b x=35.5 y=57.1 /><use href=#a x=33.4 y=62.8 /><use href=#b x=14.1 y=48.3 /><use href=#c x=59.7 y=36.2 /><use href=#a x=14.1 y=62.8 /><use href=#a x=14.1 y=20.9 /><use href=#a x=15.9 y=52.1 /><use href=#b x=12.4 y=51.8 /><use href=#c x=43.9 y=54.7 /><use href=#c x=35.9 y=46.6 /><use href=#c x=8.9 y=54.7 /><use href=#b x=26.4 y=49.3 /><use href=#b x=5.4 y=47.9 /><use href=#b x=12.4 y=51.7 /><use href=#c x=10.6 y=50.4 /><use href=#b x=15.9 y=43.9 /><use href=#b x=35.5 y=41.9 /><use href=#b x=39.7 y=43.2 /><use href=#c x=5.4 y=37.5 /><use href=#a x=12.4 y=39.9 /><use href=#c x=56.3 y=55.5 /><use href=#b x=12.4 y=29.1 /><use href=#b x=44.7 y=48.3 /><use href=#b x=3.6 y=60.3 /><use href=#a x=29.9 y=55 /><use href=#b x=39.7 y=51.5 /><use href=#c x=39.7 y=57.1 /><use href=#b x=21.1 y=37.8 /><use href=#b x=35.4 y=48.9 /><use href=#c x=29.9 y=51.9 /><use href=#b x=8.9 y=47.9 /><use href=#b x=22.9 y=44.4 /><use href=#b x=35.2 y=39 /><use href=#b x=8.9 y=54.6 /><use href=#b x=26.4 y=57.1 /><use href=#c x=43.9 y=47.8 /><use href=#a x=5.4 y=33.1 /><use href=#b x=12.4 y=4.6 /><use href=#b x=35.5 y=57.7 /><use href=#b x=24.7 y=41.4 /><use href=#b x=19.4 y=40.5 /><use href=#b x=5.4 y=44.9 /><use href=#a x=24.7 y=66 /><use href=#b x=15.9 y=44.6 /><use href=#c x=22.9 y=40.4 /><use href=#b x=39.7 y=54.5 /><use href=#c x=35.8 y=37.8 /><use href=#b x=8.9 y=45.7 /><use href=#c x=43.9 y=55.7 /><use href=#b x=59.7 y=51.9 /><use href=#b x=35.9 y=46.4 /><use href=#b x=53.4 y=42.4 /><use href=#b x=59.7 y=44.9 /><use href=#b x=5.4 y=52.1 /><use href=#c x=61.4 y=46.6 /><use href=#a x=31.7 y=61.3 /><use href=#c x=43.9 y=45 /><use href=#c x=8.9 y=50.5 /><use href=#b x=35.2 y=48.6 /><use href=#b x=31.7 y=41.4 /><use href=#b x=22.9 y=46.9 /><use href=#b x=28.2 y=38.2 /><use href=#b x=24.7 y=53.8 /><use href=#b x=14.1 y=50.3 /><use href=#b x=59.7 y=29.3 /><use href=#b x=15.9 y=53.4 /><use href=#a x=5.4 y=29.5 /><use href=#b x=35.5 y=52.6 /><use href=#b x=28.2 y=54.2 /><use href=#b x=22.9 y=45.7 /><use href=#b x=10.6 y=49.9 /><use href=#b x=5.4 y=49.3 /><use href=#b x=15.9 y=48.7 /><use href=#b x=43.9 y=41.6 /><use href=#c x=44.5 y=48.9 /><use href=#a x=5.4 y=40.3 /><use href=#a x=7.1 y=15.9 /><use href=#b x=15.9 y=37.1 /><use href=#b x=35.5 y=46.3 /><use href=#b x=10.6 y=53.1 /><use href=#b x=42.7 y=51.5 /><use href=#b x=48.2 y=49.9 /><use href=#b x=15.9 y=49.2 /><use href=#b x=28.2 y=52.6 /><use href=#c x=35.5 y=44.9 /><use href=#c x=35.5 y=42.9 /><use href=#a x=10.6 y=40.7 /><use href=#b x=26.4 y=51.2 /><use href=#b x=24.7 y=53.7 /><use href=#b x=39.7 y=49 /><use href=#a x=3.6 y=35.4 /><use href=#c x=35.8 y=42.8 /><use href=#b x=39.6 y=57.9 /><use href=#c x=35.2 y=47.6 /><use href=#b x=7.1 y=48.7 /><use href=#b x=3.6 y=48.3 /><use href=#c x=43.9 y=43.7 /><use href=#b x=7.1 y=45.6 /><use href=#b x=33.4 y=37.4 /><use href=#b x=43.9 y=47.4 /><use href=#b x=31.7 y=30.2 /><use href=#b x=59.7 y=44.7 /><use href=#a x=7.1 y=38 /><use href=#a x=15.9 y=59.3 /><use href=#b x=59.7 y=44.7 /><use href=#c x=35.7 y=49.8 /><use href=#b x=12.4 y=54.8 /><use href=#b x=10.6 y=43 /><use href=#c x=59.7 y=43.9 /><use href=#b x=19.4 y=41.3 /><use href=#b x=12.4 y=52 /><use href=#b x=26.4 y=43.9 /><use href=#b x=22.9 y=48.8 /><use href=#b x=53.4 y=44.9 /><use href=#c x=29.9 y=57.6 /><use href=#b x=7.1 y=45.1 /><use href=#b x=7.1 y=51.1 /><use href=#b x=19.4 y=60.7 /><use href=#b x=10.6 y=53.1 /><use href=#b x=40.1 y=54.3 /><use href=#b x=24.7 y=42.2 /><use href=#b x=10.6 y=54.8 /><use href=#b x=43.9 y=43.1 /><use href=#b x=17.6 y=56.8 /><use href=#a x=17.6 y=60 /><use href=#c x=59.7 y=39.5 /><use href=#b x=15.9 y=51.4 /><use href=#b x=15.9 y=53.6 /><use href=#b x=35.2 y=42.4 /><use href=#b x=48.2 y=52.3 /><use href=#b x=3.6 y=28.3 /><use href=#b x=59.7 y=33.5 /><use href=#c x=44.4 y=44.3 /><use href=#b x=14.1 y=52.1 /><use href=#b x=48.2 y=47.9 /><use href=#c x=43.9 y=49.5 /><use href=#b x=24.7 y=44.9 /><use href=#c x=17.6 y=49.6 /><use href=#a x=14.1 y=43 /><use href=#b x=29.9 y=55.3 /><use href=#a x=7.1 y=43.9 /><use href=#b x=59.7 y=47.2 /><use href=#c x=33.4 y=40.1 /><use href=#b x=5.4 y=57.8 /><use href=#c x=12.4 y=46.3 /><use href=#c x=43.9 y=38.9 /><use href=#b x=56.4 y=51.5 /><use href=#b x=8.9 y=38 /><use href=#a x=19.4 y=41.4 /><use href=#b x=10.6 y=37 /><use href=#b x=48.2 y=54.1 /><use href=#c x=39.7 y=42.8 /><use href=#b x=22.9 y=51.1 /><use href=#a x=14.1 y=47.9 /><use href=#c x=35.5 y=51.9 /><use href=#b x=5.4 y=42.5 /><use href=#c x=61.3 y=44.9 /><use href=#c x=28.2 y=43.5 /><use href=#b x=35.9 y=51 /><use href=#b x=36.6 y=48.4 /><use href=#c x=43.9 y=51.8 /><use href=#b x=17.6 y=34.6 /><use href=#b x=14.1 y=51.5 /><use href=#b x=35.5 y=28.6 /><use href=#b x=53.4 y=52.7 /><use href=#b x=5.4 y=48.1 /><use href=#b x=17.6 y=51.8 /><use href=#a x=19.4 y=67.7 /><use href=#b x=31.7 y=51.9 /><use href=#a x=29.9 y=57.8 /><use href=#c x=39.7 y=36 /><use href=#b x=59.7 y=23 /><use href=#c x=15.9 y=49.8 /><use href=#a x=3.6 y=49.1 /><use href=#b x=48.2 y=45.3 /><use href=#b x=12.4 y=56.9 /><use href=#a x=5.4 y=26.5 /><use href=#b x=15.9 y=53.3 /><use href=#a x=5.4 y=47.2 /><use href=#b x=31.7 y=52.9 /><use href=#c x=61 y=62.8 /><use href=#a x=3.6 y=53.6 /><use href=#b x=39.7 y=50.6 /><use href=#b x=3.6 y=37.7 /><use href=#a x=14.1 y=61.5 /><use href=#b x=51.8 y=47.9 /><use href=#c x=33.4 y=58.2 /><use href=#b x=54.3 y=45.3 /><use href=#b x=43.9 y=49.3 /><use href=#b x=3.6 y=56.1 /><use href=#c x=39.7 y=53.5 /><use href=#c x=39.7 y=39 /><use href=#b x=5.4 y=47.9 /><use href=#b x=43.9 y=49.6 />
</g></g>
<rect x="292.5" y="342" width="70.6" height="72.6" fill="none" stroke="#808080" stroke-width="1.3"/>
<text class="t" x="317.2" y="425.1" text-anchor="middle">1</text>
<text class="t" x="352.3" y="425.1" text-anchor="middle">2</text>
<text class="t" x="288.5" y="407.2" text-anchor="end">2.5</text>
<text class="t" x="288.5" y="385.9" text-anchor="end">5.0</text>
<text class="t" x="288.5" y="364.7" text-anchor="end">7.5</text>
<path d="M317.2 414.6v2M352.3 414.6v2M292.5 404.4h-2M292.5 383.1h-2M292.5 361.9h-2" stroke="#444" stroke-width=".9"/>
<path d="M387.4 342v72.6M408.1 342v72.6M428.7 342v72.6M377.5 414.6h70.6M377.5 394.4h70.6M377.5 374.3h70.6M377.5 354.1h70.6" stroke="#d6d6d6" stroke-width=".8" stroke-dasharray="1.3 .9" fill="none"/>
<path d="M380.7 414.6h6.4v-3.6h-6.4zM387.1 414.6h6.4v-17.2h-6.4zM393.5 414.6h6.4v-50.8h-6.4zM400 414.6h6.4v-69.1h-6.4zM406.4 414.6h6.4v-55h-6.4zM412.8 414.6h6.4v-11.4h-6.4zM419.2 414.6h6.4v-7.4h-6.4zM425.6 414.6h6.4v-2.9h-6.4zM432 414.6h6.4v-0.7h-6.4zM438.5 414.6h6.4v-0.4h-6.4z" fill="#f8c45a" stroke="#2b2433" stroke-width="1"/>
<rect x="377.5" y="342" width="70.6" height="72.6" fill="none" stroke="#808080" stroke-width="1.3"/>
<text class="t" x="387.4" y="425.1" text-anchor="middle">2.5</text>
<text class="t" x="408.1" y="425.1" text-anchor="middle">5.0</text>
<text class="t" x="428.7" y="425.1" text-anchor="middle">7.5</text>
<text class="t" x="373.5" y="417.4" text-anchor="end">0</text>
<text class="t" x="373.5" y="397.2" text-anchor="end">50</text>
<text class="t" x="373.5" y="377.1" text-anchor="end">100</text>
<text class="t" x="373.5" y="356.9" text-anchor="end">150</text>
<path d="M387.4 414.6v2M408.1 414.6v2M428.7 414.6v2M377.5 414.6h-2M377.5 394.4h-2M377.5 374.3h-2M377.5 354.1h-2" stroke="#444" stroke-width=".9"/>
<ellipse cx="497.7" cy="378.3" rx="28.2" ry="29" fill="#e3abb0" stroke="#2a1e2a" stroke-width="1.2"/>
<text class="c" x="496.8" y="376.1" text-anchor="middle">Corr:</text>
<text class="c" x="497.7" y="384.9" text-anchor="middle">−0.67</text>
<path d="M54.8 425.9v72.6M83.4 425.9v72.6M37.6 483.3h70.6M37.6 462.2h70.6M37.6 441h70.6" stroke="#d6d6d6" stroke-width=".8" stroke-dasharray="1.3 .9" fill="none"/>
<clipPath id="c50"><rect x="37.6" y="425.9" width="70.6" height="72.6"/></clipPath>
<g clip-path="url(#c50)"><g transform="translate(37.6 425.9)">
<use href=#b x=39.3 y=46.3 /><use href=#b x=28.2 y=48.1 /><use href=#b x=26.6 y=53.8 /><use href=#b x=57.1 y=32.4 /><use href=#b x=29.7 y=47.9 /><use href=#c x=22.4 y=57.8 /><use href=#b x=25.2 y=51.6 /><use href=#b x=40.3 y=37.7 /><use href=#b x=40.2 y=35.2 /><use href=#b x=23.3 y=51.7 /><use href=#b x=47.4 y=34.5 /><use href=#c x=11.8 y=62.5 /><use href=#b x=38.3 y=45.3 /><use href=#c x=38.4 y=40 /><use href=#a x=28.7 y=50.2 /><use href=#b x=26.4 y=51.9 /><use href=#b x=23.4 y=40.3 /><use href=#c x=46.3 y=33.1 /><use href=#b x=29.2 y=43.7 /><use href=#c x=58.7 y=35 /><use href=#b x=27.8 y=57.8 /><use href=#b x=29.2 y=57.4 /><use href=#c x=31.7 y=55.7 /><use href=#b x=32.5 y=50.9 /><use href=#c x=8.9 y=60.9 /><use href=#c x=62.7 y=29.4 /><use href=#a x=32.2 y=34.6 /><use href=#b x=61.6 y=26.5 /><use href=#a x=24.8 y=54.5 /><use href=#c x=27.3 y=59.1 /><use href=#a x=27.9 y=10.7 /><use href=#b x=31.8 y=44.1 /><use href=#b x=24.8 y=51.9 /><use href=#c x=21.6 y=62.2 /><use href=#c x=47.3 y=12.2 /><use href=#c x=21.1 y=62 /><use href=#b x=25.9 y=52.3 /><use href=#a x=32.8 y=30.7 /><use href=#b x=30 y=34.3 /><use href=#a x=29.6 y=44.4 /><use href=#c x=45.4 y=31.5 /><use href=#b x=27.4 y=44.9 /><use href=#a x=32.4 y=33.4 /><use href=#b x=32.5 y=50.1 /><use href=#a x=31.9 y=25.6 /><use href=#c x=41.4 y=40.5 /><use href=#c x=43.4 y=28.1 /><use href=#b x=26.8 y=51.3 /><use href=#c x=27.2 y=42.5 /><use href=#c x=30.5 y=57.7 /><use href=#b x=56.3 y=41 /><use href=#b x=26.7 y=52.5 /><use href=#b x=32.8 y=40.8 /><use href=#c x=45.4 y=35.6 /><use href=#c x=49.2 y=33.6 /><use href=#c x=49.2 y=27.2 /><use href=#b x=31.4 y=36.3 /><use href=#b x=60.5 y=32.6 /><use href=#a x=21.5 y=59.6 /><use href=#b x=67.3 y=31.8 /><use href=#b x=31.1 y=59.6 /><use href=#b x=43.4 y=38.8 /><use href=#b x=27 y=46.7 /><use href=#b x=22.8 y=51.8 /><use href=#b x=28.7 y=50.8 /><use href=#c x=61.7 y=32 /><use href=#a x=26.1 y=59.9 /><use href=#b x=10.2 y=60.3 /><use href=#b x=42.4 y=37.1 /><use href=#b x=22.6 y=44 /><use href=#b x=28.2 y=50.2 /><use href=#b x=29.2 y=47 /><use href=#c x=44.2 y=24.5 /><use href=#a x=27 y=65.3 /><use href=#a x=30.6 y=17.9 /><use href=#c x=30.1 y=55.9 /><use href=#a x=26.4 y=61.1 /><use href=#a x=28.3 y=53.6 /><use href=#b x=48.2 y=36.9 /><use href=#b x=25 y=51.7 /><use href=#b x=30.3 y=45.7 /><use href=#b x=23.7 y=52.8 /><use href=#b x=40.4 y=25.4 /><use href=#b x=9.4 y=68.6 /><use href=#b x=9.8 y=66.6 /><use href=#c x=33.5 y=53.2 /><use href=#b x=27 y=58.1 /><use href=#b x=26.1 y=53.1 /><use href=#b x=30.4 y=60.2 /><use href=#b x=27.4 y=50.2 /><use href=#a x=31.4 y=55.1 /><use href=#b x=30 y=50.2 /><use href=#c x=39.3 y=35.5 /><use href=#b x=34.1 y=43.4 /><use href=#b x=26 y=58.8 /><use href=#c x=42.2 y=43.7 /><use href=#c x=46.3 y=42.2 /><use href=#b x=35 y=40.6 /><use href=#a x=34.2 y=44.6 /><use href=#a x=26.4 y=56.6 /><use href=#b x=24.7 y=56.6 /><use href=#b x=12.2 y=59.8 /><use href=#b x=29.9 y=58.7 /><use href=#b x=26.4 y=56.6 /><use href=#b x=61.4 y=36.5 /><use href=#b x=25.5 y=58.4 /><use href=#b x=27.9 y=44.7 /><use href=#b x=58.2 y=41.5 /><use href=#b x=22 y=54.5 /><use href=#c x=33.5 y=47.3 /><use href=#b x=53.3 y=32.4 /><use href=#b x=12 y=65.1 /><use href=#b x=63.4 y=40.9 /><use href=#a x=20.6 y=67.8 /><use href=#b x=27.7 y=35.5 /><use href=#b x=30.6 y=46.6 /><use href=#b x=30.4 y=43 /><use href=#c x=25.3 y=55.6 /><use href=#b x=27.5 y=52.2 /><use href=#b x=27.3 y=44.9 /><use href=#b x=8.9 y=65.5 /><use href=#b x=29 y=53.3 /><use href=#b x=25.5 y=51.4 /><use href=#b x=26.6 y=49.2 /><use href=#c x=9.8 y=61.3 /><use href=#b x=29.3 y=44.1 /><use href=#b x=13.3 y=61.1 /><use href=#c x=31.3 y=45.2 /><use href=#b x=30.7 y=59.6 /><use href=#a x=36.9 y=22.4 /><use href=#c x=30.8 y=55.7 /><use href=#b x=27.6 y=45.7 /><use href=#b x=31.6 y=48.3 /><use href=#c x=46.4 y=32.2 /><use href=#b x=28.7 y=50.7 /><use href=#c x=22.4 y=62.3 /><use href=#c x=12.7 y=61.9 /><use href=#b x=28.6 y=40.7 /><use href=#a x=27.1 y=33.8 /><use href=#c x=49.4 y=36.3 /><use href=#b x=25.4 y=48.3 /><use href=#b x=26.6 y=55.4 /><use href=#b x=28.7 y=52.8 /><use href=#b x=28.6 y=54.8 /><use href=#c x=40.2 y=35.5 /><use href=#c x=23.4 y=44.3 /><use href=#a x=26.6 y=43.2 /><use href=#b x=55.7 y=39.6 /><use href=#b x=41.3 y=39.1 /><use href=#b x=30.3 y=49.2 /><use href=#a x=31.1 y=31.4 /><use href=#c x=28.1 y=56 /><use href=#a x=18.1 y=64.1 /><use href=#b x=12.3 y=54.2 /><use href=#b x=28.4 y=48.1 /><use href=#c x=49.3 y=19.9 /><use href=#b x=45.3 y=23.7 /><use href=#c x=31.4 y=46 /><use href=#a x=27.3 y=37.7 /><use href=#c x=46.3 y=43 /><use href=#b x=14.7 y=65.3 /><use href=#b x=12 y=63.6 /><use href=#b x=27.2 y=52.4 /><use href=#c x=57.7 y=40.7 /><use href=#b x=25.9 y=55 /><use href=#b x=13.3 y=53 /><use href=#b x=44.2 y=30.9 /><use href=#c x=24.2 y=58.9 /><use href=#b x=40.2 y=41 /><use href=#b x=32.4 y=47.8 /><use href=#a x=28.1 y=13.8 /><use href=#b x=26.5 y=53.7 /><use href=#c x=27.6 y=49.9 /><use href=#b x=29.4 y=53.8 /><use href=#b x=22.9 y=52.6 /><use href=#b x=27.6 y=52.8 /><use href=#a x=29 y=62.4 /><use href=#b x=28.8 y=44.3 /><use href=#b x=60.6 y=42.2 /><use href=#a x=20.8 y=67.7 /><use href=#b x=26.2 y=52.2 /><use href=#b x=33.4 y=41.5 /><use href=#c x=37.4 y=31.6 /><use href=#b x=27.4 y=48.3 /><use href=#b x=25.1 y=55.8 /><use href=#b x=25.2 y=43.8 /><use href=#b x=30.5 y=35.2 /><use href=#b x=25.4 y=50.9 /><use href=#b x=27.1 y=37.7 /><use href=#b x=29.6 y=44.3 /><use href=#b x=47.2 y=30.7 /><use href=#b x=30.4 y=44.9 /><use href=#c x=7.3 y=62.5 /><use href=#b x=29 y=57.3 /><use href=#c x=49.4 y=29.7 /><use href=#a x=31.4 y=56.3 /><use href=#b x=30.2 y=51.6 /><use href=#b x=25.9 y=49.6 /><use href=#c x=31.8 y=38 /><use href=#b x=27.6 y=43.6 /><use href=#a x=19.7 y=66.8 /><use href=#c x=26.9 y=52.6 /><use href=#b x=64.3 y=25.6 /><use href=#b x=23.3 y=51.1 /><use href=#b x=30.9 y=56.3 /><use href=#b x=32.5 y=60.3 /><use href=#b x=32.1 y=44.9 /><use href=#b x=26.3 y=51.9 /><use href=#b x=28.5 y=50.6 /><use href=#b x=4.6 y=68.6 /><use href=#b x=9.9 y=55 /><use href=#b x=27.4 y=48.1 /><use href=#b x=47.2 y=45.7 /><use href=#b x=26.8 y=50.4 /><use href=#b x=27 y=50.8 /><use href=#b x=28 y=56.3 /><use href=#c x=49.4 y=10.1 /><use href=#a x=30.5 y=27.1 /><use href=#c x=44.3 y=25.9 /><use href=#b x=27.5 y=47.8 /><use href=#c x=43.2 y=33.8 /><use href=#c x=39.4 y=39.9 /><use href=#b x=23.6 y=50.5 /><use href=#b x=67.1 y=30.6 /><use href=#c x=22.8 y=57.8 /><use href=#a x=11.2 y=63.9 /><use href=#b x=26.3 y=48.6 /><use href=#a x=27.3 y=54.7 /><use href=#b x=34 y=37.4 /><use href=#b x=29.8 y=51.3 /><use href=#a x=30.2 y=47.4 /><use href=#b x=67.5 y=35.2 /><use href=#b x=21.6 y=61.2 /><use href=#c x=44.2 y=26.5 /><use href=#c x=37.4 y=43 /><use href=#b x=32 y=53.7 /><use href=#a x=30.7 y=34 /><use href=#b x=25.3 y=51.2 /><use href=#b x=59.7 y=32.7 /><use href=#b x=28 y=56.4 /><use href=#b x=28.7 y=58.9 /><use href=#c x=38.2 y=25.8 /><use href=#b x=32.9 y=40.7 /><use href=#b x=28.2 y=52.8 /><use href=#c x=12.8 y=61.8 /><use href=#b x=28.7 y=47.5 /><use href=#c x=26.5 y=57.4 /><use href=#b x=27.7 y=54.8 /><use href=#b x=21.8 y=53.7 /><use href=#b x=29.3 y=43.6 /><use href=#c x=7.7 y=65.6 /><use href=#b x=25.2 y=43.9 /><use href=#a x=28.2 y=30.8 /><use href=#b x=61.4 y=26.7 /><use href=#c x=31.3 y=55.9 /><use href=#a x=29.8 y=28.7 /><use href=#a x=26.4 y=63.4 /><use href=#a x=28.6 y=46.6 /><use href=#b x=11.4 y=60.5 /><use href=#c x=26 y=46 /><use href=#c x=30.9 y=49.8 /><use href=#c x=25.2 y=46.7 /><use href=#b x=9.4 y=63.3 /><use href=#b x=22.8 y=54.4 /><use href=#b x=31.2 y=45 /><use href=#c x=29.1 y=47.9 /><use href=#b x=24.9 y=55.6 /><use href=#b x=31.2 y=52.9 /><use href=#b x=8.4 y=66.2 /><use href=#c x=27.6 y=57.3 /><use href=#a x=21.4 y=59.7 /><use href=#c x=47.2 y=26.1 /><use href=#b x=12.1 y=67.7 /><use href=#b x=42.3 y=40.3 /><use href=#b x=26.2 y=38.1 /><use href=#a x=31.5 y=40.8 /><use href=#b x=4.6 y=66 /><use href=#c x=22.5 y=46.5 /><use href=#b x=25.6 y=58.2 /><use href=#b x=31.4 y=47.6 /><use href=#c x=25.2 y=49.6 /><use href=#b x=25.3 y=52.7 /><use href=#b x=14 y=62.3 /><use href=#b x=31.9 y=54.1 /><use href=#b x=5.2 y=64.1 /><use href=#b x=24.2 y=44.8 /><use href=#c x=27.9 y=50.9 /><use href=#a x=22.3 y=61.7 /><use href=#b x=29.2 y=65.6 /><use href=#b x=29.3 y=39 /><use href=#b x=4.4 y=69.1 /><use href=#b x=67 y=32.8 /><use href=#b x=26.4 y=54 /><use href=#a x=29 y=20.8 /><use href=#b x=29.4 y=52.2 /><use href=#c x=23.9 y=58 /><use href=#b x=32.8 y=40.4 /><use href=#c x=27.1 y=57.4 /><use href=#b x=27.5 y=52.8 /><use href=#c x=25.6 y=45.2 /><use href=#b x=64.5 y=18.4 /><use href=#b x=26.9 y=52.6 /><use href=#b x=11 y=64.9 /><use href=#b x=30.1 y=51.6 /><use href=#b x=6 y=64.7 /><use href=#c x=49.4 y=37.3 /><use href=#a x=29 y=33.1 /><use href=#c x=21.6 y=57.1 /><use href=#c x=21.9 y=53.3 /><use href=#b x=6.5 y=65.7 /><use href=#b x=24.8 y=57 /><use href=#b x=26.4 y=52.6 /><use href=#b x=27.7 y=56.9 /><use href=#b x=27.1 y=46.1 /><use href=#b x=6.8 y=64.8 /><use href=#b x=8.6 y=69.3 /><use href=#b x=24.4 y=48.8 /><use href=#a x=5.7 y=70.6 /><use href=#b x=14.5 y=57.6 /><use href=#b x=31.6 y=41.9 /><use href=#b x=31.5 y=50.1 /><use href=#b x=29.6 y=48 /><use href=#b x=12.7 y=60.9 /><use href=#b x=25.3 y=52.1 /><use href=#b x=25 y=56.8 /><use href=#c x=42.2 y=39.8 /><use href=#a x=23 y=58.6 /><use href=#a x=23 y=65.7 /><use href=#b x=67.2 y=36.1 /><use href=#b x=23.8 y=54.8 /><use href=#b x=29.2 y=45.2 /><use href=#b x=41.4 y=37.3 /><use href=#b x=22.2 y=53.5 /><use href=#b x=67.3 y=21.1 /><use href=#b x=9.9 y=61.3 /><use href=#c x=28.1 y=52.9 /><use href=#c x=33.5 y=50.8 /><use href=#a x=30 y=54.3 /><use href=#b x=22.3 y=52.5 /><use href=#b x=32.6 y=41.6 /><use href=#b x=27.5 y=50.3 /><use href=#a x=20.8 y=61.7 /><use href=#c x=28.6 y=53.9 /><use href=#b x=28.2 y=39.9 /><use href=#c x=24 y=53.9 /><use href=#b x=27.7 y=50.4 /><use href=#b x=28.9 y=49.9 /><use href=#c x=28.9 y=53.2 /><use href=#b x=28 y=52.5 /><use href=#b x=20.3 y=61.3 /><use href=#b x=27.6 y=51.5 /><use href=#b x=32.5 y=57.8 /><use href=#b x=57.3 y=34.2 /><use href=#a x=5.3 y=69.3 /><use href=#a x=37 y=28.5 /><use href=#b x=29.9 y=51.8 /><use href=#c x=38.4 y=41.5 /><use href=#b x=29 y=43.2 /><use href=#b x=26.4 y=55.1 /><use href=#c x=28.9 y=53.1 /><use href=#b x=30.1 y=53.9 /><use href=#b x=12.4 y=59.6 /><use href=#b x=12.7 y=63.3 /><use href=#b x=64.5 y=23.8 /><use href=#b x=3.7 y=68.7 /><use href=#c x=27.5 y=41.1 /><use href=#b x=57.1 y=33.9 /><use href=#b x=29.2 y=47.1 /><use href=#b x=9.2 y=56 /><use href=#b x=30.3 y=44.2 /><use href=#b x=32.4 y=41 /><use href=#b x=14 y=63.1 /><use href=#b x=31.1 y=41.5 /><use href=#b x=27.5 y=54.4 /><use href=#b x=9.4 y=59 /><use href=#a x=22 y=43 /><use href=#c x=30.3 y=54.8 /><use href=#b x=24.6 y=50.5 /><use href=#b x=25.3 y=47.8 /><use href=#b x=27.8 y=54.6 /><use href=#b x=24.2 y=50 /><use href=#b x=28 y=60.6 /><use href=#b x=30.8 y=57.4 /><use href=#c x=42.2 y=44.3 /><use href=#b x=29.9 y=45.7 /><use href=#b x=57.5 y=30.1 /><use href=#c x=21.6 y=54.3 /><use href=#b x=56 y=34.7 /><use href=#c x=25.5 y=51.3 /><use href=#a x=35.3 y=49.6 /><use href=#b x=33.3 y=38.8 /><use href=#a x=9.7 y=65.2 /><use href=#b x=24.9 y=53.5 /><use href=#c x=60.2 y=37.1 /><use href=#b x=5.3 y=62.3 /><use href=#c x=25.5 y=53.7 /><use href=#c x=30.6 y=54.9 /><use href=#b x=47.3 y=32.7 /><use href=#b x=67.5 y=35 /><use href=#a x=18.4 y=60.8 /><use href=#b x=67.2 y=36.1 /><use href=#b x=26 y=46.7 /><use href=#c x=27 y=54.9 /><use href=#b x=26.9 y=49 /><use href=#a x=25.7 y=52.5 /><use href=#c x=25.2 y=49.5 /><use href=#b x=11.3 y=64.6 /><use href=#c x=49.4 y=39.1 /><use href=#c x=60.4 y=33.5 /><use href=#b x=13.9 y=59.1 /><use href=#b x=31.8 y=47.7 /><use href=#c x=26.7 y=48.4 /><use href=#b x=27.7 y=58.5 /><use href=#b x=24.8 y=50.2 /><use href=#b x=33.1 y=58.2 /><use href=#b x=29 y=45.8 /><use href=#b x=27.5 y=51.1 /><use href=#b x=3.3 y=66.9 /><use href=#a x=30.9 y=12.1 /><use href=#b x=27 y=48.1 /><use href=#a x=31.9 y=36.4 /><use href=#c x=30.9 y=56.2 /><use href=#b x=25.1 y=63.4 /><use href=#c x=12 y=61.2 /><use href=#a x=27.7 y=50.1 /><use href=#b x=59.2 y=32.2 /><use href=#b x=27.5 y=42 /><use href=#a x=22.9 y=63.4 /><use href=#b x=28.5 y=45.5 /><use href=#a x=18.7 y=57.8 /><use href=#b x=31.7 y=43.3 /><use href=#c x=49.3 y=5.4 /><use href=#a x=23.2 y=49.6 /><use href=#b x=30.9 y=46.4 /><use href=#b x=23.1 y=59.6 /><use href=#a x=27.7 y=34.2 /><use href=#b x=45.3 y=38.6 /><use href=#c x=37.2 y=30.5 /><use href=#b x=46.4 y=40.7 /><use href=#b x=9.2 y=63.4 /><use href=#b x=29.4 y=41.2 /><use href=#c x=24.6 y=48.5 /><use href=#c x=31.3 y=54.5 /><use href=#b x=27.4 y=51.3 /><use href=#b x=29.7 y=48.2 />
</g></g>
<rect x="37.6" y="425.9" width="70.6" height="72.6" fill="none" stroke="#808080" stroke-width="1.3"/>
<text class="t" x="54.8" y="509" text-anchor="middle">200</text>
<text class="t" x="83.4" y="509" text-anchor="middle">400</text>
<text class="t" x="33.6" y="486.1" text-anchor="end">50</text>
<text class="t" x="33.6" y="465" text-anchor="end">100</text>
<text class="t" x="33.6" y="443.8" text-anchor="end">150</text>
<path d="M54.8 498.5v2M83.4 498.5v2M37.6 483.3h-2M37.6 462.2h-2M37.6 441h-2" stroke="#444" stroke-width=".9"/>
<path d="M129.9 425.9v72.6M173.5 425.9v72.6M122.6 483.3h70.6M122.6 462.2h70.6M122.6 441h70.6" stroke="#d6d6d6" stroke-width=".8" stroke-dasharray="1.3 .9" fill="none"/>
<clipPath id="c51"><rect x="122.6" y="425.9" width="70.6" height="72.6"/></clipPath>
<g clip-path="url(#c51)"><g transform="translate(122.6 425.9)">
<use href=#b x=48.4 y=46.3 /><use href=#b x=55.4 y=48.1 /><use href=#b x=29.3 y=53.8 /><use href=#b x=61.5 y=32.4 /><use href=#b x=30.9 y=47.9 /><use href=#c x=41.4 y=57.8 /><use href=#b x=50.5 y=51.6 /><use href=#b x=49.9 y=37.7 /><use href=#b x=65.4 y=35.2 /><use href=#b x=50.5 y=51.7 /><use href=#b x=60.6 y=34.5 /><use href=#c x=34.7 y=62.5 /><use href=#b x=47.7 y=45.3 /><use href=#c x=45.4 y=40 /><use href=#a x=20.8 y=50.2 /><use href=#b x=39.2 y=51.9 /><use href=#b x=54.6 y=40.3 /><use href=#c x=65.9 y=33.1 /><use href=#b x=60 y=43.7 /><use href=#c x=45.2 y=35 /><use href=#b x=35.9 y=57.8 /><use href=#b x=19.5 y=57.4 /><use href=#c x=40.1 y=55.7 /><use href=#b x=30.7 y=50.9 /><use href=#c x=34.3 y=60.9 /><use href=#c x=47.4 y=29.4 /><use href=#a x=38.7 y=34.6 /><use href=#b x=65.7 y=26.5 /><use href=#a x=21 y=54.5 /><use href=#c x=32.6 y=59.1 /><use href=#a x=56.5 y=10.7 /><use href=#b x=61.3 y=44.1 /><use href=#b x=22.5 y=51.9 /><use href=#c x=33.8 y=62.2 /><use href=#c x=62.2 y=12.2 /><use href=#c x=33 y=62 /><use href=#b x=18.9 y=52.3 /><use href=#a x=52.1 y=30.7 /><use href=#b x=59.3 y=34.3 /><use href=#a x=13.6 y=44.4 /><use href=#c x=44.9 y=31.5 /><use href=#b x=55.9 y=44.9 /><use href=#a x=51.6 y=33.4 /><use href=#b x=30.3 y=50.1 /><use href=#a x=65.3 y=25.6 /><use href=#c x=59.9 y=40.5 /><use href=#c x=56 y=28.1 /><use href=#b x=32.9 y=51.3 /><use href=#c x=64.4 y=42.5 /><use href=#c x=35 y=57.7 /><use href=#b x=41.7 y=41 /><use href=#b x=55.6 y=52.5 /><use href=#b x=22.1 y=40.8 /><use href=#c x=48.9 y=35.6 /><use href=#c x=59 y=33.6 /><use href=#c x=61.2 y=27.2 /><use href=#b x=56.6 y=36.3 /><use href=#b x=51.9 y=32.6 /><use href=#a x=21 y=59.6 /><use href=#b x=48.3 y=31.8 /><use href=#b x=19.8 y=59.6 /><use href=#b x=56 y=38.8 /><use href=#b x=33.6 y=46.7 /><use href=#b x=21.2 y=51.8 /><use href=#b x=57.6 y=50.8 /><use href=#c x=48.4 y=32 /><use href=#a x=20.9 y=59.9 /><use href=#b x=20.7 y=60.3 /><use href=#b x=61.1 y=37.1 /><use href=#b x=29.7 y=44 /><use href=#b x=38.6 y=50.2 /><use href=#b x=56.4 y=47 /><use href=#c x=49 y=24.5 /><use href=#a x=9.9 y=65.3 /><use href=#a x=55.9 y=17.9 /><use href=#c x=35.2 y=55.9 /><use href=#a x=21 y=61.1 /><use href=#a x=13.2 y=53.6 /><use href=#b x=58.5 y=36.9 /><use href=#b x=56.4 y=51.7 /><use href=#b x=51.4 y=45.7 /><use href=#b x=60.1 y=52.8 /><use href=#b x=65.1 y=25.4 /><use href=#b x=15.7 y=68.6 /><use href=#b x=15.2 y=66.6 /><use href=#c x=40.3 y=53.2 /><use href=#b x=20.3 y=58.1 /><use href=#b x=42.4 y=53.1 /><use href=#b x=24 y=60.2 /><use href=#b x=33.6 y=50.2 /><use href=#a x=13.6 y=55.1 /><use href=#b x=27.8 y=50.2 /><use href=#c x=47 y=35.5 /><use href=#b x=59.2 y=43.4 /><use href=#b x=21 y=58.8 /><use href=#c x=48.1 y=43.7 /><use href=#c x=46.2 y=42.2 /><use href=#b x=63.5 y=40.6 /><use href=#a x=13.4 y=44.6 /><use href=#a x=20.8 y=56.6 /><use href=#b x=35.3 y=56.6 /><use href=#b x=20.8 y=59.8 /><use href=#b x=32.5 y=58.7 /><use href=#b x=42.7 y=56.6 /><use href=#b x=41.2 y=36.5 /><use href=#b x=32.9 y=58.4 /><use href=#b x=48.5 y=44.7 /><use href=#b x=41.4 y=41.5 /><use href=#b x=54.5 y=54.5 /><use href=#c x=50.6 y=47.3 /><use href=#b x=48.4 y=32.4 /><use href=#b x=22.7 y=65.1 /><use href=#b x=36.6 y=40.9 /><use href=#a x=9.8 y=67.8 /><use href=#b x=61.9 y=35.5 /><use href=#b x=30.1 y=46.6 /><use href=#b x=59.2 y=43 /><use href=#c x=32.8 y=55.6 /><use href=#b x=42.5 y=52.2 /><use href=#b x=55.4 y=44.9 /><use href=#b x=14.2 y=65.5 /><use href=#b x=37.1 y=53.3 /><use href=#b x=35.9 y=51.4 /><use href=#b x=20.8 y=49.2 /><use href=#c x=34.6 y=61.3 /><use href=#b x=32.1 y=44.1 /><use href=#b x=32 y=61.1 /><use href=#c x=63.5 y=45.2 /><use href=#b x=19.2 y=59.6 /><use href=#a x=50.5 y=22.4 /><use href=#c x=33.8 y=55.7 /><use href=#b x=56.4 y=45.7 /><use href=#b x=60 y=48.3 /><use href=#c x=45.8 y=32.2 /><use href=#b x=43.2 y=50.7 /><use href=#c x=34 y=62.3 /><use href=#c x=27.8 y=61.9 /><use href=#b x=57.5 y=40.7 /><use href=#a x=35.8 y=33.8 /><use href=#c x=47.4 y=36.3 /><use href=#b x=24.8 y=48.3 /><use href=#b x=38.1 y=55.4 /><use href=#b x=41.8 y=52.8 /><use href=#b x=39.1 y=54.8 /><use href=#c x=64.8 y=35.5 /><use href=#c x=62.1 y=44.3 /><use href=#a x=21 y=43.2 /><use href=#b x=48.6 y=39.6 /><use href=#b x=46.7 y=39.1 /><use href=#b x=25.8 y=49.2 /><use href=#a x=55 y=31.4 /><use href=#c x=33 y=56 /><use href=#a x=20.7 y=64.1 /><use href=#b x=35.3 y=54.2 /><use href=#b x=54 y=48.1 /><use href=#c x=60.2 y=19.9 /><use href=#b x=52 y=23.7 /><use href=#c x=67.2 y=46 /><use href=#a x=48.1 y=37.7 /><use href=#c x=47.9 y=43 /><use href=#b x=19.1 y=65.3 /><use href=#b x=26.2 y=63.6 /><use href=#b x=35.2 y=52.4 /><use href=#c x=41.8 y=40.7 /><use href=#b x=57.1 y=55 /><use href=#b x=35.9 y=53 /><use href=#b x=56.1 y=30.9 /><use href=#c x=37.9 y=58.9 /><use href=#b x=58.8 y=41 /><use href=#b x=33.3 y=47.8 /><use href=#a x=53 y=13.8 /><use href=#b x=35.2 y=53.7 /><use href=#c x=65.7 y=49.9 /><use href=#b x=20.3 y=53.8 /><use href=#b x=54 y=52.6 /><use href=#b x=34 y=52.8 /><use href=#a x=20.8 y=62.4 /><use href=#b x=50.4 y=44.3 /><use href=#b x=36.5 y=42.2 /><use href=#a x=9.9 y=67.7 /><use href=#b x=31.3 y=52.2 /><use href=#b x=55.4 y=41.5 /><use href=#c x=57.8 y=31.6 /><use href=#b x=58.4 y=48.3 /><use href=#b x=34.7 y=55.8 /><use href=#b x=60.5 y=43.8 /><use href=#b x=62.2 y=35.2 /><use href=#b x=46.4 y=50.9 /><use href=#b x=20.9 y=37.7 /><use href=#b x=65.3 y=44.3 /><use href=#b x=48.3 y=30.7 /><use href=#b x=66.4 y=44.9 /><use href=#c x=36.2 y=62.5 /><use href=#b x=19.5 y=57.3 /><use href=#c x=50.5 y=29.7 /><use href=#a x=21 y=56.3 /><use href=#b x=33 y=51.6 /><use href=#b x=34.1 y=49.6 /><use href=#c x=59.8 y=38 /><use href=#b x=29.9 y=43.6 /><use href=#a x=10.1 y=66.8 /><use href=#c x=31.8 y=52.6 /><use href=#b x=64.8 y=25.6 /><use href=#b x=42.9 y=51.1 /><use href=#b x=32.9 y=56.3 /><use href=#b x=25.1 y=60.3 /><use href=#b x=60.6 y=44.9 /><use href=#b x=29.8 y=51.9 /><use href=#b x=30.3 y=50.6 /><use href=#b x=32 y=68.6 /><use href=#b x=36.2 y=55 /><use href=#b x=33.2 y=48.1 /><use href=#b x=44.2 y=45.7 /><use href=#b x=32.1 y=50.4 /><use href=#b x=37 y=50.8 /><use href=#b x=19.3 y=56.3 /><use href=#c x=60.1 y=10.1 /><use href=#a x=55.3 y=27.1 /><use href=#c x=63.3 y=25.9 /><use href=#b x=52.9 y=47.8 /><use href=#c x=65.7 y=33.8 /><use href=#c x=59.5 y=39.9 /><use href=#b x=57.6 y=50.5 /><use href=#b x=47.3 y=30.6 /><use href=#c x=48.3 y=57.8 /><use href=#a x=29 y=63.9 /><use href=#b x=57.2 y=48.6 /><use href=#a x=13.5 y=54.7 /><use href=#b x=57 y=37.4 /><use href=#b x=22.7 y=51.3 /><use href=#a x=9.8 y=47.4 /><use href=#b x=40.1 y=35.2 /><use href=#b x=30.1 y=61.2 /><use href=#c x=60.1 y=26.5 /><use href=#c x=61.6 y=43 /><use href=#b x=27.1 y=53.7 /><use href=#a x=41.2 y=34 /><use href=#b x=61 y=51.2 /><use href=#b x=43.8 y=32.7 /><use href=#b x=34.3 y=56.4 /><use href=#b x=31 y=58.9 /><use href=#c x=56 y=25.8 /><use href=#b x=51.7 y=40.7 /><use href=#b x=20.8 y=52.8 /><use href=#c x=26.9 y=61.8 /><use href=#b x=56.9 y=47.5 /><use href=#c x=45.3 y=57.4 /><use href=#b x=20.2 y=54.8 /><use href=#b x=34.8 y=53.7 /><use href=#b x=59.3 y=43.6 /><use href=#c x=29.1 y=65.6 /><use href=#b x=59.1 y=43.9 /><use href=#a x=36.8 y=30.8 /><use href=#b x=53 y=26.7 /><use href=#c x=32.8 y=55.9 /><use href=#a x=54.9 y=28.7 /><use href=#a x=9.9 y=63.4 /><use href=#a x=9.9 y=46.6 /><use href=#b x=29.1 y=60.5 /><use href=#c x=53.6 y=46 /><use href=#c x=36.4 y=49.8 /><use href=#c x=64.7 y=46.7 /><use href=#b x=28.8 y=63.3 /><use href=#b x=55.4 y=54.4 /><use href=#b x=62.2 y=45 /><use href=#c x=57.8 y=47.9 /><use href=#b x=30.1 y=55.6 /><use href=#b x=30 y=52.9 /><use href=#b x=23.6 y=66.2 /><use href=#c x=34.9 y=57.3 /><use href=#a x=20.8 y=59.7 /><use href=#c x=65.1 y=26.1 /><use href=#b x=13.8 y=67.7 /><use href=#b x=44.8 y=40.3 /><use href=#b x=34.8 y=38.1 /><use href=#a x=38.8 y=40.8 /><use href=#b x=16.6 y=66 /><use href=#c x=57.4 y=46.5 /><use href=#b x=34.8 y=58.2 /><use href=#b x=66.5 y=47.6 /><use href=#c x=63.8 y=49.6 /><use href=#b x=67.6 y=52.7 /><use href=#b x=18.3 y=62.3 /><use href=#b x=25.4 y=54.1 /><use href=#b x=29.8 y=64.1 /><use href=#b x=62.3 y=44.8 /><use href=#c x=35.6 y=50.9 /><use href=#a x=13.5 y=61.7 /><use href=#b x=3.3 y=65.6 /><use href=#b x=55.9 y=39 /><use href=#b x=17.7 y=69.1 /><use href=#b x=41.1 y=32.8 /><use href=#b x=32.4 y=54 /><use href=#a x=45.2 y=20.8 /><use href=#b x=33.7 y=52.2 /><use href=#c x=47.1 y=58 /><use href=#b x=57.9 y=40.4 /><use href=#c x=36 y=57.4 /><use href=#b x=50.6 y=52.8 /><use href=#c x=67.3 y=45.2 /><use href=#b x=64.7 y=18.4 /><use href=#b x=33.3 y=52.6 /><use href=#b x=31 y=64.9 /><use href=#b x=45 y=51.6 /><use href=#b x=23 y=64.7 /><use href=#c x=58.9 y=37.3 /><use href=#a x=57.9 y=33.1 /><use href=#c x=45 y=57.1 /><use href=#c x=66.2 y=53.3 /><use href=#b x=33 y=65.7 /><use href=#b x=35 y=57 /><use href=#b x=59.6 y=52.6 /><use href=#b x=30.7 y=56.9 /><use href=#b x=42.1 y=46.1 /><use href=#b x=33.7 y=64.8 /><use href=#b x=14.8 y=69.3 /><use href=#b x=65.1 y=48.8 /><use href=#a x=13 y=70.6 /><use href=#b x=28 y=57.6 /><use href=#b x=34 y=41.9 /><use href=#b x=19.9 y=50.1 /><use href=#b x=45.4 y=48 /><use href=#b x=33.6 y=60.9 /><use href=#b x=55.6 y=52.1 /><use href=#b x=32 y=56.8 /><use href=#c x=66.2 y=39.8 /><use href=#a x=13.6 y=58.6 /><use href=#a x=13.4 y=65.7 /><use href=#b x=36.5 y=36.1 /><use href=#b x=33.4 y=54.8 /><use href=#b x=61.9 y=45.2 /><use href=#b x=62.3 y=37.3 /><use href=#b x=61.7 y=53.5 /><use href=#b x=59.3 y=21.1 /><use href=#b x=33.1 y=61.3 /><use href=#c x=37.8 y=52.9 /><use href=#c x=34.2 y=50.8 /><use href=#a x=10.1 y=54.3 /><use href=#b x=30.4 y=52.5 /><use href=#b x=19.6 y=41.6 /><use href=#b x=47.6 y=50.3 /><use href=#a x=20.7 y=61.7 /><use href=#c x=53.4 y=53.9 /><use href=#b x=52.9 y=39.9 /><use href=#c x=62.9 y=53.9 /><use href=#b x=30.1 y=50.4 /><use href=#b x=35.6 y=49.9 /><use href=#c x=54.2 y=53.2 /><use href=#b x=61.3 y=52.5 /><use href=#b x=31.8 y=61.3 /><use href=#b x=29.7 y=51.5 /><use href=#b x=30.8 y=57.8 /><use href=#b x=40 y=34.2 /><use href=#a x=24.1 y=69.3 /><use href=#a x=51.2 y=28.5 /><use href=#b x=19.7 y=51.8 /><use href=#c x=59.4 y=41.5 /><use href=#b x=62.2 y=43.2 /><use href=#b x=34.1 y=55.1 /><use href=#c x=35.1 y=53.1 /><use href=#b x=25.2 y=53.9 /><use href=#b x=31 y=59.6 /><use href=#b x=23.1 y=63.3 /><use href=#b x=56.2 y=23.8 /><use href=#b x=19.2 y=68.7 /><use href=#c x=62.8 y=41.1 /><use href=#b x=40.2 y=33.9 /><use href=#b x=37.1 y=47.1 /><use href=#b x=35.8 y=56 /><use href=#b x=58.8 y=44.2 /><use href=#b x=57.6 y=41 /><use href=#b x=22.6 y=63.1 /><use href=#b x=55.7 y=41.5 /><use href=#b x=25.3 y=54.4 /><use href=#b x=31.9 y=59 /><use href=#a x=21 y=43 /><use href=#c x=35.7 y=54.8 /><use href=#b x=33.9 y=50.5 /><use href=#b x=60.6 y=47.8 /><use href=#b x=20.9 y=54.6 /><use href=#b x=53.2 y=50 /><use href=#b x=20.2 y=60.6 /><use href=#b x=24.4 y=57.4 /><use href=#c x=50.6 y=44.3 /><use href=#b x=58 y=45.7 /><use href=#b x=56.4 y=30.1 /><use href=#c x=66.1 y=54.3 /><use href=#b x=43.1 y=34.7 /><use href=#c x=44.7 y=51.3 /><use href=#a x=9.9 y=49.6 /><use href=#b x=58.4 y=38.8 /><use href=#a x=24 y=65.2 /><use href=#b x=22.8 y=53.5 /><use href=#c x=46.6 y=37.1 /><use href=#b x=35.7 y=62.3 /><use href=#c x=38.9 y=53.7 /><use href=#c x=44.5 y=54.9 /><use href=#b x=55.7 y=32.7 /><use href=#b x=40 y=35 /><use href=#a x=20.8 y=60.8 /><use href=#b x=43.1 y=36.1 /><use href=#b x=65.9 y=46.7 /><use href=#c x=54.3 y=54.9 /><use href=#b x=20.9 y=49 /><use href=#a x=10 y=52.5 /><use href=#c x=65.7 y=49.5 /><use href=#b x=18.5 y=64.6 /><use href=#c x=45.5 y=39.1 /><use href=#c x=41 y=33.5 /><use href=#b x=17.8 y=59.1 /><use href=#b x=34 y=47.7 /><use href=#c x=47.1 y=48.4 /><use href=#b x=19.3 y=58.5 /><use href=#b x=23.9 y=50.2 /><use href=#b x=20.1 y=58.2 /><use href=#b x=35.2 y=45.8 /><use href=#b x=54.3 y=51.1 /><use href=#b x=34 y=66.9 /><use href=#a x=65.7 y=12.1 /><use href=#b x=58.9 y=48.1 /><use href=#a x=45.1 y=36.4 /><use href=#c x=34.6 y=56.2 /><use href=#b x=20.3 y=63.4 /><use href=#c x=35.5 y=61.2 /><use href=#a x=9.9 y=50.1 /><use href=#b x=48.5 y=32.2 /><use href=#b x=54.9 y=42 /><use href=#a x=20.6 y=63.4 /><use href=#b x=48.9 y=45.5 /><use href=#a x=20.8 y=57.8 /><use href=#b x=53.6 y=43.3 /><use href=#c x=66.2 y=5.4 /><use href=#a x=9.9 y=49.6 /><use href=#b x=59.2 y=46.4 /><use href=#b x=18.7 y=59.6 /><use href=#a x=59.3 y=34.2 /><use href=#b x=54.3 y=38.6 /><use href=#c x=54.5 y=30.5 /><use href=#b x=47.5 y=40.7 /><use href=#b x=16.4 y=63.4 /><use href=#b x=20.6 y=41.2 /><use href=#c x=65.7 y=48.5 /><use href=#c x=40.8 y=54.5 /><use href=#b x=34.9 y=51.3 /><use href=#b x=61.7 y=48.2 />
</g></g>
<rect x="122.6" y="425.9" width="70.6" height="72.6" fill="none" stroke="#808080" stroke-width="1.3"/>
<text class="t" x="129.9" y="509" text-anchor="middle">5</text>
<text class="t" x="173.5" y="509" text-anchor="middle">10</text>
<text class="t" x="118.6" y="486.1" text-anchor="end">50</text>
<text class="t" x="118.6" y="465" text-anchor="end">100</text>
<text class="t" x="118.6" y="443.8" text-anchor="end">150</text>
<path d="M129.9 498.5v2M173.5 498.5v2M122.6 483.3h-2M122.6 462.2h-2M122.6 441h-2" stroke="#444" stroke-width=".9"/>
<path d="M207.6 425.9v72.6M241.1 425.9v72.6M274.6 425.9v72.6M207.6 483.3h70.6M207.6 462.2h70.6M207.6 441h70.6" stroke="#d6d6d6" stroke-width=".8" stroke-dasharray="1.3 .9" fill="none"/>
<clipPath id="c52"><rect x="207.6" y="425.9" width="70.6" height="72.6"/></clipPath>
<g clip-path="url(#c52)"><g transform="translate(207.6 425.9)">
<use href=#b x=57.5 y=46.3 /><use href=#b x=47.9 y=48.1 /><use href=#b x=35.1 y=53.8 /><use href=#b x=65.6 y=32.4 /><use href=#b x=28.1 y=47.9 /><use href=#c x=53.2 y=57.8 /><use href=#b x=46.9 y=51.6 /><use href=#b x=40.9 y=37.7 /><use href=#b x=49.1 y=35.2 /><use href=#b x=43.3 y=51.7 /><use href=#b x=54.7 y=34.5 /><use href=#c x=36.5 y=62.5 /><use href=#b x=52.4 y=45.3 /><use href=#c x=38.5 y=40 /><use href=#a x=21.7 y=50.2 /><use href=#b x=39.8 y=51.9 /><use href=#b x=22.9 y=40.3 /><use href=#c x=55.1 y=33.1 /><use href=#b x=42.9 y=43.7 /><use href=#c x=56.2 y=35 /><use href=#b x=59.4 y=57.8 /><use href=#b x=39.7 y=57.4 /><use href=#c x=65.1 y=55.7 /><use href=#b x=39.2 y=50.9 /><use href=#c x=22 y=60.9 /><use href=#c x=52.6 y=29.4 /><use href=#a x=17.3 y=34.6 /><use href=#b x=64 y=26.5 /><use href=#a x=25.3 y=54.5 /><use href=#c x=60 y=59.1 /><use href=#a x=3.2 y=10.7 /><use href=#b x=50.2 y=44.1 /><use href=#b x=21 y=51.9 /><use href=#c x=63.2 y=62.2 /><use href=#c x=26 y=12.2 /><use href=#c x=59.5 y=62 /><use href=#b x=20 y=52.3 /><use href=#a x=22.3 y=30.7 /><use href=#b x=27.6 y=34.3 /><use href=#a x=7.4 y=44.4 /><use href=#c x=33.5 y=31.5 /><use href=#b x=39.2 y=44.9 /><use href=#a x=24.8 y=33.4 /><use href=#b x=36.7 y=50.1 /><use href=#a x=23.3 y=25.6 /><use href=#c x=57.6 y=40.5 /><use href=#c x=34.9 y=28.1 /><use href=#b x=32.8 y=51.3 /><use href=#c x=40.2 y=42.5 /><use href=#c x=64.1 y=57.7 /><use href=#b x=62.6 y=41 /><use href=#b x=58.3 y=52.5 /><use href=#b x=13.2 y=40.8 /><use href=#c x=43.5 y=35.6 /><use href=#c x=54.3 y=33.6 /><use href=#c x=45 y=27.2 /><use href=#b x=30.6 y=36.3 /><use href=#b x=60.7 y=32.6 /><use href=#a x=34.7 y=59.6 /><use href=#b x=63.8 y=31.8 /><use href=#b x=52.7 y=59.6 /><use href=#b x=53.3 y=38.8 /><use href=#b x=24 y=46.7 /><use href=#b x=16.7 y=51.8 /><use href=#b x=59 y=50.8 /><use href=#c x=57.4 y=32 /><use href=#a x=45.1 y=59.9 /><use href=#b x=12.5 y=60.3 /><use href=#b x=52.9 y=37.1 /><use href=#b x=10.8 y=44 /><use href=#b x=38.1 y=50.2 /><use href=#b x=48.1 y=47 /><use href=#c x=26.3 y=24.5 /><use href=#a x=58.4 y=65.3 /><use href=#a x=10.1 y=17.9 /><use href=#c x=55.9 y=55.9 /><use href=#a x=51.3 y=61.1 /><use href=#a x=20.2 y=53.6 /><use href=#b x=59.2 y=36.9 /><use href=#b x=52.2 y=51.7 /><use href=#b x=42.6 y=45.7 /><use href=#b x=56.2 y=52.8 /><use href=#b x=34 y=25.4 /><use href=#b x=40.8 y=68.6 /><use href=#b x=29 y=66.6 /><use href=#c x=59.1 y=53.2 /><use href=#b x=39 y=58.1 /><use href=#b x=45.6 y=53.1 /><use href=#b x=60.6 y=60.2 /><use href=#b x=32 y=50.2 /><use href=#a x=28.7 y=55.1 /><use href=#b x=30.4 y=50.2 /><use href=#c x=33.5 y=35.5 /><use href=#b x=51 y=43.4 /><use href=#b x=40.8 y=58.8 /><use href=#c x=54.9 y=43.7 /><use href=#c x=55.8 y=42.2 /><use href=#b x=50 y=40.6 /><use href=#a x=12 y=44.6 /><use href=#a x=33.8 y=56.6 /><use href=#b x=47 y=56.6 /><use href=#b x=15.4 y=59.8 /><use href=#b x=64.2 y=58.7 /><use href=#b x=59.5 y=56.6 /><use href=#b x=58.1 y=36.5 /><use href=#b x=53.2 y=58.4 /><use href=#b x=33.6 y=44.7 /><use href=#b x=66.1 y=41.5 /><use href=#b x=52.7 y=54.5 /><use href=#c x=51.8 y=47.3 /><use href=#b x=47.6 y=32.4 /><use href=#b x=36.5 y=65.1 /><use href=#b x=65.6 y=40.9 /><use href=#a x=60.4 y=67.8 /><use href=#b x=27.4 y=35.5 /><use href=#b x=25.9 y=46.6 /><use href=#b x=43.1 y=43 /><use href=#c x=42.1 y=55.6 /><use href=#b x=45.8 y=52.2 /><use href=#b x=38.6 y=44.9 /><use href=#b x=20.1 y=65.5 /><use href=#b x=46.7 y=53.3 /><use href=#b x=33.5 y=51.4 /><use href=#b x=16.9 y=49.2 /><use href=#c x=26.1 y=61.3 /><use href=#b x=21.7 y=44.1 /><use href=#b x=32.6 y=61.1 /><use href=#c x=53.8 y=45.2 /><use href=#b x=50.5 y=59.6 /><use href=#a x=17.5 y=22.4 /><use href=#c x=55 y=55.7 /><use href=#b x=41.8 y=45.7 /><use href=#b x=60 y=48.3 /><use href=#c x=36.5 y=32.2 /><use href=#b x=44.6 y=50.7 /><use href=#c x=66.3 y=62.3 /><use href=#c x=29.8 y=61.9 /><use href=#b x=34 y=40.7 /><use href=#a x=8.8 y=33.8 /><use href=#c x=48.7 y=36.3 /><use href=#b x=17.3 y=48.3 /><use href=#b x=49.7 y=55.4 /><use href=#b x=49.5 y=52.8 /><use href=#b x=53.3 y=54.8 /><use href=#c x=49.1 y=35.5 /><use href=#c x=34.9 y=44.3 /><use href=#a x=8.4 y=43.2 /><use href=#b x=66.5 y=39.6 /><use href=#b x=42.1 y=39.1 /><use href=#b x=26.6 y=49.2 /><use href=#a x=22.6 y=31.4 /><use href=#c x=49.3 y=56 /><use href=#a x=46.1 y=64.1 /><use href=#b x=14.1 y=54.2 /><use href=#b x=47.2 y=48.1 /><use href=#c x=34.7 y=19.9 /><use href=#b x=28.9 y=23.7 /><use href=#c x=59.4 y=46 /><use href=#a x=21.1 y=37.7 /><use href=#c x=59.9 y=43 /><use href=#b x=41 y=65.3 /><use href=#b x=33.3 y=63.6 /><use href=#b x=38.6 y=52.4 /><use href=#c x=63.9 y=40.7 /><use href=#b x=67.4 y=55 /><use href=#b x=14 y=53 /><use href=#b x=40.1 y=30.9 /><use href=#c x=58.4 y=58.9 /><use href=#b x=55.7 y=41 /><use href=#b x=34.1 y=47.8 /><use href=#a x=3.6 y=13.8 /><use href=#b x=40.9 y=53.7 /><use href=#c x=61.3 y=49.9 /><use href=#b x=30 y=53.8 /><use href=#b x=48.1 y=52.6 /><use href=#b x=39.3 y=52.8 /><use href=#a x=64.1 y=62.4 /><use href=#b x=36 y=44.3 /><use href=#b x=64.8 y=42.2 /><use href=#a x=60.2 y=67.7 /><use href=#b x=32.4 y=52.2 /><use href=#b x=42.2 y=41.5 /><use href=#c x=33.3 y=31.6 /><use href=#b x=49.3 y=48.3 /><use href=#b x=44.4 y=55.8 /><use href=#b x=36 y=43.8 /><use href=#b x=31.5 y=35.2 /><use href=#b x=41.5 y=50.9 /><use href=#b x=3.2 y=37.7 /><use href=#b x=49.6 y=44.3 /><use href=#b x=37.2 y=30.7 /><use href=#b x=53.8 y=44.9 /><use href=#c x=24.3 y=62.5 /><use href=#b x=38.9 y=57.3 /><use href=#c x=40.3 y=29.7 /><use href=#a x=41.7 y=56.3 /><use href=#b x=39.5 y=51.6 /><use href=#b x=28.5 y=49.6 /><use href=#c x=36.5 y=38 /><use href=#b x=16.9 y=43.6 /><use href=#a x=50.7 y=66.8 /><use href=#c x=35.1 y=52.6 /><use href=#b x=65.1 y=25.6 /><use href=#b x=35 y=51.1 /><use href=#b x=56.5 y=56.3 /><use href=#b x=67.4 y=60.3 /><use href=#b x=52 y=44.9 /><use href=#b x=30.3 y=51.9 /><use href=#b x=31.4 y=50.6 /><use href=#b x=41.7 y=68.6 /><use href=#b x=11.3 y=55 /><use href=#b x=26.9 y=48.1 /><use href=#b x=64.5 y=45.7 /><use href=#b x=29.8 y=50.4 /><use href=#b x=35.9 y=50.8 /><use href=#b x=33.9 y=56.3 /><use href=#c x=24.9 y=10.1 /><use href=#a x=17.4 y=27.1 /><use href=#c x=38.4 y=25.9 /><use href=#b x=43.5 y=47.8 /><use href=#c x=51.5 y=33.8 /><use href=#c x=52.5 y=39.9 /><use href=#b x=46.5 y=50.5 /><use href=#b x=59.8 y=30.6 /><use href=#c x=61.7 y=57.8 /><use href=#a x=35.3 y=63.9 /><use href=#b x=46.9 y=48.6 /><use href=#a x=21.7 y=54.7 /><use href=#b x=36.8 y=37.4 /><use href=#b x=27.5 y=51.3 /><use href=#a x=8.5 y=47.4 /><use href=#b x=61.5 y=35.2 /><use href=#b x=52.6 y=61.2 /><use href=#c x=36.7 y=26.5 /><use href=#c x=58.2 y=43 /><use href=#b x=42 y=53.7 /><use href=#a x=16.6 y=34 /><use href=#b x=55.7 y=51.2 /><use href=#b x=51.3 y=32.7 /><use href=#b x=52.1 y=56.4 /><use href=#b x=60.5 y=58.9 /><use href=#c x=25.7 y=25.8 /><use href=#b x=36.9 y=40.7 /><use href=#b x=26.5 y=52.8 /><use href=#c x=28.9 y=61.8 /><use href=#b x=48.7 y=47.5 /><use href=#c x=66.4 y=57.4 /><use href=#b x=30.1 y=54.8 /><use href=#b x=31.4 y=53.7 /><use href=#b x=42.4 y=43.6 /><use href=#c x=32.2 y=65.6 /><use href=#b x=35.2 y=43.9 /><use href=#a x=7.8 y=30.8 /><use href=#b x=52.1 y=26.7 /><use href=#c x=55.5 y=55.9 /><use href=#a x=18 y=28.7 /><use href=#a x=45.1 y=63.4 /><use href=#a x=5.9 y=46.6 /><use href=#b x=23 y=60.5 /><use href=#c x=37.2 y=46 /><use href=#c x=39.5 y=49.8 /><use href=#c x=45.7 y=46.7 /><use href=#b x=27.1 y=63.3 /><use href=#b x=55.4 y=54.4 /><use href=#b x=51.9 y=45 /><use href=#c x=51.3 y=47.9 /><use href=#b x=38.1 y=55.6 /><use href=#b x=41.6 y=52.9 /><use href=#b x=32.1 y=66.2 /><use href=#c x=55.7 y=57.3 /><use href=#a x=34.3 y=59.7 /><use href=#c x=43.9 y=26.1 /><use href=#b x=40.6 y=67.7 /><use href=#b x=44.3 y=40.3 /><use href=#b x=11.6 y=38.1 /><use href=#a x=24.7 y=40.8 /><use href=#b x=12.7 y=66 /><use href=#c x=34 y=46.5 /><use href=#b x=54.9 y=58.2 /><use href=#b x=63.4 y=47.6 /><use href=#c x=52.9 y=49.6 /><use href=#b x=67.2 y=52.7 /><use href=#b x=24.5 y=62.3 /><use href=#b x=41.3 y=54.1 /><use href=#b x=18.5 y=64.1 /><use href=#b x=37.5 y=44.8 /><use href=#c x=36.5 y=50.9 /><use href=#a x=34.8 y=61.7 /><use href=#b x=51.4 y=65.6 /><use href=#b x=31.4 y=39 /><use href=#b x=28.4 y=69.1 /><use href=#b x=57 y=32.8 /><use href=#b x=38.7 y=54 /><use href=#a x=5.4 y=20.8 /><use href=#b x=40.7 y=52.2 /><use href=#c x=64.3 y=58 /><use href=#b x=41.1 y=40.4 /><use href=#c x=56.4 y=57.4 /><use href=#b x=56 y=52.8 /><use href=#c x=44.9 y=45.2 /><use href=#b x=53.5 y=18.4 /><use href=#b x=36.8 y=52.6 /><use href=#b x=41.8 y=64.9 /><use href=#b x=51.9 y=51.6 /><use href=#b x=17.3 y=64.7 /><use href=#c x=62.2 y=37.3 /><use href=#a x=23.6 y=33.1 /><use href=#c x=51.8 y=57.1 /><use href=#c x=58.7 y=53.3 /><use href=#b x=32.5 y=65.7 /><use href=#b x=48.3 y=57 /><use href=#b x=62.1 y=52.6 /><use href=#b x=49.1 y=56.9 /><use href=#b x=30 y=46.1 /><use href=#b x=29.8 y=64.8 /><use href=#b x=41.8 y=69.3 /><use href=#b x=49.8 y=48.8 /><use href=#a x=38.9 y=70.6 /><use href=#b x=20.6 y=57.6 /><use href=#b x=22.8 y=41.9 /><use href=#b x=24.3 y=50.1 /><use href=#b x=41.2 y=48 /><use href=#b x=31.5 y=60.9 /><use href=#b x=53.6 y=52.1 /><use href=#b x=44.5 y=56.8 /><use href=#c x=63.3 y=39.8 /><use href=#a x=25.1 y=58.6 /><use href=#a x=57.8 y=65.7 /><use href=#b x=58.5 y=36.1 /><use href=#b x=37.1 y=54.8 /><use href=#b x=48 y=45.2 /><use href=#b x=52.6 y=37.3 /><use href=#b x=56.2 y=53.5 /><use href=#b x=55.9 y=21.1 /><use href=#b x=24.9 y=61.3 /><use href=#c x=44.4 y=52.9 /><use href=#c x=44.4 y=50.8 /><use href=#a x=20.6 y=54.3 /><use href=#b x=25.3 y=52.5 /><use href=#b x=11.9 y=41.6 /><use href=#b x=45.4 y=50.3 /><use href=#a x=41.1 y=61.7 /><use href=#c x=66 y=53.9 /><use href=#b x=28.9 y=39.9 /><use href=#c x=63.6 y=53.9 /><use href=#b x=29.4 y=50.4 /><use href=#b x=35.4 y=49.9 /><use href=#c x=64.6 y=53.2 /><use href=#b x=67.4 y=52.5 /><use href=#b x=51.9 y=61.3 /><use href=#b x=31.4 y=51.5 /><use href=#b x=63.8 y=57.8 /><use href=#b x=47.2 y=34.2 /><use href=#a x=41.3 y=69.3 /><use href=#a x=24.2 y=28.5 /><use href=#b x=25.6 y=51.8 /><use href=#c x=54.4 y=41.5 /><use href=#b x=43.5 y=43.2 /><use href=#b x=44.2 y=55.1 /><use href=#c x=43.5 y=53.1 /><use href=#b x=37.2 y=53.9 /><use href=#b x=24.2 y=59.6 /><use href=#b x=30.5 y=63.3 /><use href=#b x=54 y=23.8 /><use href=#b x=24.9 y=68.7 /><use href=#c x=36.6 y=41.1 /><use href=#b x=46.6 y=33.9 /><use href=#b x=31.3 y=47.1 /><use href=#b x=11.4 y=56 /><use href=#b x=45.3 y=44.2 /><use href=#b x=41.3 y=41 /><use href=#b x=32.7 y=63.1 /><use href=#b x=38.6 y=41.5 /><use href=#b x=34.3 y=54.4 /><use href=#b x=16.1 y=59 /><use href=#a x=3.2 y=43 /><use href=#c x=52.7 y=54.8 /><use href=#b x=28 y=50.5 /><use href=#b x=45.4 y=47.8 /><use href=#b x=30.5 y=54.6 /><use href=#b x=42.5 y=50 /><use href=#b x=51.3 y=60.6 /><use href=#b x=49.2 y=57.4 /><use href=#c x=59.3 y=44.3 /><use href=#b x=47.3 y=45.7 /><use href=#b x=56.5 y=30.1 /><use href=#c x=61.5 y=54.3 /><use href=#b x=49.9 y=34.7 /><use href=#c x=41.3 y=51.3 /><use href=#a x=17.4 y=49.6 /><use href=#b x=39.3 y=38.8 /><use href=#a x=31.5 y=65.2 /><use href=#b x=25 y=53.5 /><use href=#c x=64.4 y=37.1 /><use href=#b x=17 y=62.3 /><use href=#c x=42.8 y=53.7 /><use href=#c x=64.5 y=54.9 /><use href=#b x=46.8 y=32.7 /><use href=#b x=60.9 y=35 /><use href=#a x=31.9 y=60.8 /><use href=#b x=66.9 y=36.1 /><use href=#b x=48.4 y=46.7 /><use href=#c x=66.9 y=54.9 /><use href=#b x=17 y=49 /><use href=#a x=11.4 y=52.5 /><use href=#c x=54.4 y=49.5 /><use href=#b x=27.6 y=64.6 /><use href=#c x=52.6 y=39.1 /><use href=#c x=50.6 y=33.5 /><use href=#b x=14.4 y=59.1 /><use href=#b x=33.8 y=47.7 /><use href=#c x=38.6 y=48.4 /><use href=#b x=40.4 y=58.5 /><use href=#b x=19 y=50.2 /><use href=#b x=50.6 y=58.2 /><use href=#b x=26.6 y=45.8 /><use href=#b x=54 y=51.1 /><use href=#b x=27.3 y=66.9 /><use href=#a x=10.7 y=12.1 /><use href=#b x=48.4 y=48.1 /><use href=#a x=23.5 y=36.4 /><use href=#c x=58.2 y=56.2 /><use href=#b x=59.6 y=63.4 /><use href=#c x=32.5 y=61.2 /><use href=#a x=9.8 y=50.1 /><use href=#b x=54.7 y=32.2 /><use href=#b x=32.6 y=42 /><use href=#a x=54.7 y=63.4 /><use href=#b x=36.7 y=45.5 /><use href=#a x=22.9 y=57.8 /><use href=#b x=41.4 y=43.3 /><use href=#c x=24.5 y=5.4 /><use href=#a x=4.2 y=49.6 /><use href=#b x=52.3 y=46.4 /><use href=#b x=35.1 y=59.6 /><use href=#a x=24 y=34.2 /><use href=#b x=54.3 y=38.6 /><use href=#c x=29.2 y=30.5 /><use href=#b x=53.8 y=40.7 /><use href=#b x=15.7 y=63.4 /><use href=#b x=9 y=41.2 /><use href=#c x=49.9 y=48.5 /><use href=#c x=59.9 y=54.5 /><use href=#b x=35.5 y=51.3 /><use href=#b x=57 y=48.2 />
</g></g>
<rect x="207.6" y="425.9" width="70.6" height="72.6" fill="none" stroke="#808080" stroke-width="1.3"/>
<text class="t" x="207.6" y="509" text-anchor="middle">1</text>
<text class="t" x="241.1" y="509" text-anchor="middle">2</text>
<text class="t" x="274.6" y="509" text-anchor="middle">3</text>
<text class="t" x="203.6" y="486.1" text-anchor="end">50</text>
<text class="t" x="203.6" y="465" text-anchor="end">100</text>
<text class="t" x="203.6" y="443.8" text-anchor="end">150</text>
<path d="M207.6 498.5v2M241.1 498.5v2M274.6 498.5v2M207.6 483.3h-2M207.6 462.2h-2M207.6 441h-2" stroke="#444" stroke-width=".9"/>
<path d="M317.2 425.9v72.6M352.3 425.9v72.6M292.5 483.3h70.6M292.5 462.2h70.6M292.5 441h70.6" stroke="#d6d6d6" stroke-width=".8" stroke-dasharray="1.3 .9" fill="none"/>
<clipPath id="c53"><rect x="292.5" y="425.9" width="70.6" height="72.6"/></clipPath>
<g clip-path="url(#c53)"><g transform="translate(292.5 425.9)">
<use href=#b x=37.7 y=46.3 /><use href=#b x=7.1 y=48.1 /><use href=#b x=3.6 y=53.8 /><use href=#b x=12.4 y=32.4 /><use href=#b x=59.7 y=47.9 /><use href=#c x=10.6 y=57.8 /><use href=#b x=14.1 y=51.6 /><use href=#b x=39.9 y=37.7 /><use href=#b x=39.8 y=35.2 /><use href=#b x=19.4 y=51.7 /><use href=#b x=56.6 y=34.5 /><use href=#c x=26.4 y=62.5 /><use href=#b x=35.3 y=45.3 /><use href=#c x=35.6 y=40 /><use href=#a x=7.1 y=50.2 /><use href=#b x=22.9 y=51.9 /><use href=#b x=39.7 y=40.3 /><use href=#c x=54 y=33.1 /><use href=#b x=43.9 y=43.7 /><use href=#c x=21.1 y=35 /><use href=#b x=5.4 y=57.8 /><use href=#b x=12.4 y=57.4 /><use href=#c x=43.9 y=55.7 /><use href=#b x=48.2 y=50.9 /><use href=#c x=26.4 y=60.9 /><use href=#c x=15.9 y=29.4 /><use href=#a x=21.1 y=34.6 /><use href=#b x=14.1 y=26.5 /><use href=#a x=14.1 y=54.5 /><use href=#c x=31.7 y=59.1 /><use href=#a x=17.6 y=10.7 /><use href=#b x=8.9 y=44.1 /><use href=#b x=14.1 y=51.9 /><use href=#c x=59.7 y=62.2 /><use href=#c x=56.3 y=12.2 /><use href=#c x=12.4 y=62 /><use href=#b x=10.6 y=52.3 /><use href=#a x=26.4 y=30.7 /><use href=#b x=39 y=34.3 /><use href=#a x=15.9 y=44.4 /><use href=#c x=52 y=31.5 /><use href=#b x=5.4 y=44.9 /><use href=#a x=10.6 y=33.4 /><use href=#b x=35.3 y=50.1 /><use href=#a x=10.6 y=25.6 /><use href=#c x=42.5 y=40.5 /><use href=#c x=47.3 y=28.1 /><use href=#b x=22.9 y=51.3 /><use href=#c x=35.5 y=42.5 /><use href=#c x=43.9 y=57.7 /><use href=#b x=43.9 y=41 /><use href=#b x=33.4 y=52.5 /><use href=#b x=12.4 y=40.8 /><use href=#c x=51.9 y=35.6 /><use href=#c x=60.8 y=33.6 /><use href=#c x=60.9 y=27.2 /><use href=#b x=39.7 y=36.3 /><use href=#b x=48.2 y=32.6 /><use href=#a x=17.6 y=59.6 /><use href=#b x=5.4 y=31.8 /><use href=#b x=26.4 y=59.6 /><use href=#b x=47.2 y=38.8 /><use href=#b x=31.7 y=46.7 /><use href=#b x=28.2 y=51.8 /><use href=#b x=59.7 y=50.8 /><use href=#c x=15.9 y=32 /><use href=#a x=5.4 y=59.9 /><use href=#b x=5.4 y=60.3 /><use href=#b x=45 y=37.1 /><use href=#b x=33.4 y=44 /><use href=#b x=8.9 y=50.2 /><use href=#b x=31.7 y=47 /><use href=#c x=49.1 y=24.5 /><use href=#a x=10.6 y=65.3 /><use href=#a x=33.4 y=17.9 /><use href=#c x=48.2 y=55.9 /><use href=#a x=7.1 y=61.1 /><use href=#a x=12.4 y=53.6 /><use href=#b x=58.5 y=36.9 /><use href=#b x=37.1 y=51.7 /><use href=#b x=35.2 y=45.7 /><use href=#b x=35.8 y=52.8 /><use href=#b x=40.4 y=25.4 /><use href=#b x=28.2 y=68.6 /><use href=#b x=7.1 y=66.6 /><use href=#c x=36.4 y=53.2 /><use href=#b x=8.9 y=58.1 /><use href=#b x=5.4 y=53.1 /><use href=#b x=43.9 y=60.2 /><use href=#b x=10.6 y=50.2 /><use href=#a x=14.1 y=55.1 /><use href=#b x=14.1 y=50.2 /><use href=#c x=37.7 y=35.5 /><use href=#b x=22.9 y=43.4 /><use href=#b x=48.2 y=58.8 /><use href=#c x=44.4 y=43.7 /><use href=#c x=54.1 y=42.2 /><use href=#b x=14.1 y=40.6 /><use href=#a x=12.4 y=44.6 /><use href=#a x=7.1 y=56.6 /><use href=#b x=10.6 y=56.6 /><use href=#b x=7.1 y=59.8 /><use href=#b x=31.7 y=58.7 /><use href=#b x=28.2 y=56.6 /><use href=#b x=59.7 y=36.5 /><use href=#b x=59.7 y=58.4 /><use href=#b x=26.4 y=44.7 /><use href=#b x=43.9 y=41.5 /><use href=#b x=43.9 y=54.5 /><use href=#c x=35.5 y=47.3 /><use href=#b x=5.4 y=32.4 /><use href=#b x=43.9 y=65.1 /><use href=#b x=8.9 y=40.9 /><use href=#a x=7.1 y=67.8 /><use href=#b x=48.2 y=35.5 /><use href=#b x=36.8 y=46.6 /><use href=#b x=5.4 y=43 /><use href=#c x=35.5 y=55.6 /><use href=#b x=43.9 y=52.2 /><use href=#b x=17.6 y=44.9 /><use href=#b x=24.7 y=65.5 /><use href=#b x=29.9 y=53.3 /><use href=#b x=7.1 y=51.4 /><use href=#b x=15.9 y=49.2 /><use href=#c x=29.9 y=61.3 /><use href=#b x=10.6 y=44.1 /><use href=#b x=48.2 y=61.1 /><use href=#c x=7.1 y=45.2 /><use href=#b x=22.9 y=59.6 /><use href=#a x=26.4 y=22.4 /><use href=#c x=22.9 y=55.7 /><use href=#b x=29.9 y=45.7 /><use href=#b x=22.9 y=48.3 /><use href=#c x=54.4 y=32.2 /><use href=#b x=17.6 y=50.7 /><use href=#c x=43.9 y=62.3 /><use href=#c x=33.4 y=61.9 /><use href=#b x=17.6 y=40.7 /><use href=#a x=15.9 y=33.8 /><use href=#c x=61.2 y=36.3 /><use href=#b x=3.6 y=48.3 /><use href=#b x=5.4 y=55.4 /><use href=#b x=3.6 y=52.8 /><use href=#b x=14.1 y=54.8 /><use href=#c x=39.8 y=35.5 /><use href=#c x=67.4 y=44.3 /><use href=#a x=12.4 y=43.2 /><use href=#b x=48.2 y=39.6 /><use href=#b x=42.3 y=39.1 /><use href=#b x=43.9 y=49.2 /><use href=#a x=29.9 y=31.4 /><use href=#c x=43.9 y=56 /><use href=#a x=7.1 y=64.1 /><use href=#b x=28.2 y=54.2 /><use href=#b x=35.5 y=48.1 /><use href=#c x=61 y=19.9 /><use href=#b x=51.8 y=23.7 /><use href=#c x=29.9 y=46 /><use href=#a x=29.9 y=37.7 /><use href=#c x=54 y=43 /><use href=#b x=15.9 y=65.3 /><use href=#b x=17.6 y=63.6 /><use href=#b x=14.1 y=52.4 /><use href=#c x=33.4 y=40.7 /><use href=#b x=8.9 y=55 /><use href=#b x=36.3 y=53 /><use href=#b x=49.2 y=30.9 /><use href=#c x=17.6 y=58.9 /><use href=#b x=39.8 y=41 /><use href=#b x=14.1 y=47.8 /><use href=#a x=24.7 y=13.8 /><use href=#b x=22.9 y=53.7 /><use href=#c x=7.1 y=49.9 /><use href=#b x=14.1 y=53.8 /><use href=#b x=15.9 y=52.6 /><use href=#b x=48.2 y=52.8 /><use href=#a x=14.1 y=62.4 /><use href=#b x=22.9 y=44.3 /><use href=#b x=48.2 y=42.2 /><use href=#a x=8.9 y=67.7 /><use href=#b x=39.7 y=52.2 /><use href=#b x=33.4 y=41.5 /><use href=#c x=33.4 y=31.6 /><use href=#b x=10.6 y=48.3 /><use href=#b x=12.4 y=55.8 /><use href=#b x=19.4 y=43.8 /><use href=#b x=17.6 y=35.2 /><use href=#b x=19.4 y=50.9 /><use href=#b x=3.6 y=37.7 /><use href=#b x=19.4 y=44.3 /><use href=#b x=56.1 y=30.7 /><use href=#b x=48.2 y=44.9 /><use href=#c x=14.1 y=62.5 /><use href=#b x=5.4 y=57.3 /><use href=#c x=61.3 y=29.7 /><use href=#a x=21.1 y=56.3 /><use href=#b x=35.2 y=51.6 /><use href=#b x=3.6 y=49.6 /><use href=#c x=29.9 y=38 /><use href=#b x=14.1 y=43.6 /><use href=#a x=10.6 y=66.8 /><use href=#c x=48.2 y=52.6 /><use href=#b x=10.6 y=25.6 /><use href=#b x=24.7 y=51.1 /><use href=#b x=8.9 y=56.3 /><use href=#b x=5.4 y=60.3 /><use href=#b x=17.6 y=44.9 /><use href=#b x=3.6 y=51.9 /><use href=#b x=35.5 y=50.6 /><use href=#b x=24.7 y=68.6 /><use href=#b x=21.1 y=55 /><use href=#b x=21.1 y=48.1 /><use href=#b x=56.3 y=45.7 /><use href=#b x=8.9 y=50.4 /><use href=#b x=35.5 y=50.8 /><use href=#b x=17.6 y=56.3 /><use href=#c x=61.3 y=10.1 /><use href=#a x=10.6 y=27.1 /><use href=#c x=49.3 y=25.9 /><use href=#b x=19.4 y=47.8 /><use href=#c x=46.9 y=33.8 /><use href=#c x=38 y=39.9 /><use href=#b x=53.4 y=50.5 /><use href=#b x=8.9 y=30.6 /><use href=#c x=21.1 y=57.8 /><use href=#a x=5.4 y=63.9 /><use href=#b x=39.7 y=48.6 /><use href=#a x=7.1 y=54.7 /><use href=#b x=17.6 y=37.4 /><use href=#b x=48.2 y=51.3 /><use href=#a x=14.1 y=47.4 /><use href=#b x=22.9 y=35.2 /><use href=#b x=26.4 y=61.2 /><use href=#c x=49.1 y=26.5 /><use href=#c x=33.4 y=43 /><use href=#b x=33.4 y=53.7 /><use href=#a x=10.6 y=34 /><use href=#b x=28.2 y=51.2 /><use href=#b x=53.4 y=32.7 /><use href=#b x=10.6 y=56.4 /><use href=#b x=22.9 y=58.9 /><use href=#c x=35.2 y=25.8 /><use href=#b x=7.1 y=40.7 /><use href=#b x=21.1 y=52.8 /><use href=#c x=12.4 y=61.8 /><use href=#b x=7.1 y=47.5 /><use href=#c x=43.9 y=57.4 /><use href=#b x=8.9 y=54.8 /><use href=#b x=33.4 y=53.7 /><use href=#b x=15.9 y=43.6 /><use href=#c x=28.2 y=65.6 /><use href=#b x=35.5 y=43.9 /><use href=#a x=33.4 y=30.8 /><use href=#b x=14.1 y=26.7 /><use href=#c x=59.7 y=55.9 /><use href=#a x=14.1 y=28.7 /><use href=#a x=14.1 y=63.4 /><use href=#a x=15.9 y=46.6 /><use href=#b x=12.4 y=60.5 /><use href=#c x=43.9 y=46 /><use href=#c x=35.9 y=49.8 /><use href=#c x=8.9 y=46.7 /><use href=#b x=26.4 y=63.3 /><use href=#b x=5.4 y=54.4 /><use href=#b x=12.4 y=45 /><use href=#c x=10.6 y=47.9 /><use href=#b x=15.9 y=55.6 /><use href=#b x=35.5 y=52.9 /><use href=#b x=39.7 y=66.2 /><use href=#c x=5.4 y=57.3 /><use href=#a x=12.4 y=59.7 /><use href=#c x=56.3 y=26.1 /><use href=#b x=12.4 y=67.7 /><use href=#b x=44.7 y=40.3 /><use href=#b x=3.6 y=38.1 /><use href=#a x=29.9 y=40.8 /><use href=#b x=39.7 y=66 /><use href=#c x=39.7 y=46.5 /><use href=#b x=21.1 y=58.2 /><use href=#b x=35.4 y=47.6 /><use href=#c x=29.9 y=49.6 /><use href=#b x=8.9 y=52.7 /><use href=#b x=22.9 y=62.3 /><use href=#b x=35.2 y=54.1 /><use href=#b x=8.9 y=64.1 /><use href=#b x=26.4 y=44.8 /><use href=#c x=43.9 y=50.9 /><use href=#a x=5.4 y=61.7 /><use href=#b x=12.4 y=65.6 /><use href=#b x=35.5 y=39 /><use href=#b x=24.7 y=69.1 /><use href=#b x=19.4 y=32.8 /><use href=#b x=5.4 y=54 /><use href=#a x=24.7 y=20.8 /><use href=#b x=15.9 y=52.2 /><use href=#c x=22.9 y=58 /><use href=#b x=39.7 y=40.4 /><use href=#c x=35.8 y=57.4 /><use href=#b x=8.9 y=52.8 /><use href=#c x=43.9 y=45.2 /><use href=#b x=59.7 y=18.4 /><use href=#b x=35.9 y=52.6 /><use href=#b x=53.4 y=64.9 /><use href=#b x=59.7 y=51.6 /><use href=#b x=5.4 y=64.7 /><use href=#c x=61.4 y=37.3 /><use href=#a x=31.7 y=33.1 /><use href=#c x=43.9 y=57.1 /><use href=#c x=8.9 y=53.3 /><use href=#b x=35.2 y=65.7 /><use href=#b x=31.7 y=57 /><use href=#b x=22.9 y=52.6 /><use href=#b x=28.2 y=56.9 /><use href=#b x=24.7 y=46.1 /><use href=#b x=14.1 y=64.8 /><use href=#b x=59.7 y=69.3 /><use href=#b x=15.9 y=48.8 /><use href=#a x=5.4 y=70.6 /><use href=#b x=35.5 y=57.6 /><use href=#b x=28.2 y=41.9 /><use href=#b x=22.9 y=50.1 /><use href=#b x=10.6 y=48 /><use href=#b x=5.4 y=60.9 /><use href=#b x=15.9 y=52.1 /><use href=#b x=43.9 y=56.8 /><use href=#c x=44.5 y=39.8 /><use href=#a x=5.4 y=58.6 /><use href=#a x=7.1 y=65.7 /><use href=#b x=15.9 y=36.1 /><use href=#b x=35.5 y=54.8 /><use href=#b x=10.6 y=45.2 /><use href=#b x=42.7 y=37.3 /><use href=#b x=48.2 y=53.5 /><use href=#b x=15.9 y=21.1 /><use href=#b x=28.2 y=61.3 /><use href=#c x=35.5 y=52.9 /><use href=#c x=35.5 y=50.8 /><use href=#a x=10.6 y=54.3 /><use href=#b x=26.4 y=52.5 /><use href=#b x=24.7 y=41.6 /><use href=#b x=39.7 y=50.3 /><use href=#a x=3.6 y=61.7 /><use href=#c x=35.8 y=53.9 /><use href=#b x=39.6 y=39.9 /><use href=#c x=35.2 y=53.9 /><use href=#b x=7.1 y=50.4 /><use href=#b x=3.6 y=49.9 /><use href=#c x=43.9 y=53.2 /><use href=#b x=7.1 y=52.5 /><use href=#b x=33.4 y=61.3 /><use href=#b x=43.9 y=51.5 /><use href=#b x=31.7 y=57.8 /><use href=#b x=59.7 y=34.2 /><use href=#a x=7.1 y=69.3 /><use href=#a x=15.9 y=28.5 /><use href=#b x=59.7 y=51.8 /><use href=#c x=35.7 y=41.5 /><use href=#b x=12.4 y=43.2 /><use href=#b x=10.6 y=55.1 /><use href=#c x=59.7 y=53.1 /><use href=#b x=19.4 y=53.9 /><use href=#b x=12.4 y=59.6 /><use href=#b x=26.4 y=63.3 /><use href=#b x=22.9 y=23.8 /><use href=#b x=53.4 y=68.7 /><use href=#c x=29.9 y=41.1 /><use href=#b x=7.1 y=33.9 /><use href=#b x=7.1 y=47.1 /><use href=#b x=19.4 y=56 /><use href=#b x=10.6 y=44.2 /><use href=#b x=40.1 y=41 /><use href=#b x=24.7 y=63.1 /><use href=#b x=10.6 y=41.5 /><use href=#b x=43.9 y=54.4 /><use href=#b x=17.6 y=59 /><use href=#a x=17.6 y=43 /><use href=#c x=59.7 y=54.8 /><use href=#b x=15.9 y=50.5 /><use href=#b x=15.9 y=47.8 /><use href=#b x=35.2 y=54.6 /><use href=#b x=48.2 y=50 /><use href=#b x=3.6 y=60.6 /><use href=#b x=59.7 y=57.4 /><use href=#c x=44.4 y=44.3 /><use href=#b x=14.1 y=45.7 /><use href=#b x=48.2 y=30.1 /><use href=#c x=43.9 y=54.3 /><use href=#b x=24.7 y=34.7 /><use href=#c x=17.6 y=51.3 /><use href=#a x=14.1 y=49.6 /><use href=#b x=29.9 y=38.8 /><use href=#a x=7.1 y=65.2 /><use href=#b x=59.7 y=53.5 /><use href=#c x=33.4 y=37.1 /><use href=#b x=5.4 y=62.3 /><use href=#c x=12.4 y=53.7 /><use href=#c x=43.9 y=54.9 /><use href=#b x=56.4 y=32.7 /><use href=#b x=8.9 y=35 /><use href=#a x=19.4 y=60.8 /><use href=#b x=10.6 y=36.1 /><use href=#b x=48.2 y=46.7 /><use href=#c x=39.7 y=54.9 /><use href=#b x=22.9 y=49 /><use href=#a x=14.1 y=52.5 /><use href=#c x=35.5 y=49.5 /><use href=#b x=5.4 y=64.6 /><use href=#c x=61.3 y=39.1 /><use href=#c x=28.2 y=33.5 /><use href=#b x=35.9 y=59.1 /><use href=#b x=36.6 y=47.7 /><use href=#c x=43.9 y=48.4 /><use href=#b x=17.6 y=58.5 /><use href=#b x=14.1 y=50.2 /><use href=#b x=35.5 y=58.2 /><use href=#b x=53.4 y=45.8 /><use href=#b x=5.4 y=51.1 /><use href=#b x=17.6 y=66.9 /><use href=#a x=19.4 y=12.1 /><use href=#b x=31.7 y=48.1 /><use href=#a x=29.9 y=36.4 /><use href=#c x=39.7 y=56.2 /><use href=#b x=59.7 y=63.4 /><use href=#c x=15.9 y=61.2 /><use href=#a x=3.6 y=50.1 /><use href=#b x=48.2 y=32.2 /><use href=#b x=12.4 y=42 /><use href=#a x=5.4 y=63.4 /><use href=#b x=15.9 y=45.5 /><use href=#a x=5.4 y=57.8 /><use href=#b x=31.7 y=43.3 /><use href=#c x=61 y=5.4 /><use href=#a x=3.6 y=49.6 /><use href=#b x=39.7 y=46.4 /><use href=#b x=3.6 y=59.6 /><use href=#a x=14.1 y=34.2 /><use href=#b x=51.8 y=38.6 /><use href=#c x=33.4 y=30.5 /><use href=#b x=54.3 y=40.7 /><use href=#b x=43.9 y=63.4 /><use href=#b x=3.6 y=41.2 /><use href=#c x=39.7 y=48.5 /><use href=#c x=39.7 y=54.5 /><use href=#b x=5.4 y=51.3 /><use href=#b x=43.9 y=48.2 />
</g></g>
<rect x="292.5" y="425.9" width="70.6" height="72.6" fill="none" stroke="#808080" stroke-width="1.3"/>
<text class="t" x="317.2" y="509" text-anchor="middle">1</text>
<text class="t" x="352.3" y="509" text-anchor="middle">2</text>
<text class="t" x="288.5" y="486.1" text-anchor="end">50</text>
<text class="t" x="288.5" y="465" text-anchor="end">100</text>
<text class="t" x="288.5" y="443.8" text-anchor="end">150</text>
<path d="M317.2 498.5v2M352.3 498.5v2M292.5 483.3h-2M292.5 462.2h-2M292.5 441h-2" stroke="#444" stroke-width=".9"/>
<path d="M387.4 425.9v72.6M408.1 425.9v72.6M428.7 425.9v72.6M377.5 483.3h70.6M377.5 462.2h70.6M377.5 441h70.6" stroke="#d6d6d6" stroke-width=".8" stroke-dasharray="1.3 .9" fill="none"/>
<clipPath id="c54"><rect x="377.5" y="425.9" width="70.6" height="72.6"/></clipPath>
<g clip-path="url(#c54)"><g transform="translate(377.5 425.9)">
<use href=#b x=27.8 y=46.3 /><use href=#b x=21.1 y=48.1 /><use href=#b x=26.8 y=53.8 /><use href=#b x=25.6 y=32.4 /><use href=#b x=22.1 y=47.9 /><use href=#c x=29.2 y=57.8 /><use href=#b x=22.5 y=51.6 /><use href=#b x=20.2 y=37.7 /><use href=#b x=18.4 y=35.2 /><use href=#b x=21 y=51.7 /><use href=#b x=21.9 y=34.5 /><use href=#c x=24.6 y=62.5 /><use href=#b x=25.9 y=45.3 /><use href=#c x=20.8 y=40 /><use href=#a x=23.9 y=50.2 /><use href=#b x=24.1 y=51.9 /><use href=#b x=11.5 y=40.3 /><use href=#c x=20.3 y=33.1 /><use href=#b x=17.7 y=43.7 /><use href=#c x=28.7 y=35 /><use href=#b x=35.4 y=57.8 /><use href=#b x=36.3 y=57.4 /><use href=#c x=35.5 y=55.7 /><use href=#b x=28.1 y=50.9 /><use href=#c x=17.5 y=60.9 /><use href=#c x=26.2 y=29.4 /><use href=#a x=13.5 y=34.6 /><use href=#b x=23.5 y=26.5 /><use href=#a x=26.1 y=54.5 /><use href=#c x=37.9 y=59.1 /><use href=#a x=3.4 y=10.7 /><use href=#b x=20 y=44.1 /><use href=#b x=22.5 y=51.9 /><use href=#c x=38.7 y=62.2 /><use href=#c x=10.9 y=12.2 /><use href=#c x=37.3 y=62 /><use href=#b x=24 y=52.3 /><use href=#a x=11.9 y=30.7 /><use href=#b x=12.2 y=34.3 /><use href=#a x=18.6 y=44.4 /><use href=#c x=18.8 y=31.5 /><use href=#b x=17.5 y=44.9 /><use href=#a x=13 y=33.4 /><use href=#b x=27.1 y=50.1 /><use href=#a x=9.3 y=25.6 /><use href=#c x=23.2 y=40.5 /><use href=#c x=15.8 y=28.1 /><use href=#b x=23.6 y=51.3 /><use href=#c x=15.5 y=42.5 /><use href=#c x=38.4 y=57.7 /><use href=#b x=33.4 y=41 /><use href=#b x=25.1 y=52.5 /><use href=#b x=17.9 y=40.8 /><use href=#c x=21.6 y=35.6 /><use href=#c x=22.3 y=33.6 /><use href=#c x=18.1 y=27.2 /><use href=#b x=14 y=36.3 /><use href=#b x=27.5 y=32.6 /><use href=#a x=31.9 y=59.6 /><use href=#b x=30.4 y=31.8 /><use href=#b x=44.3 y=59.6 /><use href=#b x=23 y=38.8 /><use href=#b x=18.7 y=46.7 /><use href=#b x=20.5 y=51.8 /><use href=#b x=24.6 y=50.8 /><use href=#c x=27.7 y=32 /><use href=#a x=38.5 y=59.9 /><use href=#b x=18.2 y=60.3 /><use href=#b x=21 y=37.1 /><use href=#b x=13.3 y=44 /><use href=#b x=23.5 y=50.2 /><use href=#b x=20.8 y=47 /><use href=#c x=14.4 y=24.5 /><use href=#a x=60.5 y=65.3 /><use href=#a x=6.2 y=17.9 /><use href=#c x=34.1 y=55.9 /><use href=#a x=42.3 y=61.1 /><use href=#a x=28.2 y=53.6 /><use href=#b x=24.3 y=36.9 /><use href=#b x=22.4 y=51.7 /><use href=#b x=20.3 y=45.7 /><use href=#b x=22.6 y=52.8 /><use href=#b x=13.1 y=25.4 /><use href=#b x=40.5 y=68.6 /><use href=#b x=32.7 y=66.6 /><use href=#c x=32.6 y=53.2 /><use href=#b x=35.2 y=58.1 /><use href=#b x=25.3 y=53.1 /><use href=#b x=45.1 y=60.2 /><use href=#b x=22.8 y=50.2 /><use href=#a x=34 y=55.1 /><use href=#b x=25 y=50.2 /><use href=#c x=18.1 y=35.5 /><use href=#b x=21 y=43.4 /><use href=#b x=35.7 y=58.8 /><use href=#c x=26.8 y=43.7 /><use href=#c x=28.1 y=42.2 /><use href=#b x=19.2 y=40.6 /><use href=#a x=22.1 y=44.6 /><use href=#a x=31.5 y=56.6 /><use href=#b x=29.5 y=56.6 /><use href=#b x=20 y=59.8 /><use href=#b x=40.1 y=58.7 /><use href=#b x=31.5 y=56.6 /><use href=#b x=31.6 y=36.5 /><use href=#b x=34.2 y=58.4 /><use href=#b x=17.6 y=44.7 /><use href=#b x=35.2 y=41.5 /><use href=#b x=23.3 y=54.5 /><use href=#c x=24.4 y=47.3 /><use href=#b x=23.6 y=32.4 /><use href=#b x=31.8 y=65.1 /><use href=#b x=37.9 y=40.9 /><use href=#a x=62.2 y=67.8 /><use href=#b x=11.5 y=35.5 /><use href=#b x=21.4 y=46.6 /><use href=#b x=18 y=43 /><use href=#c x=28.5 y=55.6 /><use href=#b x=25.3 y=52.2 /><use href=#b x=17.4 y=44.9 /><use href=#b x=27.3 y=65.5 /><use href=#b x=28.4 y=53.3 /><use href=#b x=22.5 y=51.4 /><use href=#b x=20.9 y=49.2 /><use href=#c x=19.4 y=61.3 /><use href=#b x=18.2 y=44.1 /><use href=#b x=24 y=61.1 /><use href=#c x=20.6 y=45.2 /><use href=#b x=43.5 y=59.6 /><use href=#a x=10.3 y=22.4 /><use href=#c x=34.5 y=55.7 /><use href=#b x=18.4 y=45.7 /><use href=#b x=24.1 y=48.3 /><use href=#c x=19.8 y=32.2 /><use href=#b x=24.5 y=50.7 /><use href=#c x=40.1 y=62.3 /><use href=#c x=24.7 y=61.9 /><use href=#b x=15.1 y=40.7 /><use href=#a x=10.3 y=33.8 /><use href=#c x=24.5 y=36.3 /><use href=#b x=19 y=48.3 /><use href=#b x=29.3 y=55.4 /><use href=#b x=27.4 y=52.8 /><use href=#b x=30.5 y=54.8 /><use href=#c x=18.5 y=35.5 /><use href=#c x=14.2 y=44.3 /><use href=#a x=15.5 y=43.2 /><use href=#b x=31.4 y=39.6 /><use href=#b x=21.9 y=39.1 /><use href=#b x=24 y=49.2 /><use href=#a x=11.3 y=31.4 /><use href=#c x=32.1 y=56 /><use href=#a x=39.3 y=64.1 /><use href=#b x=13.1 y=54.2 /><use href=#b x=21.3 y=48.1 /><use href=#c x=14.6 y=19.9 /><use href=#b x=14.6 y=23.7 /><use href=#c x=21.4 y=46 /><use href=#a x=12.5 y=37.7 /><use href=#c x=29 y=43 /><use href=#b x=37.5 y=65.3 /><use href=#b x=27.6 y=63.6 /><use href=#b x=25.4 y=52.4 /><use href=#c x=33.9 y=40.7 /><use href=#b x=28 y=55 /><use href=#b x=12.8 y=53 /><use href=#b x=17.8 y=30.9 /><use href=#c x=33.6 y=58.9 /><use href=#b x=22.9 y=41 /><use href=#b x=24 y=47.8 /><use href=#a x=4.2 y=13.8 /><use href=#b x=26.6 y=53.7 /><use href=#c x=22.6 y=49.9 /><use href=#b x=29.5 y=53.8 /><use href=#b x=21.7 y=52.6 /><use href=#b x=26.4 y=52.8 /><use href=#a x=50.5 y=62.4 /><use href=#b x=18 y=44.3 /><use href=#b x=37.7 y=42.2 /><use href=#a x=62.1 y=67.7 /><use href=#b x=24.2 y=52.2 /><use href=#b x=18.9 y=41.5 /><use href=#c x=14.7 y=31.6 /><use href=#b x=20.6 y=48.3 /><use href=#b x=28.6 y=55.8 /><use href=#b x=15 y=43.8 /><use href=#b x=12.9 y=35.2 /><use href=#b x=21.8 y=50.9 /><use href=#b x=12.3 y=37.7 /><use href=#b x=18.6 y=44.3 /><use href=#b x=19.2 y=30.7 /><use href=#b x=19.7 y=44.9 /><use href=#c x=17.8 y=62.5 /><use href=#b x=35.8 y=57.3 /><use href=#c x=19.7 y=29.7 /><use href=#a x=36.3 y=56.3 /><use href=#b x=27 y=51.6 /><use href=#b x=20.8 y=49.6 /><use href=#c x=15.3 y=38 /><use href=#b x=16.5 y=43.6 /><use href=#a x=54.3 y=66.8 /><use href=#c x=25.3 y=52.6 /><use href=#b x=24.2 y=25.6 /><use href=#b x=20.3 y=51.1 /><use href=#b x=35.9 y=56.3 /><use href=#b x=48.2 y=60.3 /><use href=#b x=20.9 y=44.9 /><use href=#b x=23.9 y=51.9 /><use href=#b x=24.2 y=50.6 /><use href=#b x=28.7 y=68.6 /><use href=#b x=11.4 y=55 /><use href=#b x=20.4 y=48.1 /><use href=#b x=32.9 y=45.7 /><use href=#b x=22.4 y=50.4 /><use href=#b x=23.2 y=50.8 /><use href=#b x=32.7 y=56.3 /><use href=#c x=11 y=10.1 /><use href=#a x=9.2 y=27.1 /><use href=#c x=15.1 y=25.9 /><use href=#b x=20.2 y=47.8 /><use href=#c x=19.1 y=33.8 /><use href=#c x=21.4 y=39.9 /><use href=#b x=19.8 y=50.5 /><use href=#b x=29.3 y=30.6 /><use href=#c x=29.6 y=57.8 /><use href=#a x=27 y=63.9 /><use href=#b x=20.1 y=48.6 /><use href=#a x=29 y=54.7 /><use href=#b x=16.3 y=37.4 /><use href=#b x=26.3 y=51.3 /><use href=#a x=22 y=47.4 /><use href=#b x=33.8 y=35.2 /><use href=#b x=35.8 y=61.2 /><use href=#c x=15.4 y=26.5 /><use href=#c x=22.8 y=43 /><use href=#b x=32 y=53.7 /><use href=#a x=12.4 y=34 /><use href=#b x=22.1 y=51.2 /><use href=#b x=27.2 y=32.7 /><use href=#b x=32.7 y=56.4 /><use href=#b x=39.3 y=58.9 /><use href=#c x=12.3 y=25.8 /><use href=#b x=17.9 y=40.7 /><use href=#b x=27 y=52.8 /><use href=#c x=24.6 y=61.8 /><use href=#b x=20.9 y=47.5 /><use href=#c x=33.1 y=57.4 /><use href=#b x=29.6 y=54.8 /><use href=#b x=22 y=53.7 /><use href=#b x=17.7 y=43.6 /><use href=#c x=25.2 y=65.6 /><use href=#b x=15 y=43.9 /><use href=#a x=9.5 y=30.8 /><use href=#b x=23.6 y=26.7 /><use href=#c x=35.4 y=55.9 /><use href=#a x=9.5 y=28.7 /><use href=#a x=50.3 y=63.4 /><use href=#a x=19.9 y=46.6 /><use href=#b x=20.2 y=60.5 /><use href=#c x=17.4 y=46 /><use href=#c x=25.2 y=49.8 /><use href=#c x=17.4 y=46.7 /><use href=#b x=22.7 y=63.3 /><use href=#b x=24 y=54.4 /><use href=#b x=20.3 y=45 /><use href=#c x=21.6 y=47.9 /><use href=#b x=27.9 y=55.6 /><use href=#b x=29.9 y=52.9 /><use href=#b x=28.6 y=66.2 /><use href=#c x=34.2 y=57.3 /><use href=#a x=31.8 y=59.7 /><use href=#c x=16.6 y=26.1 /><use href=#b x=42.3 y=67.7 /><use href=#b x=23.6 y=40.3 /><use href=#b x=12 y=38.1 /><use href=#a x=17.1 y=40.8 /><use href=#b x=20.5 y=66 /><use href=#c x=15.1 y=46.5 /><use href=#b x=33.8 y=58.2 /><use href=#b x=23.1 y=47.6 /><use href=#c x=20.2 y=49.6 /><use href=#b x=24 y=52.7 /><use href=#b x=27.4 y=62.3 /><use href=#b x=32.7 y=54.1 /><use href=#b x=17.5 y=64.1 /><use href=#b x=15.1 y=44.8 /><use href=#c x=24.1 y=50.9 /><use href=#a x=38.4 y=61.7 /><use href=#b x=66.2 y=65.6 /><use href=#b x=14.5 y=39 /><use href=#b x=30.3 y=69.1 /><use href=#b x=31.2 y=32.8 /><use href=#b x=26.9 y=54 /><use href=#a x=6.4 y=20.8 /><use href=#b x=27.2 y=52.2 /><use href=#c x=31.3 y=58 /><use href=#b x=17.6 y=40.4 /><use href=#c x=33.9 y=57.4 /><use href=#b x=26.2 y=52.8 /><use href=#c x=16.4 y=45.2 /><use href=#b x=20.1 y=18.4 /><use href=#b x=25.4 y=52.6 /><use href=#b x=29.4 y=64.9 /><use href=#b x=26.9 y=51.6 /><use href=#b x=20 y=64.7 /><use href=#c x=25.3 y=37.3 /><use href=#a x=11 y=33.1 /><use href=#c x=26.8 y=57.1 /><use href=#c x=21.5 y=53.3 /><use href=#b x=23.4 y=65.7 /><use href=#b x=30.3 y=57 /><use href=#b x=25 y=52.6 /><use href=#b x=33.4 y=56.9 /><use href=#b x=18.3 y=46.1 /><use href=#b x=21.7 y=64.8 /><use href=#b x=42.1 y=69.3 /><use href=#b x=18.7 y=48.8 /><use href=#a x=41.9 y=70.6 /><use href=#b x=19.4 y=57.6 /><use href=#b x=17.9 y=41.9 /><use href=#b x=26.1 y=50.1 /><use href=#b x=22 y=48 /><use href=#b x=22.6 y=60.9 /><use href=#b x=23.2 y=52.1 /><use href=#b x=30.2 y=56.8 /><use href=#c x=23.1 y=39.8 /><use href=#a x=31.4 y=58.6 /><use href=#a x=55.1 y=65.7 /><use href=#b x=34.5 y=36.1 /><use href=#b x=25.6 y=54.8 /><use href=#b x=19 y=45.2 /><use href=#b x=20.6 y=37.3 /><use href=#b x=22 y=53.5 /><use href=#b x=22.8 y=21.1 /><use href=#b x=19.4 y=61.3 /><use href=#c x=26.9 y=52.9 /><use href=#c x=28.9 y=50.8 /><use href=#a x=31 y=54.3 /><use href=#b x=20.9 y=52.5 /><use href=#b x=18.4 y=41.6 /><use href=#b x=22.9 y=50.3 /><use href=#a x=36.2 y=61.7 /><use href=#c x=29 y=53.9 /><use href=#b x=14.3 y=39.9 /><use href=#c x=24.3 y=53.9 /><use href=#b x=23.2 y=50.4 /><use href=#b x=23.6 y=49.9 /><use href=#c x=28.1 y=53.2 /><use href=#b x=26.3 y=52.5 /><use href=#b x=34.2 y=61.3 /><use href=#b x=24.5 y=51.5 /><use href=#b x=41.2 y=57.8 /><use href=#b x=27.2 y=34.2 /><use href=#a x=33.7 y=69.3 /><use href=#a x=12.9 y=28.5 /><use href=#b x=27.1 y=51.8 /><use href=#c x=22.2 y=41.5 /><use href=#b x=17.3 y=43.2 /><use href=#b x=28.8 y=55.1 /><use href=#c x=27.9 y=53.1 /><use href=#b x=30.4 y=53.9 /><use href=#b x=20 y=59.6 /><use href=#b x=27.9 y=63.3 /><use href=#b x=23.1 y=23.8 /><use href=#b x=27 y=68.7 /><use href=#c x=14.6 y=41.1 /><use href=#b x=26.8 y=33.9 /><use href=#b x=20.9 y=47.1 /><use href=#b x=11.6 y=56 /><use href=#b x=19 y=44.2 /><use href=#b x=17.8 y=41 /><use href=#b x=29.6 y=63.1 /><use href=#b x=17.3 y=41.5 /><use href=#b x=28.7 y=54.4 /><use href=#b x=15.3 y=59 /><use href=#a x=12.2 y=43 /><use href=#c x=32.2 y=54.8 /><use href=#b x=20.7 y=50.5 /><use href=#b x=18.4 y=47.8 /><use href=#b x=29.4 y=54.6 /><use href=#b x=19.7 y=50 /><use href=#b x=43 y=60.6 /><use href=#b x=38.1 y=57.4 /><use href=#c x=27.5 y=44.3 /><use href=#b x=19.9 y=45.7 /><use href=#b x=24 y=30.1 /><use href=#c x=22.5 y=54.3 /><use href=#b x=26.9 y=34.7 /><use href=#c x=22.3 y=51.3 /><use href=#a x=28.8 y=49.6 /><use href=#b x=16.8 y=38.8 /><use href=#a x=27.9 y=65.2 /><use href=#b x=24.7 y=53.5 /><use href=#c x=31.6 y=37.1 /><use href=#b x=14.4 y=62.3 /><use href=#c x=25.6 y=53.7 /><use href=#c x=32.7 y=54.9 /><use href=#b x=20.5 y=32.7 /><use href=#b x=33.6 y=35 /><use href=#a x=30.3 y=60.8 /><use href=#b x=34.6 y=36.1 /><use href=#b x=18 y=46.7 /><use href=#c x=29 y=54.9 /><use href=#b x=20.9 y=49 /><use href=#a x=24 y=52.5 /><use href=#c x=20.1 y=49.5 /><use href=#b x=29.2 y=64.6 /><use href=#c x=27 y=39.1 /><use href=#c x=28.3 y=33.5 /><use href=#b x=21 y=59.1 /><use href=#b x=23.6 y=47.7 /><use href=#c x=20.2 y=48.4 /><use href=#b x=36.9 y=58.5 /><use href=#b x=20.5 y=50.2 /><use href=#b x=42.8 y=58.2 /><use href=#b x=19.4 y=45.8 /><use href=#b x=23.9 y=51.1 /><use href=#b x=20.3 y=66.9 /><use href=#a x=4.8 y=12.1 /><use href=#b x=20.1 y=48.1 /><use href=#a x=14.4 y=36.4 /><use href=#c x=35.6 y=56.2 /><use href=#b x=48.3 y=63.4 /><use href=#c x=22.2 y=61.2 /><use href=#a x=22.9 y=50.1 /><use href=#b x=26.5 y=32.2 /><use href=#b x=15.2 y=42 /><use href=#a x=44.9 y=63.4 /><use href=#b x=18.8 y=45.5 /><use href=#a x=24.7 y=57.8 /><use href=#b x=19.1 y=43.3 /><use href=#c x=9.5 y=5.4 /><use href=#a x=18.5 y=49.6 /><use href=#b x=21.4 y=46.4 /><use href=#b x=34 y=59.6 /><use href=#a x=10.8 y=34.2 /><use href=#b x=24 y=38.6 /><use href=#c x=14 y=30.5 /><use href=#b x=26.6 y=40.7 /><use href=#b x=22.7 y=63.4 /><use href=#b x=16 y=41.2 /><use href=#c x=18.6 y=48.5 /><use href=#c x=32.7 y=54.5 /><use href=#b x=24 y=51.3 /><use href=#b x=22.4 y=48.2 />
</g></g>
<rect x="377.5" y="425.9" width="70.6" height="72.6" fill="none" stroke="#808080" stroke-width="1.3"/>
<text class="t" x="387.4" y="509" text-anchor="middle">2.5</text>
<text class="t" x="408.1" y="509" text-anchor="middle">5.0</text>
<text class="t" x="428.7" y="509" text-anchor="middle">7.5</text>
<text class="t" x="373.5" y="486.1" text-anchor="end">50</text>
<text class="t" x="373.5" y="465" text-anchor="end">100</text>
<text class="t" x="373.5" y="443.8" text-anchor="end">150</text>
<path d="M387.4 498.5v2M408.1 498.5v2M428.7 498.5v2M377.5 483.3h-2M377.5 462.2h-2M377.5 441h-2" stroke="#444" stroke-width=".9"/>
<path d="M477.2 425.9v72.6M497.8 425.9v72.6M518.3 425.9v72.6M462.4 498.5h70.6M462.4 479h70.6M462.4 459.4h70.6M462.4 439.9h70.6" stroke="#d6d6d6" stroke-width=".8" stroke-dasharray="1.3 .9" fill="none"/>
<path d="M465.7 498.5h6.4v-26h-6.4zM472.1 498.5h6.4v-36.1h-6.4zM478.5 498.5h6.4v-69.1h-6.4zM484.9 498.5h6.4v-27h-6.4zM491.3 498.5h6.4v-23.7h-6.4zM497.7 498.5h6.4v-17.9h-6.4zM504.2 498.5h6.4v-8.2h-6.4zM510.6 498.5h6.4v-2.2h-6.4zM517 498.5h6.4v-0.5h-6.4zM523.4 498.5h6.4v-0.4h-6.4z" fill="#f6f26a" stroke="#2b2433" stroke-width="1"/>
<rect x="462.4" y="425.9" width="70.6" height="72.6" fill="none" stroke="#808080" stroke-width="1.3"/>
<text class="t" x="477.2" y="509" text-anchor="middle">50</text>
<text class="t" x="497.8" y="509" text-anchor="middle">100</text>
<text class="t" x="518.3" y="509" text-anchor="middle">150</text>
<text class="t" x="458.4" y="501.3" text-anchor="end">0</text>
<text class="t" x="458.4" y="481.8" text-anchor="end">50</text>
<text class="t" x="458.4" y="462.2" text-anchor="end">100</text>
<text class="t" x="458.4" y="442.7" text-anchor="end">150</text>
<path d="M477.2 498.5v2M497.8 498.5v2M518.3 498.5v2M462.4 498.5h-2M462.4 479h-2M462.4 459.4h-2M462.4 439.9h-2" stroke="#444" stroke-width=".9"/>
<text class="l" transform="translate(16.9 42.6) rotate(-90)" text-anchor="middle" textLength="38.5" lengthAdjust="spacingAndGlyphs">TFC(KN)</text>
<text class="l" transform="translate(16.9 126.5) rotate(-90)" text-anchor="middle" textLength="58" lengthAdjust="spacingAndGlyphs">RPM(rev/min)</text>
<text class="l" transform="translate(16.9 210.4) rotate(-90)" text-anchor="middle" textLength="33" lengthAdjust="spacingAndGlyphs">PR(m/h)</text>
<text class="l" transform="translate(16.9 294.4) rotate(-90)" text-anchor="middle" textLength="34" lengthAdjust="spacingAndGlyphs">AR(m/h)</text>
<text class="l" transform="translate(16.9 378.3) rotate(-90)" text-anchor="middle" textLength="56.5" lengthAdjust="spacingAndGlyphs">Prev(mm/rev)</text>
<text class="l" transform="translate(16.9 462.2) rotate(-90)" text-anchor="middle" textLength="95" lengthAdjust="spacingAndGlyphs">FPI(KN/cutter/mm/rev)</text>
<text class="l" x="73.4" y="519.6" text-anchor="middle" textLength="38.5" lengthAdjust="spacingAndGlyphs">TFC(KN)</text>
<text class="l" x="158.4" y="519.6" text-anchor="middle" textLength="58" lengthAdjust="spacingAndGlyphs">RPM(rev/min)</text>
<text class="l" x="243.4" y="519.6" text-anchor="middle" textLength="33" lengthAdjust="spacingAndGlyphs">PR(m/h)</text>
<text class="l" x="328.3" y="519.6" text-anchor="middle" textLength="34" lengthAdjust="spacingAndGlyphs">AR(m/h)</text>
<text class="l" x="413.3" y="519.6" text-anchor="middle" textLength="56.5" lengthAdjust="spacingAndGlyphs">Prev(mm/rev)</text>
<text class="l" x="498.2" y="519.6" text-anchor="middle" textLength="95" lengthAdjust="spacingAndGlyphs">FPI(KN/cutter/mm/rev)</text>
<rect x="159.5" y="524.6" width="226.8" height="16.8" rx="1.8" fill="#fff" stroke="#555" stroke-width="1"/>
<circle cx="173.5" cy="532.2" r="1.4" fill="#f2e655" stroke="#111" stroke-width=".9"/>
<text x="191.9" y="535.6" style="font-size:10px;stroke-width:.12px;fill:#111">Class I</text>
<circle cx="250.2" cy="532.2" r="1.4" fill="#3272dc" stroke="#111" stroke-width=".9"/>
<text x="268.6" y="535.6" style="font-size:10px;stroke-width:.12px;fill:#111">Class II</text>
<circle cx="330.3" cy="532.2" r="1.4" fill="#ec6a8a" stroke="#111" stroke-width=".9"/>
<text x="348.2" y="535.6" style="font-size:10px;stroke-width:.12px;fill:#111">Class III</text>
</svg></body></html>
